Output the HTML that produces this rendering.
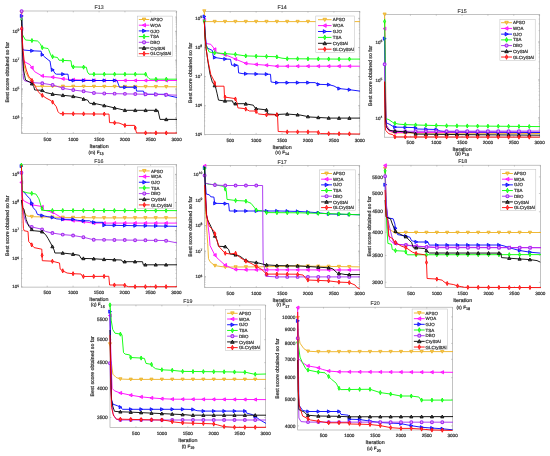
<!DOCTYPE html>
<html><head><meta charset="utf-8"><style>
html,body{margin:0;padding:0;background:#fff;}
svg{display:block;filter:blur(0.3px);}
</style></head><body>
<svg width="550" height="456" viewBox="0 0 550 456" text-rendering="geometricPrecision" font-family="'Liberation Sans', Arial, sans-serif">
<style>text{stroke:#2e2e2e;stroke-width:0.2px;} text.t{stroke:#333;fill:#333;stroke-width:0.12px;}</style>
<rect width="550" height="456" fill="#fff"/>
<text class="t" x="99.1" y="9.1" font-size="5.3" text-anchor="middle" fill="#2e2e2e">F13</text>
<rect x="21.6" y="11" width="155" height="122.5" fill="#fff" stroke="#9a9a9a" stroke-width="0.6"/>
<path d="M47.43 133.5v-1.4M47.43 11v1.4" stroke="#9a9a9a" stroke-width="0.5"/>
<text x="47.43" y="140.7" font-size="4.6" text-anchor="middle" fill="#2e2e2e">500</text>
<path d="M73.27 133.5v-1.4M73.27 11v1.4" stroke="#9a9a9a" stroke-width="0.5"/>
<text x="73.27" y="140.7" font-size="4.6" text-anchor="middle" fill="#2e2e2e">1000</text>
<path d="M99.1 133.5v-1.4M99.1 11v1.4" stroke="#9a9a9a" stroke-width="0.5"/>
<text x="99.1" y="140.7" font-size="4.6" text-anchor="middle" fill="#2e2e2e">1500</text>
<path d="M124.93 133.5v-1.4M124.93 11v1.4" stroke="#9a9a9a" stroke-width="0.5"/>
<text x="124.93" y="140.7" font-size="4.6" text-anchor="middle" fill="#2e2e2e">2000</text>
<path d="M150.77 133.5v-1.4M150.77 11v1.4" stroke="#9a9a9a" stroke-width="0.5"/>
<text x="150.77" y="140.7" font-size="4.6" text-anchor="middle" fill="#2e2e2e">2500</text>
<path d="M176.6 133.5v-1.4M176.6 11v1.4" stroke="#9a9a9a" stroke-width="0.5"/>
<text x="176.6" y="140.7" font-size="4.6" text-anchor="middle" fill="#2e2e2e">3000</text>
<path d="M21.6 31.3h1.4M176.6 31.3h-1.4" stroke="#9a9a9a" stroke-width="0.5"/>
<text x="19.3" y="32.9" font-size="4.5" text-anchor="end" fill="#2e2e2e">10<tspan font-size="3.3" dy="-1.8">9</tspan></text>
<path d="M21.6 60.14h1.4M176.6 60.14h-1.4" stroke="#9a9a9a" stroke-width="0.5"/>
<text x="19.3" y="61.74" font-size="4.5" text-anchor="end" fill="#2e2e2e">10<tspan font-size="3.3" dy="-1.8">7</tspan></text>
<path d="M21.6 88.98h1.4M176.6 88.98h-1.4" stroke="#9a9a9a" stroke-width="0.5"/>
<text x="19.3" y="90.58" font-size="4.5" text-anchor="end" fill="#2e2e2e">10<tspan font-size="3.3" dy="-1.8">5</tspan></text>
<path d="M21.6 117.82h1.4M176.6 117.82h-1.4" stroke="#9a9a9a" stroke-width="0.5"/>
<text x="19.3" y="119.42" font-size="4.5" text-anchor="end" fill="#2e2e2e">10<tspan font-size="3.3" dy="-1.8">3</tspan></text>
<path d="M21.6 132.9h1M176.6 132.9h-1" stroke="#9a9a9a" stroke-width="0.45"/>
<path d="M21.6 132.24h1.4M176.6 132.24h-1.4" stroke="#9a9a9a" stroke-width="0.45"/>
<path d="M21.6 127.9h1M176.6 127.9h-1" stroke="#9a9a9a" stroke-width="0.45"/>
<path d="M21.6 125.36h1M176.6 125.36h-1" stroke="#9a9a9a" stroke-width="0.45"/>
<path d="M21.6 123.56h1M176.6 123.56h-1" stroke="#9a9a9a" stroke-width="0.45"/>
<path d="M21.6 122.16h1M176.6 122.16h-1" stroke="#9a9a9a" stroke-width="0.45"/>
<path d="M21.6 121.02h1M176.6 121.02h-1" stroke="#9a9a9a" stroke-width="0.45"/>
<path d="M21.6 120.05h1M176.6 120.05h-1" stroke="#9a9a9a" stroke-width="0.45"/>
<path d="M21.6 119.22h1M176.6 119.22h-1" stroke="#9a9a9a" stroke-width="0.45"/>
<path d="M21.6 118.48h1M176.6 118.48h-1" stroke="#9a9a9a" stroke-width="0.45"/>
<path d="M21.6 117.82h1.4M176.6 117.82h-1.4" stroke="#9a9a9a" stroke-width="0.45"/>
<path d="M21.6 113.48h1M176.6 113.48h-1" stroke="#9a9a9a" stroke-width="0.45"/>
<path d="M21.6 110.94h1M176.6 110.94h-1" stroke="#9a9a9a" stroke-width="0.45"/>
<path d="M21.6 109.14h1M176.6 109.14h-1" stroke="#9a9a9a" stroke-width="0.45"/>
<path d="M21.6 107.74h1M176.6 107.74h-1" stroke="#9a9a9a" stroke-width="0.45"/>
<path d="M21.6 106.6h1M176.6 106.6h-1" stroke="#9a9a9a" stroke-width="0.45"/>
<path d="M21.6 105.63h1M176.6 105.63h-1" stroke="#9a9a9a" stroke-width="0.45"/>
<path d="M21.6 104.8h1M176.6 104.8h-1" stroke="#9a9a9a" stroke-width="0.45"/>
<path d="M21.6 104.06h1M176.6 104.06h-1" stroke="#9a9a9a" stroke-width="0.45"/>
<path d="M21.6 103.4h1.4M176.6 103.4h-1.4" stroke="#9a9a9a" stroke-width="0.45"/>
<path d="M21.6 99.06h1M176.6 99.06h-1" stroke="#9a9a9a" stroke-width="0.45"/>
<path d="M21.6 96.52h1M176.6 96.52h-1" stroke="#9a9a9a" stroke-width="0.45"/>
<path d="M21.6 94.72h1M176.6 94.72h-1" stroke="#9a9a9a" stroke-width="0.45"/>
<path d="M21.6 93.32h1M176.6 93.32h-1" stroke="#9a9a9a" stroke-width="0.45"/>
<path d="M21.6 92.18h1M176.6 92.18h-1" stroke="#9a9a9a" stroke-width="0.45"/>
<path d="M21.6 91.21h1M176.6 91.21h-1" stroke="#9a9a9a" stroke-width="0.45"/>
<path d="M21.6 90.38h1M176.6 90.38h-1" stroke="#9a9a9a" stroke-width="0.45"/>
<path d="M21.6 89.64h1M176.6 89.64h-1" stroke="#9a9a9a" stroke-width="0.45"/>
<path d="M21.6 88.98h1.4M176.6 88.98h-1.4" stroke="#9a9a9a" stroke-width="0.45"/>
<path d="M21.6 84.64h1M176.6 84.64h-1" stroke="#9a9a9a" stroke-width="0.45"/>
<path d="M21.6 82.1h1M176.6 82.1h-1" stroke="#9a9a9a" stroke-width="0.45"/>
<path d="M21.6 80.3h1M176.6 80.3h-1" stroke="#9a9a9a" stroke-width="0.45"/>
<path d="M21.6 78.9h1M176.6 78.9h-1" stroke="#9a9a9a" stroke-width="0.45"/>
<path d="M21.6 77.76h1M176.6 77.76h-1" stroke="#9a9a9a" stroke-width="0.45"/>
<path d="M21.6 76.79h1M176.6 76.79h-1" stroke="#9a9a9a" stroke-width="0.45"/>
<path d="M21.6 75.96h1M176.6 75.96h-1" stroke="#9a9a9a" stroke-width="0.45"/>
<path d="M21.6 75.22h1M176.6 75.22h-1" stroke="#9a9a9a" stroke-width="0.45"/>
<path d="M21.6 74.56h1.4M176.6 74.56h-1.4" stroke="#9a9a9a" stroke-width="0.45"/>
<path d="M21.6 70.22h1M176.6 70.22h-1" stroke="#9a9a9a" stroke-width="0.45"/>
<path d="M21.6 67.68h1M176.6 67.68h-1" stroke="#9a9a9a" stroke-width="0.45"/>
<path d="M21.6 65.88h1M176.6 65.88h-1" stroke="#9a9a9a" stroke-width="0.45"/>
<path d="M21.6 64.48h1M176.6 64.48h-1" stroke="#9a9a9a" stroke-width="0.45"/>
<path d="M21.6 63.34h1M176.6 63.34h-1" stroke="#9a9a9a" stroke-width="0.45"/>
<path d="M21.6 62.37h1M176.6 62.37h-1" stroke="#9a9a9a" stroke-width="0.45"/>
<path d="M21.6 61.54h1M176.6 61.54h-1" stroke="#9a9a9a" stroke-width="0.45"/>
<path d="M21.6 60.8h1M176.6 60.8h-1" stroke="#9a9a9a" stroke-width="0.45"/>
<path d="M21.6 60.14h1.4M176.6 60.14h-1.4" stroke="#9a9a9a" stroke-width="0.45"/>
<path d="M21.6 55.8h1M176.6 55.8h-1" stroke="#9a9a9a" stroke-width="0.45"/>
<path d="M21.6 53.26h1M176.6 53.26h-1" stroke="#9a9a9a" stroke-width="0.45"/>
<path d="M21.6 51.46h1M176.6 51.46h-1" stroke="#9a9a9a" stroke-width="0.45"/>
<path d="M21.6 50.06h1M176.6 50.06h-1" stroke="#9a9a9a" stroke-width="0.45"/>
<path d="M21.6 48.92h1M176.6 48.92h-1" stroke="#9a9a9a" stroke-width="0.45"/>
<path d="M21.6 47.95h1M176.6 47.95h-1" stroke="#9a9a9a" stroke-width="0.45"/>
<path d="M21.6 47.12h1M176.6 47.12h-1" stroke="#9a9a9a" stroke-width="0.45"/>
<path d="M21.6 46.38h1M176.6 46.38h-1" stroke="#9a9a9a" stroke-width="0.45"/>
<path d="M21.6 45.72h1.4M176.6 45.72h-1.4" stroke="#9a9a9a" stroke-width="0.45"/>
<path d="M21.6 41.38h1M176.6 41.38h-1" stroke="#9a9a9a" stroke-width="0.45"/>
<path d="M21.6 38.84h1M176.6 38.84h-1" stroke="#9a9a9a" stroke-width="0.45"/>
<path d="M21.6 37.04h1M176.6 37.04h-1" stroke="#9a9a9a" stroke-width="0.45"/>
<path d="M21.6 35.64h1M176.6 35.64h-1" stroke="#9a9a9a" stroke-width="0.45"/>
<path d="M21.6 34.5h1M176.6 34.5h-1" stroke="#9a9a9a" stroke-width="0.45"/>
<path d="M21.6 33.53h1M176.6 33.53h-1" stroke="#9a9a9a" stroke-width="0.45"/>
<path d="M21.6 32.7h1M176.6 32.7h-1" stroke="#9a9a9a" stroke-width="0.45"/>
<path d="M21.6 31.96h1M176.6 31.96h-1" stroke="#9a9a9a" stroke-width="0.45"/>
<path d="M21.6 31.3h1.4M176.6 31.3h-1.4" stroke="#9a9a9a" stroke-width="0.45"/>
<path d="M21.6 26.96h1M176.6 26.96h-1" stroke="#9a9a9a" stroke-width="0.45"/>
<path d="M21.6 24.42h1M176.6 24.42h-1" stroke="#9a9a9a" stroke-width="0.45"/>
<path d="M21.6 22.62h1M176.6 22.62h-1" stroke="#9a9a9a" stroke-width="0.45"/>
<path d="M21.6 21.22h1M176.6 21.22h-1" stroke="#9a9a9a" stroke-width="0.45"/>
<path d="M21.6 20.08h1M176.6 20.08h-1" stroke="#9a9a9a" stroke-width="0.45"/>
<path d="M21.6 19.11h1M176.6 19.11h-1" stroke="#9a9a9a" stroke-width="0.45"/>
<path d="M21.6 18.28h1M176.6 18.28h-1" stroke="#9a9a9a" stroke-width="0.45"/>
<path d="M21.6 17.54h1M176.6 17.54h-1" stroke="#9a9a9a" stroke-width="0.45"/>
<path d="M21.6 16.88h1.4M176.6 16.88h-1.4" stroke="#9a9a9a" stroke-width="0.45"/>
<path d="M21.6 12.54h1M176.6 12.54h-1" stroke="#9a9a9a" stroke-width="0.45"/>
<text x="99.1" y="148" font-size="5.3" text-anchor="middle" fill="#2e2e2e">Iteration</text>
<text x="96.1" y="153.5" font-size="4.6" text-anchor="middle" fill="#2e2e2e">(m) F<tspan font-size="3.8" dy="1.3">13</tspan></text>
<text transform="translate(9.1 72.25) rotate(-90)" font-size="5.2" text-anchor="middle" fill="#2e2e2e">Best score obtained so far</text>
<svg x="19.6" y="8" width="159" height="127.5" viewBox="19.6 8 159 127.5" overflow="hidden">
<path d="M21.6 12.5 L22 40 L23 60 L25.5 72 L28.8 78.3 L33 83.3 L36 86.3 L177 86.8" fill="none" stroke="#EDB120" stroke-width="0.9" stroke-linejoin="round"/>
<path d="M20.01 11.22L23.2 11.22L21.6 14.09Z" fill="#f2c862" stroke="#EDB120" stroke-width="0.8" stroke-linejoin="miter"/>
<path d="M30.34 80.75L33.53 80.75L31.93 83.63Z" fill="#f2c862" stroke="#EDB120" stroke-width="0.8" stroke-linejoin="miter"/>
<path d="M40.67 85.05L43.86 85.05L42.27 87.92Z" fill="#f2c862" stroke="#EDB120" stroke-width="0.8" stroke-linejoin="miter"/>
<path d="M51.01 85.08L54.2 85.08L52.6 87.95Z" fill="#f2c862" stroke="#EDB120" stroke-width="0.8" stroke-linejoin="miter"/>
<path d="M61.34 85.12L64.53 85.12L62.93 87.99Z" fill="#f2c862" stroke="#EDB120" stroke-width="0.8" stroke-linejoin="miter"/>
<path d="M71.67 85.16L74.86 85.16L73.27 88.03Z" fill="#f2c862" stroke="#EDB120" stroke-width="0.8" stroke-linejoin="miter"/>
<path d="M82 85.19L85.19 85.19L83.6 88.06Z" fill="#f2c862" stroke="#EDB120" stroke-width="0.8" stroke-linejoin="miter"/>
<path d="M92.34 85.23L95.53 85.23L93.93 88.1Z" fill="#f2c862" stroke="#EDB120" stroke-width="0.8" stroke-linejoin="miter"/>
<path d="M102.67 85.27L105.86 85.27L104.27 88.14Z" fill="#f2c862" stroke="#EDB120" stroke-width="0.8" stroke-linejoin="miter"/>
<path d="M113 85.3L116.19 85.3L114.6 88.17Z" fill="#f2c862" stroke="#EDB120" stroke-width="0.8" stroke-linejoin="miter"/>
<path d="M123.34 85.34L126.53 85.34L124.93 88.21Z" fill="#f2c862" stroke="#EDB120" stroke-width="0.8" stroke-linejoin="miter"/>
<path d="M133.67 85.38L136.86 85.38L135.27 88.25Z" fill="#f2c862" stroke="#EDB120" stroke-width="0.8" stroke-linejoin="miter"/>
<path d="M144 85.41L147.19 85.41L145.6 88.28Z" fill="#f2c862" stroke="#EDB120" stroke-width="0.8" stroke-linejoin="miter"/>
<path d="M154.34 85.45L157.53 85.45L155.93 88.32Z" fill="#f2c862" stroke="#EDB120" stroke-width="0.8" stroke-linejoin="miter"/>
<path d="M164.67 85.49L167.86 85.49L166.27 88.36Z" fill="#f2c862" stroke="#EDB120" stroke-width="0.8" stroke-linejoin="miter"/>
<path d="M21.6 29 L22.5 45 L23.2 59.4 L25 62 L29.9 64.6 L32.9 69.1 L34.7 71.7 L41.3 75.5 L44.7 76.7 L53 77.2 L63 78.8 L71.3 79.7 L99 80.5 L177 80.5" fill="none" stroke="#FF00FF" stroke-width="0.9" stroke-linejoin="round"/>
<path d="M22.88 27.41L22.88 30.59L20.01 29Z" fill="#ff4cff" stroke="#FF00FF" stroke-width="0.8" stroke-linejoin="miter"/>
<path d="M33.21 66.06L33.21 69.25L30.34 67.65Z" fill="#ff4cff" stroke="#FF00FF" stroke-width="0.8" stroke-linejoin="miter"/>
<path d="M43.54 74.25L43.54 77.44L40.67 75.84Z" fill="#ff4cff" stroke="#FF00FF" stroke-width="0.8" stroke-linejoin="miter"/>
<path d="M53.88 75.58L53.88 78.77L51.01 77.18Z" fill="#ff4cff" stroke="#FF00FF" stroke-width="0.8" stroke-linejoin="miter"/>
<path d="M64.21 77.19L64.21 80.38L61.34 78.79Z" fill="#ff4cff" stroke="#FF00FF" stroke-width="0.8" stroke-linejoin="miter"/>
<path d="M74.54 78.16L74.54 81.35L71.67 79.76Z" fill="#ff4cff" stroke="#FF00FF" stroke-width="0.8" stroke-linejoin="miter"/>
<path d="M84.88 78.46L84.88 81.65L82 80.06Z" fill="#ff4cff" stroke="#FF00FF" stroke-width="0.8" stroke-linejoin="miter"/>
<path d="M95.21 78.76L95.21 81.95L92.34 80.35Z" fill="#ff4cff" stroke="#FF00FF" stroke-width="0.8" stroke-linejoin="miter"/>
<path d="M105.54 78.91L105.54 82.09L102.67 80.5Z" fill="#ff4cff" stroke="#FF00FF" stroke-width="0.8" stroke-linejoin="miter"/>
<path d="M115.88 78.91L115.88 82.09L113 80.5Z" fill="#ff4cff" stroke="#FF00FF" stroke-width="0.8" stroke-linejoin="miter"/>
<path d="M126.21 78.91L126.21 82.09L123.34 80.5Z" fill="#ff4cff" stroke="#FF00FF" stroke-width="0.8" stroke-linejoin="miter"/>
<path d="M136.54 78.91L136.54 82.09L133.67 80.5Z" fill="#ff4cff" stroke="#FF00FF" stroke-width="0.8" stroke-linejoin="miter"/>
<path d="M146.88 78.91L146.88 82.09L144 80.5Z" fill="#ff4cff" stroke="#FF00FF" stroke-width="0.8" stroke-linejoin="miter"/>
<path d="M157.21 78.91L157.21 82.09L154.34 80.5Z" fill="#ff4cff" stroke="#FF00FF" stroke-width="0.8" stroke-linejoin="miter"/>
<path d="M167.54 78.91L167.54 82.09L164.67 80.5Z" fill="#ff4cff" stroke="#FF00FF" stroke-width="0.8" stroke-linejoin="miter"/>
<path d="M21.6 15.9 L22.3 30 L22.5 48.2 L23.5 50 L32.2 50.8 L41.1 51.2 L41.8 54.2 L43.5 56 L49 60.5 L50 61 L51.3 69.2 L53 70 L55 73.5 L56.5 74.2 L68 74.2 L68.8 80.5 L117 80.5 L119.5 87.3 L136 87.3 L136.5 91.1 L143.5 91.1 L144.5 94.3 L165 94.3 L168 95.5 L177 97.5" fill="none" stroke="#0000FF" stroke-width="0.9" stroke-linejoin="round"/>
<path d="M20.32 14.3L20.32 17.5L23.2 15.9Z" fill="#4c4cff" stroke="#0000FF" stroke-width="0.8" stroke-linejoin="miter"/>
<path d="M30.66 49.18L30.66 52.37L33.53 50.78Z" fill="#4c4cff" stroke="#0000FF" stroke-width="0.8" stroke-linejoin="miter"/>
<path d="M40.99 53.1L40.99 56.29L43.86 54.69Z" fill="#4c4cff" stroke="#0000FF" stroke-width="0.8" stroke-linejoin="miter"/>
<path d="M51.32 68.22L51.32 71.41L54.2 69.81Z" fill="#4c4cff" stroke="#0000FF" stroke-width="0.8" stroke-linejoin="miter"/>
<path d="M61.66 72.61L61.66 75.8L64.53 74.2Z" fill="#4c4cff" stroke="#0000FF" stroke-width="0.8" stroke-linejoin="miter"/>
<path d="M71.99 78.91L71.99 82.09L74.86 80.5Z" fill="#4c4cff" stroke="#0000FF" stroke-width="0.8" stroke-linejoin="miter"/>
<path d="M82.32 78.91L82.32 82.09L85.19 80.5Z" fill="#4c4cff" stroke="#0000FF" stroke-width="0.8" stroke-linejoin="miter"/>
<path d="M92.66 78.91L92.66 82.09L95.53 80.5Z" fill="#4c4cff" stroke="#0000FF" stroke-width="0.8" stroke-linejoin="miter"/>
<path d="M102.99 78.91L102.99 82.09L105.86 80.5Z" fill="#4c4cff" stroke="#0000FF" stroke-width="0.8" stroke-linejoin="miter"/>
<path d="M113.32 78.91L113.32 82.09L116.19 80.5Z" fill="#4c4cff" stroke="#0000FF" stroke-width="0.8" stroke-linejoin="miter"/>
<path d="M123.66 85.7L123.66 88.89L126.53 87.3Z" fill="#4c4cff" stroke="#0000FF" stroke-width="0.8" stroke-linejoin="miter"/>
<path d="M133.99 85.7L133.99 88.89L136.86 87.3Z" fill="#4c4cff" stroke="#0000FF" stroke-width="0.8" stroke-linejoin="miter"/>
<path d="M144.32 92.7L144.32 95.89L147.19 94.3Z" fill="#4c4cff" stroke="#0000FF" stroke-width="0.8" stroke-linejoin="miter"/>
<path d="M154.66 92.7L154.66 95.89L157.53 94.3Z" fill="#4c4cff" stroke="#0000FF" stroke-width="0.8" stroke-linejoin="miter"/>
<path d="M164.99 93.21L164.99 96.4L167.86 94.81Z" fill="#4c4cff" stroke="#0000FF" stroke-width="0.8" stroke-linejoin="miter"/>
<path d="M21.6 19.2 L22.5 34.8 L25.5 40 L37.5 41 L40.4 43.8 L41.8 47.5 L48 48.5 L48.6 49.5 L50 53 L51.5 56.5 L57.5 57.5 L59 60.2 L71 60.8 L71.8 66.9 L86.3 67.2 L87.5 72 L89 74.2 L146 74.2 L147.5 77 L149 78.5 L150 79.2 L177 79.2" fill="none" stroke="#00FF00" stroke-width="0.9" stroke-linejoin="round"/>
<path d="M21.6 17.13L22.59 19.2L21.6 21.27L20.61 19.2Z" fill="#4cff4c" stroke="#00FF00" stroke-width="0.8" stroke-linejoin="miter"/>
<path d="M31.93 38.46L32.92 40.54L31.93 42.61L30.94 40.54Z" fill="#4cff4c" stroke="#00FF00" stroke-width="0.8" stroke-linejoin="miter"/>
<path d="M42.27 45.5L43.26 47.58L42.27 49.65L41.28 47.58Z" fill="#4cff4c" stroke="#00FF00" stroke-width="0.8" stroke-linejoin="miter"/>
<path d="M52.6 54.61L53.59 56.68L52.6 58.76L51.61 56.68Z" fill="#4cff4c" stroke="#00FF00" stroke-width="0.8" stroke-linejoin="miter"/>
<path d="M62.93 58.32L63.92 60.4L62.93 62.47L61.94 60.4Z" fill="#4cff4c" stroke="#00FF00" stroke-width="0.8" stroke-linejoin="miter"/>
<path d="M73.27 64.86L74.26 66.93L73.27 69L72.28 66.93Z" fill="#4cff4c" stroke="#00FF00" stroke-width="0.8" stroke-linejoin="miter"/>
<path d="M83.6 65.07L84.59 67.14L83.6 69.22L82.61 67.14Z" fill="#4cff4c" stroke="#00FF00" stroke-width="0.8" stroke-linejoin="miter"/>
<path d="M93.93 72.13L94.92 74.2L93.93 76.27L92.94 74.2Z" fill="#4cff4c" stroke="#00FF00" stroke-width="0.8" stroke-linejoin="miter"/>
<path d="M104.27 72.13L105.26 74.2L104.27 76.27L103.28 74.2Z" fill="#4cff4c" stroke="#00FF00" stroke-width="0.8" stroke-linejoin="miter"/>
<path d="M114.6 72.13L115.59 74.2L114.6 76.27L113.61 74.2Z" fill="#4cff4c" stroke="#00FF00" stroke-width="0.8" stroke-linejoin="miter"/>
<path d="M124.93 72.13L125.92 74.2L124.93 76.27L123.94 74.2Z" fill="#4cff4c" stroke="#00FF00" stroke-width="0.8" stroke-linejoin="miter"/>
<path d="M135.27 72.13L136.26 74.2L135.27 76.27L134.28 74.2Z" fill="#4cff4c" stroke="#00FF00" stroke-width="0.8" stroke-linejoin="miter"/>
<path d="M145.6 72.13L146.59 74.2L145.6 76.27L144.61 74.2Z" fill="#4cff4c" stroke="#00FF00" stroke-width="0.8" stroke-linejoin="miter"/>
<path d="M155.93 77.13L156.92 79.2L155.93 81.27L154.94 79.2Z" fill="#4cff4c" stroke="#00FF00" stroke-width="0.8" stroke-linejoin="miter"/>
<path d="M166.27 77.13L167.26 79.2L166.27 81.27L165.28 79.2Z" fill="#4cff4c" stroke="#00FF00" stroke-width="0.8" stroke-linejoin="miter"/>
<path d="M21.6 11.1 L22.3 40 L23 70 L23.6 79 L24.7 80.8 L31.3 82.5 L42.2 83.3 L53 85 L63 88.3 L73 90 L83.8 91.3 L94.3 93 L105 93.5 L160 94.5 L177 95.2" fill="none" stroke="#A52AF0" stroke-width="0.9" stroke-linejoin="round"/>
<circle cx="21.6" cy="11.1" r="1.4" fill="#dba9f9" stroke="#A52AF0" stroke-width="1.1"/>
<circle cx="31.93" cy="82.55" r="1.4" fill="#dba9f9" stroke="#A52AF0" stroke-width="1.1"/>
<circle cx="42.27" cy="83.31" r="1.4" fill="#dba9f9" stroke="#A52AF0" stroke-width="1.1"/>
<circle cx="52.6" cy="84.94" r="1.4" fill="#dba9f9" stroke="#A52AF0" stroke-width="1.1"/>
<circle cx="62.93" cy="88.28" r="1.4" fill="#dba9f9" stroke="#A52AF0" stroke-width="1.1"/>
<circle cx="73.27" cy="90.03" r="1.4" fill="#dba9f9" stroke="#A52AF0" stroke-width="1.1"/>
<circle cx="83.6" cy="91.28" r="1.4" fill="#dba9f9" stroke="#A52AF0" stroke-width="1.1"/>
<circle cx="93.93" cy="92.94" r="1.4" fill="#dba9f9" stroke="#A52AF0" stroke-width="1.1"/>
<circle cx="104.27" cy="93.47" r="1.4" fill="#dba9f9" stroke="#A52AF0" stroke-width="1.1"/>
<circle cx="114.6" cy="93.67" r="1.4" fill="#dba9f9" stroke="#A52AF0" stroke-width="1.1"/>
<circle cx="124.93" cy="93.86" r="1.4" fill="#dba9f9" stroke="#A52AF0" stroke-width="1.1"/>
<circle cx="135.27" cy="94.05" r="1.4" fill="#dba9f9" stroke="#A52AF0" stroke-width="1.1"/>
<circle cx="145.6" cy="94.24" r="1.4" fill="#dba9f9" stroke="#A52AF0" stroke-width="1.1"/>
<circle cx="155.93" cy="94.43" r="1.4" fill="#dba9f9" stroke="#A52AF0" stroke-width="1.1"/>
<circle cx="166.27" cy="94.76" r="1.4" fill="#dba9f9" stroke="#A52AF0" stroke-width="1.1"/>
<path d="M21.6 20 L22.5 50 L23.5 70 L24.7 75.8 L25.5 80 L31.5 83 L33.8 86.7 L34.7 90 L42.2 90.3 L45.5 92.5 L53 94.2 L63 95.3 L73 96.3 L81.5 98 L83.8 99.2 L87.5 100 L89.7 103.3 L95 103.5 L104.5 105.6 L115 108 L125 110.3 L158 110.3 L160 119.4 L177 119.4" fill="none" stroke="#000000" stroke-width="0.9" stroke-linejoin="round"/>
<path d="M30.34 84.97L33.53 84.97L31.93 82.1Z" fill="#4c4c4c" stroke="#000000" stroke-width="0.8" stroke-linejoin="miter"/>
<path d="M40.67 91.62L43.86 91.62L42.27 88.75Z" fill="#4c4c4c" stroke="#000000" stroke-width="0.8" stroke-linejoin="miter"/>
<path d="M51.01 95.39L54.2 95.39L52.6 92.51Z" fill="#4c4c4c" stroke="#000000" stroke-width="0.8" stroke-linejoin="miter"/>
<path d="M61.34 96.57L64.53 96.57L62.93 93.7Z" fill="#4c4c4c" stroke="#000000" stroke-width="0.8" stroke-linejoin="miter"/>
<path d="M71.67 97.63L74.86 97.63L73.27 94.76Z" fill="#4c4c4c" stroke="#000000" stroke-width="0.8" stroke-linejoin="miter"/>
<path d="M82 100.37L85.19 100.37L83.6 97.5Z" fill="#4c4c4c" stroke="#000000" stroke-width="0.8" stroke-linejoin="miter"/>
<path d="M92.34 104.74L95.53 104.74L93.93 101.86Z" fill="#4c4c4c" stroke="#000000" stroke-width="0.8" stroke-linejoin="miter"/>
<path d="M102.67 106.82L105.86 106.82L104.27 103.95Z" fill="#4c4c4c" stroke="#000000" stroke-width="0.8" stroke-linejoin="miter"/>
<path d="M113 109.18L116.19 109.18L114.6 106.31Z" fill="#4c4c4c" stroke="#000000" stroke-width="0.8" stroke-linejoin="miter"/>
<path d="M123.34 111.56L126.53 111.56L124.93 108.69Z" fill="#4c4c4c" stroke="#000000" stroke-width="0.8" stroke-linejoin="miter"/>
<path d="M133.67 111.58L136.86 111.58L135.27 108.7Z" fill="#4c4c4c" stroke="#000000" stroke-width="0.8" stroke-linejoin="miter"/>
<path d="M144 111.58L147.19 111.58L145.6 108.7Z" fill="#4c4c4c" stroke="#000000" stroke-width="0.8" stroke-linejoin="miter"/>
<path d="M154.34 111.58L157.53 111.58L155.93 108.7Z" fill="#4c4c4c" stroke="#000000" stroke-width="0.8" stroke-linejoin="miter"/>
<path d="M164.67 120.68L167.86 120.68L166.27 117.81Z" fill="#4c4c4c" stroke="#000000" stroke-width="0.8" stroke-linejoin="miter"/>
<path d="M21.6 28.5 L23 50 L24.3 62 L26.3 70 L28.5 76 L32.2 80.8 L36.3 88.3 L38.8 92.5 L42.2 95.3 L46 98 L51.3 100.8 L53 102.5 L56.3 106.7 L58 111.7 L60 113.7 L109 114.1 L109.5 122.6 L119 123 L125 125.4 L134.6 125.4 L136.5 132.9 L177 133" fill="none" stroke="#FF0000" stroke-width="0.9" stroke-linejoin="round"/>
<path d="M21.6 26.43L22.59 28.5L21.6 30.57L20.61 28.5Z" fill="#ff4c4c" stroke="#FF0000" stroke-width="0.8" stroke-linejoin="miter"/>
<path d="M31.93 78.38L32.92 80.45L31.93 82.53L30.94 80.45Z" fill="#ff4c4c" stroke="#FF0000" stroke-width="0.8" stroke-linejoin="miter"/>
<path d="M42.27 93.27L43.26 95.35L42.27 97.42L41.28 95.35Z" fill="#ff4c4c" stroke="#FF0000" stroke-width="0.8" stroke-linejoin="miter"/>
<path d="M52.6 100.03L53.59 102.1L52.6 104.17L51.61 102.1Z" fill="#ff4c4c" stroke="#FF0000" stroke-width="0.8" stroke-linejoin="miter"/>
<path d="M62.93 111.65L63.92 113.72L62.93 115.8L61.94 113.72Z" fill="#ff4c4c" stroke="#FF0000" stroke-width="0.8" stroke-linejoin="miter"/>
<path d="M73.27 111.73L74.26 113.81L73.27 115.88L72.28 113.81Z" fill="#ff4c4c" stroke="#FF0000" stroke-width="0.8" stroke-linejoin="miter"/>
<path d="M83.6 111.82L84.59 113.89L83.6 115.97L82.61 113.89Z" fill="#ff4c4c" stroke="#FF0000" stroke-width="0.8" stroke-linejoin="miter"/>
<path d="M93.93 111.9L94.92 113.98L93.93 116.05L92.94 113.98Z" fill="#ff4c4c" stroke="#FF0000" stroke-width="0.8" stroke-linejoin="miter"/>
<path d="M104.27 111.99L105.26 114.06L104.27 116.13L103.28 114.06Z" fill="#ff4c4c" stroke="#FF0000" stroke-width="0.8" stroke-linejoin="miter"/>
<path d="M114.6 120.74L115.59 122.81L114.6 124.89L113.61 122.81Z" fill="#ff4c4c" stroke="#FF0000" stroke-width="0.8" stroke-linejoin="miter"/>
<path d="M124.93 123.3L125.92 125.37L124.93 127.45L123.94 125.37Z" fill="#ff4c4c" stroke="#FF0000" stroke-width="0.8" stroke-linejoin="miter"/>
<path d="M135.27 125.96L136.26 128.03L135.27 130.11L134.28 128.03Z" fill="#ff4c4c" stroke="#FF0000" stroke-width="0.8" stroke-linejoin="miter"/>
<path d="M145.6 130.85L146.59 132.92L145.6 135L144.61 132.92Z" fill="#ff4c4c" stroke="#FF0000" stroke-width="0.8" stroke-linejoin="miter"/>
<path d="M155.93 130.87L156.92 132.95L155.93 135.02L154.94 132.95Z" fill="#ff4c4c" stroke="#FF0000" stroke-width="0.8" stroke-linejoin="miter"/>
<path d="M166.27 130.9L167.26 132.97L166.27 135.05L165.28 132.97Z" fill="#ff4c4c" stroke="#FF0000" stroke-width="0.8" stroke-linejoin="miter"/>
</svg>
<rect x="137.3" y="16.1" width="35.3" height="40.5" fill="#fff" stroke="#bdbdbd" stroke-width="0.5"/>
<path d="M138.8 19.5H149.3" stroke="#EDB120" stroke-width="0.9"/>
<path d="M142.27 18.07L145.84 18.07L144.05 21.29Z" fill="#f2c862" stroke="#EDB120" stroke-width="0.8" stroke-linejoin="miter"/>
<text x="150.3" y="21.1" font-size="4.45" fill="#2e2e2e">APSO</text>
<path d="M138.8 25.2H149.3" stroke="#FF00FF" stroke-width="0.9"/>
<path d="M145.48 23.41L145.48 26.98L142.27 25.2Z" fill="#ff4cff" stroke="#FF00FF" stroke-width="0.8" stroke-linejoin="miter"/>
<text x="150.3" y="26.8" font-size="4.45" fill="#2e2e2e">WOA</text>
<path d="M138.8 30.9H149.3" stroke="#0000FF" stroke-width="0.9"/>
<path d="M142.62 29.11L142.62 32.68L145.84 30.9Z" fill="#4c4cff" stroke="#0000FF" stroke-width="0.8" stroke-linejoin="miter"/>
<text x="150.3" y="32.5" font-size="4.45" fill="#2e2e2e">GJO</text>
<path d="M138.8 36.6H149.3" stroke="#00FF00" stroke-width="0.9"/>
<path d="M144.05 34.28L145.16 36.6L144.05 38.92L142.94 36.6Z" fill="#4cff4c" stroke="#00FF00" stroke-width="0.8" stroke-linejoin="miter"/>
<text x="150.3" y="38.2" font-size="4.45" fill="#2e2e2e">TSA</text>
<path d="M138.8 42.3H149.3" stroke="#A52AF0" stroke-width="0.9"/>
<circle cx="144.05" cy="42.3" r="1.53" fill="#dba9f9" stroke="#A52AF0" stroke-width="1.1"/>
<text x="150.3" y="43.9" font-size="4.45" fill="#2e2e2e">DBO</text>
<path d="M138.8 48H149.3" stroke="#000000" stroke-width="0.9"/>
<path d="M142.27 49.43L145.84 49.43L144.05 46.22Z" fill="#4c4c4c" stroke="#000000" stroke-width="0.8" stroke-linejoin="miter"/>
<text x="150.3" y="49.6" font-size="4.45" fill="#2e2e2e">CryStAl</text>
<path d="M138.8 53.7H149.3" stroke="#FF0000" stroke-width="0.9"/>
<path d="M144.05 51.38L145.16 53.7L144.05 56.02L142.94 53.7Z" fill="#ff4c4c" stroke="#FF0000" stroke-width="0.8" stroke-linejoin="miter"/>
<text x="150.3" y="55.3" font-size="4.45" fill="#2e2e2e">GLCryStAl</text>
<text class="t" x="282.05" y="9.4" font-size="5.3" text-anchor="middle" fill="#2e2e2e">F14</text>
<rect x="204.3" y="11.3" width="155.5" height="123" fill="#fff" stroke="#9a9a9a" stroke-width="0.6"/>
<path d="M230.22 134.3v-1.4M230.22 11.3v1.4" stroke="#9a9a9a" stroke-width="0.5"/>
<text x="230.22" y="141.5" font-size="4.6" text-anchor="middle" fill="#2e2e2e">500</text>
<path d="M256.13 134.3v-1.4M256.13 11.3v1.4" stroke="#9a9a9a" stroke-width="0.5"/>
<text x="256.13" y="141.5" font-size="4.6" text-anchor="middle" fill="#2e2e2e">1000</text>
<path d="M282.05 134.3v-1.4M282.05 11.3v1.4" stroke="#9a9a9a" stroke-width="0.5"/>
<text x="282.05" y="141.5" font-size="4.6" text-anchor="middle" fill="#2e2e2e">1500</text>
<path d="M307.97 134.3v-1.4M307.97 11.3v1.4" stroke="#9a9a9a" stroke-width="0.5"/>
<text x="307.97" y="141.5" font-size="4.6" text-anchor="middle" fill="#2e2e2e">2000</text>
<path d="M333.88 134.3v-1.4M333.88 11.3v1.4" stroke="#9a9a9a" stroke-width="0.5"/>
<text x="333.88" y="141.5" font-size="4.6" text-anchor="middle" fill="#2e2e2e">2500</text>
<path d="M359.8 134.3v-1.4M359.8 11.3v1.4" stroke="#9a9a9a" stroke-width="0.5"/>
<text x="359.8" y="141.5" font-size="4.6" text-anchor="middle" fill="#2e2e2e">3000</text>
<path d="M204.3 18.4h1.4M359.8 18.4h-1.4" stroke="#9a9a9a" stroke-width="0.5"/>
<text x="202" y="20" font-size="4.5" text-anchor="end" fill="#2e2e2e">10<tspan font-size="3.3" dy="-1.8">9</tspan></text>
<path d="M204.3 47.5h1.4M359.8 47.5h-1.4" stroke="#9a9a9a" stroke-width="0.5"/>
<text x="202" y="49.1" font-size="4.5" text-anchor="end" fill="#2e2e2e">10<tspan font-size="3.3" dy="-1.8">8</tspan></text>
<path d="M204.3 76.6h1.4M359.8 76.6h-1.4" stroke="#9a9a9a" stroke-width="0.5"/>
<text x="202" y="78.2" font-size="4.5" text-anchor="end" fill="#2e2e2e">10<tspan font-size="3.3" dy="-1.8">7</tspan></text>
<path d="M204.3 105.7h1.4M359.8 105.7h-1.4" stroke="#9a9a9a" stroke-width="0.5"/>
<text x="202" y="107.3" font-size="4.5" text-anchor="end" fill="#2e2e2e">10<tspan font-size="3.3" dy="-1.8">6</tspan></text>
<path d="M204.3 134.8h1.4M359.8 134.8h-1.4" stroke="#9a9a9a" stroke-width="0.5"/>
<text x="202" y="136.4" font-size="4.5" text-anchor="end" fill="#2e2e2e">10<tspan font-size="3.3" dy="-1.8">5</tspan></text>
<path d="M204.3 126.04h1M359.8 126.04h-1" stroke="#9a9a9a" stroke-width="0.45"/>
<path d="M204.3 120.92h1M359.8 120.92h-1" stroke="#9a9a9a" stroke-width="0.45"/>
<path d="M204.3 117.28h1M359.8 117.28h-1" stroke="#9a9a9a" stroke-width="0.45"/>
<path d="M204.3 114.46h1M359.8 114.46h-1" stroke="#9a9a9a" stroke-width="0.45"/>
<path d="M204.3 112.16h1M359.8 112.16h-1" stroke="#9a9a9a" stroke-width="0.45"/>
<path d="M204.3 110.21h1M359.8 110.21h-1" stroke="#9a9a9a" stroke-width="0.45"/>
<path d="M204.3 108.52h1M359.8 108.52h-1" stroke="#9a9a9a" stroke-width="0.45"/>
<path d="M204.3 107.03h1M359.8 107.03h-1" stroke="#9a9a9a" stroke-width="0.45"/>
<path d="M204.3 105.7h1.4M359.8 105.7h-1.4" stroke="#9a9a9a" stroke-width="0.45"/>
<path d="M204.3 96.94h1M359.8 96.94h-1" stroke="#9a9a9a" stroke-width="0.45"/>
<path d="M204.3 91.82h1M359.8 91.82h-1" stroke="#9a9a9a" stroke-width="0.45"/>
<path d="M204.3 88.18h1M359.8 88.18h-1" stroke="#9a9a9a" stroke-width="0.45"/>
<path d="M204.3 85.36h1M359.8 85.36h-1" stroke="#9a9a9a" stroke-width="0.45"/>
<path d="M204.3 83.06h1M359.8 83.06h-1" stroke="#9a9a9a" stroke-width="0.45"/>
<path d="M204.3 81.11h1M359.8 81.11h-1" stroke="#9a9a9a" stroke-width="0.45"/>
<path d="M204.3 79.42h1M359.8 79.42h-1" stroke="#9a9a9a" stroke-width="0.45"/>
<path d="M204.3 77.93h1M359.8 77.93h-1" stroke="#9a9a9a" stroke-width="0.45"/>
<path d="M204.3 76.6h1.4M359.8 76.6h-1.4" stroke="#9a9a9a" stroke-width="0.45"/>
<path d="M204.3 67.84h1M359.8 67.84h-1" stroke="#9a9a9a" stroke-width="0.45"/>
<path d="M204.3 62.72h1M359.8 62.72h-1" stroke="#9a9a9a" stroke-width="0.45"/>
<path d="M204.3 59.08h1M359.8 59.08h-1" stroke="#9a9a9a" stroke-width="0.45"/>
<path d="M204.3 56.26h1M359.8 56.26h-1" stroke="#9a9a9a" stroke-width="0.45"/>
<path d="M204.3 53.96h1M359.8 53.96h-1" stroke="#9a9a9a" stroke-width="0.45"/>
<path d="M204.3 52.01h1M359.8 52.01h-1" stroke="#9a9a9a" stroke-width="0.45"/>
<path d="M204.3 50.32h1M359.8 50.32h-1" stroke="#9a9a9a" stroke-width="0.45"/>
<path d="M204.3 48.83h1M359.8 48.83h-1" stroke="#9a9a9a" stroke-width="0.45"/>
<path d="M204.3 47.5h1.4M359.8 47.5h-1.4" stroke="#9a9a9a" stroke-width="0.45"/>
<path d="M204.3 38.74h1M359.8 38.74h-1" stroke="#9a9a9a" stroke-width="0.45"/>
<path d="M204.3 33.62h1M359.8 33.62h-1" stroke="#9a9a9a" stroke-width="0.45"/>
<path d="M204.3 29.98h1M359.8 29.98h-1" stroke="#9a9a9a" stroke-width="0.45"/>
<path d="M204.3 27.16h1M359.8 27.16h-1" stroke="#9a9a9a" stroke-width="0.45"/>
<path d="M204.3 24.86h1M359.8 24.86h-1" stroke="#9a9a9a" stroke-width="0.45"/>
<path d="M204.3 22.91h1M359.8 22.91h-1" stroke="#9a9a9a" stroke-width="0.45"/>
<path d="M204.3 21.22h1M359.8 21.22h-1" stroke="#9a9a9a" stroke-width="0.45"/>
<path d="M204.3 19.73h1M359.8 19.73h-1" stroke="#9a9a9a" stroke-width="0.45"/>
<path d="M204.3 18.4h1.4M359.8 18.4h-1.4" stroke="#9a9a9a" stroke-width="0.45"/>
<text x="282.05" y="148.9" font-size="5.3" text-anchor="middle" fill="#2e2e2e">Iteration</text>
<text x="282.25" y="153.8" font-size="4.6" text-anchor="middle" fill="#2e2e2e">(n) F<tspan font-size="3.8" dy="1.3">14</tspan></text>
<text transform="translate(192.4 72.8) rotate(-90)" font-size="5.2" text-anchor="middle" fill="#2e2e2e">Best score obtained so far</text>
<svg x="202.3" y="8.3" width="159.5" height="128" viewBox="202.3 8.3 159.5 128" overflow="hidden">
<path d="M204.3 11.1 L204.6 21.1 L206 21.6 L360 21.6" fill="none" stroke="#EDB120" stroke-width="0.9" stroke-linejoin="round"/>
<path d="M202.71 9.82L205.9 9.82L204.3 12.7Z" fill="#f2c862" stroke="#EDB120" stroke-width="0.8" stroke-linejoin="miter"/>
<path d="M213.07 20.32L216.26 20.32L214.67 23.2Z" fill="#f2c862" stroke="#EDB120" stroke-width="0.8" stroke-linejoin="miter"/>
<path d="M223.44 20.32L226.63 20.32L225.03 23.2Z" fill="#f2c862" stroke="#EDB120" stroke-width="0.8" stroke-linejoin="miter"/>
<path d="M233.81 20.32L237 20.32L235.4 23.2Z" fill="#f2c862" stroke="#EDB120" stroke-width="0.8" stroke-linejoin="miter"/>
<path d="M244.17 20.32L247.36 20.32L245.77 23.2Z" fill="#f2c862" stroke="#EDB120" stroke-width="0.8" stroke-linejoin="miter"/>
<path d="M254.54 20.32L257.73 20.32L256.13 23.2Z" fill="#f2c862" stroke="#EDB120" stroke-width="0.8" stroke-linejoin="miter"/>
<path d="M264.9 20.32L268.1 20.32L266.5 23.2Z" fill="#f2c862" stroke="#EDB120" stroke-width="0.8" stroke-linejoin="miter"/>
<path d="M275.27 20.32L278.46 20.32L276.87 23.2Z" fill="#f2c862" stroke="#EDB120" stroke-width="0.8" stroke-linejoin="miter"/>
<path d="M285.64 20.32L288.83 20.32L287.23 23.2Z" fill="#f2c862" stroke="#EDB120" stroke-width="0.8" stroke-linejoin="miter"/>
<path d="M296 20.32L299.2 20.32L297.6 23.2Z" fill="#f2c862" stroke="#EDB120" stroke-width="0.8" stroke-linejoin="miter"/>
<path d="M306.37 20.32L309.56 20.32L307.97 23.2Z" fill="#f2c862" stroke="#EDB120" stroke-width="0.8" stroke-linejoin="miter"/>
<path d="M316.74 20.32L319.93 20.32L318.33 23.2Z" fill="#f2c862" stroke="#EDB120" stroke-width="0.8" stroke-linejoin="miter"/>
<path d="M327.11 20.32L330.3 20.32L328.7 23.2Z" fill="#f2c862" stroke="#EDB120" stroke-width="0.8" stroke-linejoin="miter"/>
<path d="M337.47 20.32L340.66 20.32L339.07 23.2Z" fill="#f2c862" stroke="#EDB120" stroke-width="0.8" stroke-linejoin="miter"/>
<path d="M347.84 20.32L351.03 20.32L349.43 23.2Z" fill="#f2c862" stroke="#EDB120" stroke-width="0.8" stroke-linejoin="miter"/>
<path d="M204.3 20 L205 35 L206.2 43.5 L210.8 44.3 L213 47 L214.7 49.4 L217 52.8 L224 54.5 L230.1 56.7 L235.2 59 L240 61 L246.4 63.6 L255.6 64.4 L266 65.2 L276 66.2 L360 66.2" fill="none" stroke="#FF00FF" stroke-width="0.9" stroke-linejoin="round"/>
<path d="M205.58 18.41L205.58 21.59L202.71 20Z" fill="#ff4cff" stroke="#FF00FF" stroke-width="0.8" stroke-linejoin="miter"/>
<path d="M215.94 47.76L215.94 50.95L213.07 49.35Z" fill="#ff4cff" stroke="#FF00FF" stroke-width="0.8" stroke-linejoin="miter"/>
<path d="M226.31 53.28L226.31 56.47L223.44 54.87Z" fill="#ff4cff" stroke="#FF00FF" stroke-width="0.8" stroke-linejoin="miter"/>
<path d="M236.68 57.49L236.68 60.68L233.81 59.08Z" fill="#ff4cff" stroke="#FF00FF" stroke-width="0.8" stroke-linejoin="miter"/>
<path d="M247.04 61.75L247.04 64.94L244.17 63.34Z" fill="#ff4cff" stroke="#FF00FF" stroke-width="0.8" stroke-linejoin="miter"/>
<path d="M257.41 62.85L257.41 66.04L254.54 64.44Z" fill="#ff4cff" stroke="#FF00FF" stroke-width="0.8" stroke-linejoin="miter"/>
<path d="M267.78 63.66L267.78 66.84L264.9 65.25Z" fill="#ff4cff" stroke="#FF00FF" stroke-width="0.8" stroke-linejoin="miter"/>
<path d="M278.14 64.61L278.14 67.8L275.27 66.2Z" fill="#ff4cff" stroke="#FF00FF" stroke-width="0.8" stroke-linejoin="miter"/>
<path d="M288.51 64.61L288.51 67.8L285.64 66.2Z" fill="#ff4cff" stroke="#FF00FF" stroke-width="0.8" stroke-linejoin="miter"/>
<path d="M298.88 64.61L298.88 67.8L296 66.2Z" fill="#ff4cff" stroke="#FF00FF" stroke-width="0.8" stroke-linejoin="miter"/>
<path d="M309.24 64.61L309.24 67.8L306.37 66.2Z" fill="#ff4cff" stroke="#FF00FF" stroke-width="0.8" stroke-linejoin="miter"/>
<path d="M319.61 64.61L319.61 67.8L316.74 66.2Z" fill="#ff4cff" stroke="#FF00FF" stroke-width="0.8" stroke-linejoin="miter"/>
<path d="M329.98 64.61L329.98 67.8L327.11 66.2Z" fill="#ff4cff" stroke="#FF00FF" stroke-width="0.8" stroke-linejoin="miter"/>
<path d="M340.34 64.61L340.34 67.8L337.47 66.2Z" fill="#ff4cff" stroke="#FF00FF" stroke-width="0.8" stroke-linejoin="miter"/>
<path d="M350.71 64.61L350.71 67.8L347.84 66.2Z" fill="#ff4cff" stroke="#FF00FF" stroke-width="0.8" stroke-linejoin="miter"/>
<path d="M204.3 16.5 L205 30 L206.2 45.1 L207.7 48.2 L212.4 50.5 L213.2 55.9 L214.7 57.5 L224.7 59 L230.5 59.3 L231.7 65.2 L238 65.2 L238.6 72.9 L243 73.7 L270.5 74.3 L271.1 82 L276 82.7 L315 82.6 L318 84.3 L329 84.7 L334 86 L338.6 88.5 L347 89.4 L360 91.1" fill="none" stroke="#0000FF" stroke-width="0.9" stroke-linejoin="round"/>
<path d="M203.02 14.91L203.02 18.09L205.9 16.5Z" fill="#4c4cff" stroke="#0000FF" stroke-width="0.8" stroke-linejoin="miter"/>
<path d="M213.39 55.87L213.39 59.06L216.26 57.46Z" fill="#4c4cff" stroke="#0000FF" stroke-width="0.8" stroke-linejoin="miter"/>
<path d="M223.76 57.42L223.76 60.61L226.63 59.02Z" fill="#4c4cff" stroke="#0000FF" stroke-width="0.8" stroke-linejoin="miter"/>
<path d="M234.12 63.61L234.12 66.8L237 65.2Z" fill="#4c4cff" stroke="#0000FF" stroke-width="0.8" stroke-linejoin="miter"/>
<path d="M244.49 72.17L244.49 75.36L247.36 73.76Z" fill="#4c4cff" stroke="#0000FF" stroke-width="0.8" stroke-linejoin="miter"/>
<path d="M254.86 72.39L254.86 75.58L257.73 73.99Z" fill="#4c4cff" stroke="#0000FF" stroke-width="0.8" stroke-linejoin="miter"/>
<path d="M265.22 72.62L265.22 75.81L268.1 74.21Z" fill="#4c4cff" stroke="#0000FF" stroke-width="0.8" stroke-linejoin="miter"/>
<path d="M275.59 81.1L275.59 84.29L278.46 82.7Z" fill="#4c4cff" stroke="#0000FF" stroke-width="0.8" stroke-linejoin="miter"/>
<path d="M285.96 81.08L285.96 84.27L288.83 82.67Z" fill="#4c4cff" stroke="#0000FF" stroke-width="0.8" stroke-linejoin="miter"/>
<path d="M296.32 81.05L296.32 84.24L299.2 82.64Z" fill="#4c4cff" stroke="#0000FF" stroke-width="0.8" stroke-linejoin="miter"/>
<path d="M306.69 81.02L306.69 84.21L309.56 82.62Z" fill="#4c4cff" stroke="#0000FF" stroke-width="0.8" stroke-linejoin="miter"/>
<path d="M317.06 82.72L317.06 85.91L319.93 84.31Z" fill="#4c4cff" stroke="#0000FF" stroke-width="0.8" stroke-linejoin="miter"/>
<path d="M327.42 83.09L327.42 86.28L330.3 84.69Z" fill="#4c4cff" stroke="#0000FF" stroke-width="0.8" stroke-linejoin="miter"/>
<path d="M337.79 86.95L337.79 90.14L340.66 88.55Z" fill="#4c4cff" stroke="#0000FF" stroke-width="0.8" stroke-linejoin="miter"/>
<path d="M348.16 88.12L348.16 91.31L351.03 89.72Z" fill="#4c4cff" stroke="#0000FF" stroke-width="0.8" stroke-linejoin="miter"/>
<path d="M204.3 21.2 L205 35 L205.8 45 L209.3 52 L214.7 52.8 L224.7 53.6 L235.2 54.4 L245.3 55.9 L255.6 56.2 L276 56.7 L279 57.5 L282 58.2 L286.5 58.7 L338 59.1 L360 59.1" fill="none" stroke="#00FF00" stroke-width="0.9" stroke-linejoin="round"/>
<path d="M204.3 19.13L205.29 21.2L204.3 23.27L203.31 21.2Z" fill="#4cff4c" stroke="#00FF00" stroke-width="0.8" stroke-linejoin="miter"/>
<path d="M214.67 50.72L215.66 52.8L214.67 54.87L213.68 52.8Z" fill="#4cff4c" stroke="#00FF00" stroke-width="0.8" stroke-linejoin="miter"/>
<path d="M225.03 51.55L226.02 53.63L225.03 55.7L224.04 53.63Z" fill="#4cff4c" stroke="#00FF00" stroke-width="0.8" stroke-linejoin="miter"/>
<path d="M235.4 52.36L236.39 54.43L235.4 56.5L234.41 54.43Z" fill="#4cff4c" stroke="#00FF00" stroke-width="0.8" stroke-linejoin="miter"/>
<path d="M245.77 53.84L246.76 55.91L245.77 57.99L244.78 55.91Z" fill="#4cff4c" stroke="#00FF00" stroke-width="0.8" stroke-linejoin="miter"/>
<path d="M256.13 54.14L257.12 56.21L256.13 58.29L255.14 56.21Z" fill="#4cff4c" stroke="#00FF00" stroke-width="0.8" stroke-linejoin="miter"/>
<path d="M266.5 54.39L267.49 56.47L266.5 58.54L265.51 56.47Z" fill="#4cff4c" stroke="#00FF00" stroke-width="0.8" stroke-linejoin="miter"/>
<path d="M276.87 54.86L277.86 56.93L276.87 59L275.88 56.93Z" fill="#4cff4c" stroke="#00FF00" stroke-width="0.8" stroke-linejoin="miter"/>
<path d="M287.23 56.63L288.22 58.71L287.23 60.78L286.24 58.71Z" fill="#4cff4c" stroke="#00FF00" stroke-width="0.8" stroke-linejoin="miter"/>
<path d="M297.6 56.71L298.59 58.79L297.6 60.86L296.61 58.79Z" fill="#4cff4c" stroke="#00FF00" stroke-width="0.8" stroke-linejoin="miter"/>
<path d="M307.97 56.79L308.96 58.87L307.97 60.94L306.98 58.87Z" fill="#4cff4c" stroke="#00FF00" stroke-width="0.8" stroke-linejoin="miter"/>
<path d="M318.33 56.87L319.32 58.95L318.33 61.02L317.34 58.95Z" fill="#4cff4c" stroke="#00FF00" stroke-width="0.8" stroke-linejoin="miter"/>
<path d="M328.7 56.95L329.69 59.03L328.7 61.1L327.71 59.03Z" fill="#4cff4c" stroke="#00FF00" stroke-width="0.8" stroke-linejoin="miter"/>
<path d="M339.07 57.03L340.06 59.1L339.07 61.17L338.08 59.1Z" fill="#4cff4c" stroke="#00FF00" stroke-width="0.8" stroke-linejoin="miter"/>
<path d="M349.43 57.03L350.42 59.1L349.43 61.17L348.44 59.1Z" fill="#4cff4c" stroke="#00FF00" stroke-width="0.8" stroke-linejoin="miter"/>
<path d="M204.3 21 L205 36 L206 48 L208 62 L210 74 L212.4 82.4 L213.9 84.2 L215.5 87 L217 93.2 L218.5 100.1 L224 100.9 L232.5 100.9 L233.2 103.2 L235.2 103.7 L244.8 103.7 L253.3 105.2 L255.6 108.6 L266.5 109.9 L268 114 L276.2 114.5 L286.5 114 L300 115 L310 117 L330 118.1 L360 118.1" fill="none" stroke="#000000" stroke-width="0.9" stroke-linejoin="round"/>
<path d="M213.07 86.82L216.26 86.82L214.67 83.95Z" fill="#4c4c4c" stroke="#000000" stroke-width="0.8" stroke-linejoin="miter"/>
<path d="M223.44 102.18L226.63 102.18L225.03 99.31Z" fill="#4c4c4c" stroke="#000000" stroke-width="0.8" stroke-linejoin="miter"/>
<path d="M233.81 104.98L237 104.98L235.4 102.11Z" fill="#4c4c4c" stroke="#000000" stroke-width="0.8" stroke-linejoin="miter"/>
<path d="M244.17 105.15L247.36 105.15L245.77 102.28Z" fill="#4c4c4c" stroke="#000000" stroke-width="0.8" stroke-linejoin="miter"/>
<path d="M254.54 109.94L257.73 109.94L256.13 107.07Z" fill="#4c4c4c" stroke="#000000" stroke-width="0.8" stroke-linejoin="miter"/>
<path d="M264.9 111.18L268.1 111.18L266.5 108.31Z" fill="#4c4c4c" stroke="#000000" stroke-width="0.8" stroke-linejoin="miter"/>
<path d="M275.27 115.74L278.46 115.74L276.87 112.87Z" fill="#4c4c4c" stroke="#000000" stroke-width="0.8" stroke-linejoin="miter"/>
<path d="M285.64 115.33L288.83 115.33L287.23 112.46Z" fill="#4c4c4c" stroke="#000000" stroke-width="0.8" stroke-linejoin="miter"/>
<path d="M296 116.1L299.2 116.1L297.6 113.23Z" fill="#4c4c4c" stroke="#000000" stroke-width="0.8" stroke-linejoin="miter"/>
<path d="M306.37 117.87L309.56 117.87L307.97 115Z" fill="#4c4c4c" stroke="#000000" stroke-width="0.8" stroke-linejoin="miter"/>
<path d="M316.74 118.73L319.93 118.73L318.33 115.86Z" fill="#4c4c4c" stroke="#000000" stroke-width="0.8" stroke-linejoin="miter"/>
<path d="M327.11 119.3L330.3 119.3L328.7 116.43Z" fill="#4c4c4c" stroke="#000000" stroke-width="0.8" stroke-linejoin="miter"/>
<path d="M337.47 119.38L340.66 119.38L339.07 116.5Z" fill="#4c4c4c" stroke="#000000" stroke-width="0.8" stroke-linejoin="miter"/>
<path d="M347.84 119.38L351.03 119.38L349.43 116.5Z" fill="#4c4c4c" stroke="#000000" stroke-width="0.8" stroke-linejoin="miter"/>
<path d="M204.3 21 L205 36 L206 48 L208 61 L210.8 74.5 L214.2 81.1 L215.5 86.2 L224 86.2 L224.5 97 L235.2 98.6 L237 102.5 L237.9 107.9 L244.8 108.6 L249.5 111 L255.6 111 L258.7 114 L266.5 114.8 L277.5 114.8 L278.2 131.5 L286.5 131.9 L317 131.9 L320.6 133.6 L360 134" fill="none" stroke="#FF0000" stroke-width="0.9" stroke-linejoin="round"/>
<path d="M214.67 80.86L215.66 82.93L214.67 85L213.68 82.93Z" fill="#ff4c4c" stroke="#FF0000" stroke-width="0.8" stroke-linejoin="miter"/>
<path d="M225.03 95.01L226.02 97.08L225.03 99.15L224.04 97.08Z" fill="#ff4c4c" stroke="#FF0000" stroke-width="0.8" stroke-linejoin="miter"/>
<path d="M235.4 96.96L236.39 99.03L235.4 101.11L234.41 99.03Z" fill="#ff4c4c" stroke="#FF0000" stroke-width="0.8" stroke-linejoin="miter"/>
<path d="M245.77 107.02L246.76 109.09L245.77 111.17L244.78 109.09Z" fill="#ff4c4c" stroke="#FF0000" stroke-width="0.8" stroke-linejoin="miter"/>
<path d="M256.13 109.44L257.12 111.52L256.13 113.59L255.14 111.52Z" fill="#ff4c4c" stroke="#FF0000" stroke-width="0.8" stroke-linejoin="miter"/>
<path d="M266.5 112.73L267.49 114.8L266.5 116.87L265.51 114.8Z" fill="#ff4c4c" stroke="#FF0000" stroke-width="0.8" stroke-linejoin="miter"/>
<path d="M276.87 112.73L277.86 114.8L276.87 116.87L275.88 114.8Z" fill="#ff4c4c" stroke="#FF0000" stroke-width="0.8" stroke-linejoin="miter"/>
<path d="M287.23 129.83L288.22 131.9L287.23 133.97L286.24 131.9Z" fill="#ff4c4c" stroke="#FF0000" stroke-width="0.8" stroke-linejoin="miter"/>
<path d="M297.6 129.83L298.59 131.9L297.6 133.97L296.61 131.9Z" fill="#ff4c4c" stroke="#FF0000" stroke-width="0.8" stroke-linejoin="miter"/>
<path d="M307.97 129.83L308.96 131.9L307.97 133.97L306.98 131.9Z" fill="#ff4c4c" stroke="#FF0000" stroke-width="0.8" stroke-linejoin="miter"/>
<path d="M318.33 130.46L319.32 132.53L318.33 134.6L317.34 132.53Z" fill="#ff4c4c" stroke="#FF0000" stroke-width="0.8" stroke-linejoin="miter"/>
<path d="M328.7 131.61L329.69 133.68L328.7 135.76L327.71 133.68Z" fill="#ff4c4c" stroke="#FF0000" stroke-width="0.8" stroke-linejoin="miter"/>
<path d="M339.07 131.71L340.06 133.79L339.07 135.86L338.08 133.79Z" fill="#ff4c4c" stroke="#FF0000" stroke-width="0.8" stroke-linejoin="miter"/>
<path d="M349.43 131.82L350.42 133.89L349.43 135.97L348.44 133.89Z" fill="#ff4c4c" stroke="#FF0000" stroke-width="0.8" stroke-linejoin="miter"/>
</svg>
<rect x="315.8" y="16" width="38.7" height="36.5" fill="#fff" stroke="#bdbdbd" stroke-width="0.5"/>
<path d="M318 19.7H331.5" stroke="#EDB120" stroke-width="0.9"/>
<path d="M322.96 18.27L326.54 18.27L324.75 21.48Z" fill="#f2c862" stroke="#EDB120" stroke-width="0.8" stroke-linejoin="miter"/>
<text x="332.8" y="21.3" font-size="4.45" fill="#2e2e2e">APSO</text>
<path d="M318 25.6H331.5" stroke="#FF00FF" stroke-width="0.9"/>
<path d="M326.18 23.82L326.18 27.39L322.96 25.6Z" fill="#ff4cff" stroke="#FF00FF" stroke-width="0.8" stroke-linejoin="miter"/>
<text x="332.8" y="27.2" font-size="4.45" fill="#2e2e2e">WOA</text>
<path d="M318 31.5H331.5" stroke="#0000FF" stroke-width="0.9"/>
<path d="M323.32 29.71L323.32 33.28L326.54 31.5Z" fill="#4c4cff" stroke="#0000FF" stroke-width="0.8" stroke-linejoin="miter"/>
<text x="332.8" y="33.1" font-size="4.45" fill="#2e2e2e">GJO</text>
<path d="M318 37.4H331.5" stroke="#00FF00" stroke-width="0.9"/>
<path d="M324.75 35.08L325.86 37.4L324.75 39.72L323.64 37.4Z" fill="#4cff4c" stroke="#00FF00" stroke-width="0.8" stroke-linejoin="miter"/>
<text x="332.8" y="39" font-size="4.45" fill="#2e2e2e">TSA</text>
<path d="M318 43.3H331.5" stroke="#000000" stroke-width="0.9"/>
<path d="M322.96 44.73L326.54 44.73L324.75 41.52Z" fill="#4c4c4c" stroke="#000000" stroke-width="0.8" stroke-linejoin="miter"/>
<text x="332.8" y="44.9" font-size="4.45" fill="#2e2e2e">CryStAl</text>
<path d="M318 49.2H331.5" stroke="#FF0000" stroke-width="0.9"/>
<path d="M324.75 46.88L325.86 49.2L324.75 51.52L323.64 49.2Z" fill="#ff4c4c" stroke="#FF0000" stroke-width="0.8" stroke-linejoin="miter"/>
<text x="332.8" y="50.8" font-size="4.45" fill="#2e2e2e">GLCryStAl</text>
<text class="t" x="462.1" y="12.5" font-size="5.3" text-anchor="middle" fill="#2e2e2e">F15</text>
<rect x="384.6" y="14.4" width="155" height="122.8" fill="#fff" stroke="#9a9a9a" stroke-width="0.6"/>
<path d="M410.43 137.2v-1.4M410.43 14.4v1.4" stroke="#9a9a9a" stroke-width="0.5"/>
<text x="410.43" y="144.4" font-size="4.6" text-anchor="middle" fill="#2e2e2e">500</text>
<path d="M436.27 137.2v-1.4M436.27 14.4v1.4" stroke="#9a9a9a" stroke-width="0.5"/>
<text x="436.27" y="144.4" font-size="4.6" text-anchor="middle" fill="#2e2e2e">1000</text>
<path d="M462.1 137.2v-1.4M462.1 14.4v1.4" stroke="#9a9a9a" stroke-width="0.5"/>
<text x="462.1" y="144.4" font-size="4.6" text-anchor="middle" fill="#2e2e2e">1500</text>
<path d="M487.93 137.2v-1.4M487.93 14.4v1.4" stroke="#9a9a9a" stroke-width="0.5"/>
<text x="487.93" y="144.4" font-size="4.6" text-anchor="middle" fill="#2e2e2e">2000</text>
<path d="M513.77 137.2v-1.4M513.77 14.4v1.4" stroke="#9a9a9a" stroke-width="0.5"/>
<text x="513.77" y="144.4" font-size="4.6" text-anchor="middle" fill="#2e2e2e">2500</text>
<path d="M539.6 137.2v-1.4M539.6 14.4v1.4" stroke="#9a9a9a" stroke-width="0.5"/>
<text x="539.6" y="144.4" font-size="4.6" text-anchor="middle" fill="#2e2e2e">3000</text>
<path d="M384.6 42h1.4M539.6 42h-1.4" stroke="#9a9a9a" stroke-width="0.5"/>
<text x="382.3" y="43.6" font-size="4.5" text-anchor="end" fill="#2e2e2e">10<tspan font-size="3.3" dy="-1.8">6</tspan></text>
<path d="M384.6 79.95h1.4M539.6 79.95h-1.4" stroke="#9a9a9a" stroke-width="0.5"/>
<text x="382.3" y="81.55" font-size="4.5" text-anchor="end" fill="#2e2e2e">10<tspan font-size="3.3" dy="-1.8">5</tspan></text>
<path d="M384.6 117.9h1.4M539.6 117.9h-1.4" stroke="#9a9a9a" stroke-width="0.5"/>
<text x="382.3" y="119.5" font-size="4.5" text-anchor="end" fill="#2e2e2e">10<tspan font-size="3.3" dy="-1.8">4</tspan></text>
<path d="M384.6 133h1M539.6 133h-1" stroke="#9a9a9a" stroke-width="0.45"/>
<path d="M384.6 129.32h1M539.6 129.32h-1" stroke="#9a9a9a" stroke-width="0.45"/>
<path d="M384.6 126.32h1M539.6 126.32h-1" stroke="#9a9a9a" stroke-width="0.45"/>
<path d="M384.6 123.78h1M539.6 123.78h-1" stroke="#9a9a9a" stroke-width="0.45"/>
<path d="M384.6 121.58h1M539.6 121.58h-1" stroke="#9a9a9a" stroke-width="0.45"/>
<path d="M384.6 119.64h1M539.6 119.64h-1" stroke="#9a9a9a" stroke-width="0.45"/>
<path d="M384.6 117.9h1.4M539.6 117.9h-1.4" stroke="#9a9a9a" stroke-width="0.45"/>
<path d="M384.6 106.48h1M539.6 106.48h-1" stroke="#9a9a9a" stroke-width="0.45"/>
<path d="M384.6 99.79h1M539.6 99.79h-1" stroke="#9a9a9a" stroke-width="0.45"/>
<path d="M384.6 95.05h1M539.6 95.05h-1" stroke="#9a9a9a" stroke-width="0.45"/>
<path d="M384.6 91.37h1M539.6 91.37h-1" stroke="#9a9a9a" stroke-width="0.45"/>
<path d="M384.6 88.37h1M539.6 88.37h-1" stroke="#9a9a9a" stroke-width="0.45"/>
<path d="M384.6 85.83h1M539.6 85.83h-1" stroke="#9a9a9a" stroke-width="0.45"/>
<path d="M384.6 83.63h1M539.6 83.63h-1" stroke="#9a9a9a" stroke-width="0.45"/>
<path d="M384.6 81.69h1M539.6 81.69h-1" stroke="#9a9a9a" stroke-width="0.45"/>
<path d="M384.6 79.95h1.4M539.6 79.95h-1.4" stroke="#9a9a9a" stroke-width="0.45"/>
<path d="M384.6 68.53h1M539.6 68.53h-1" stroke="#9a9a9a" stroke-width="0.45"/>
<path d="M384.6 61.84h1M539.6 61.84h-1" stroke="#9a9a9a" stroke-width="0.45"/>
<path d="M384.6 57.1h1M539.6 57.1h-1" stroke="#9a9a9a" stroke-width="0.45"/>
<path d="M384.6 53.42h1M539.6 53.42h-1" stroke="#9a9a9a" stroke-width="0.45"/>
<path d="M384.6 50.42h1M539.6 50.42h-1" stroke="#9a9a9a" stroke-width="0.45"/>
<path d="M384.6 47.88h1M539.6 47.88h-1" stroke="#9a9a9a" stroke-width="0.45"/>
<path d="M384.6 45.68h1M539.6 45.68h-1" stroke="#9a9a9a" stroke-width="0.45"/>
<path d="M384.6 43.74h1M539.6 43.74h-1" stroke="#9a9a9a" stroke-width="0.45"/>
<path d="M384.6 42h1.4M539.6 42h-1.4" stroke="#9a9a9a" stroke-width="0.45"/>
<path d="M384.6 30.58h1M539.6 30.58h-1" stroke="#9a9a9a" stroke-width="0.45"/>
<path d="M384.6 23.89h1M539.6 23.89h-1" stroke="#9a9a9a" stroke-width="0.45"/>
<path d="M384.6 19.15h1M539.6 19.15h-1" stroke="#9a9a9a" stroke-width="0.45"/>
<path d="M384.6 15.47h1M539.6 15.47h-1" stroke="#9a9a9a" stroke-width="0.45"/>
<text x="462.1" y="151.3" font-size="5.3" text-anchor="middle" fill="#2e2e2e">Iteration</text>
<text x="462.1" y="154.6" font-size="4.6" text-anchor="middle" fill="#2e2e2e">(p) F<tspan font-size="3.8" dy="1.3">15</tspan></text>
<text transform="translate(371.9 75.8) rotate(-90)" font-size="5.2" text-anchor="middle" fill="#2e2e2e">Best score obtained so far</text>
<svg x="382.6" y="11.4" width="159" height="127.8" viewBox="382.6 11.4 159 127.8" overflow="hidden">
<path d="M384.6 14.3 L385.2 40 L385.8 100 L386.5 125 L389 131 L394 133 L540 133.5" fill="none" stroke="#EDB120" stroke-width="0.9" stroke-linejoin="round"/>
<path d="M383 13.02L386.2 13.02L384.6 15.89Z" fill="#f2c862" stroke="#EDB120" stroke-width="0.8" stroke-linejoin="miter"/>
<path d="M393.34 131.73L396.53 131.73L394.93 134.6Z" fill="#f2c862" stroke="#EDB120" stroke-width="0.8" stroke-linejoin="miter"/>
<path d="M403.67 131.76L406.86 131.76L405.27 134.63Z" fill="#f2c862" stroke="#EDB120" stroke-width="0.8" stroke-linejoin="miter"/>
<path d="M414 131.8L417.2 131.8L415.6 134.67Z" fill="#f2c862" stroke="#EDB120" stroke-width="0.8" stroke-linejoin="miter"/>
<path d="M424.34 131.83L427.53 131.83L425.93 134.7Z" fill="#f2c862" stroke="#EDB120" stroke-width="0.8" stroke-linejoin="miter"/>
<path d="M434.67 131.87L437.86 131.87L436.27 134.74Z" fill="#f2c862" stroke="#EDB120" stroke-width="0.8" stroke-linejoin="miter"/>
<path d="M445 131.9L448.2 131.9L446.6 134.78Z" fill="#f2c862" stroke="#EDB120" stroke-width="0.8" stroke-linejoin="miter"/>
<path d="M455.34 131.94L458.53 131.94L456.93 134.81Z" fill="#f2c862" stroke="#EDB120" stroke-width="0.8" stroke-linejoin="miter"/>
<path d="M465.67 131.97L468.86 131.97L467.27 134.85Z" fill="#f2c862" stroke="#EDB120" stroke-width="0.8" stroke-linejoin="miter"/>
<path d="M476 132.01L479.2 132.01L477.6 134.88Z" fill="#f2c862" stroke="#EDB120" stroke-width="0.8" stroke-linejoin="miter"/>
<path d="M486.34 132.05L489.53 132.05L487.93 134.92Z" fill="#f2c862" stroke="#EDB120" stroke-width="0.8" stroke-linejoin="miter"/>
<path d="M496.67 132.08L499.86 132.08L498.27 134.95Z" fill="#f2c862" stroke="#EDB120" stroke-width="0.8" stroke-linejoin="miter"/>
<path d="M507 132.12L510.2 132.12L508.6 134.99Z" fill="#f2c862" stroke="#EDB120" stroke-width="0.8" stroke-linejoin="miter"/>
<path d="M517.34 132.15L520.53 132.15L518.93 135.02Z" fill="#f2c862" stroke="#EDB120" stroke-width="0.8" stroke-linejoin="miter"/>
<path d="M527.67 132.19L530.86 132.19L529.27 135.06Z" fill="#f2c862" stroke="#EDB120" stroke-width="0.8" stroke-linejoin="miter"/>
<path d="M384.6 28.6 L385.2 60 L385.8 110 L386.5 127 L389 130.8 L394.6 132.5 L540 132.3" fill="none" stroke="#FF00FF" stroke-width="0.9" stroke-linejoin="round"/>
<path d="M385.88 27.01L385.88 30.2L383 28.6Z" fill="#ff4cff" stroke="#FF00FF" stroke-width="0.8" stroke-linejoin="miter"/>
<path d="M396.21 130.9L396.21 134.09L393.34 132.5Z" fill="#ff4cff" stroke="#FF00FF" stroke-width="0.8" stroke-linejoin="miter"/>
<path d="M406.54 130.89L406.54 134.08L403.67 132.49Z" fill="#ff4cff" stroke="#FF00FF" stroke-width="0.8" stroke-linejoin="miter"/>
<path d="M416.88 130.88L416.88 134.07L414 132.47Z" fill="#ff4cff" stroke="#FF00FF" stroke-width="0.8" stroke-linejoin="miter"/>
<path d="M427.21 130.86L427.21 134.05L424.34 132.46Z" fill="#ff4cff" stroke="#FF00FF" stroke-width="0.8" stroke-linejoin="miter"/>
<path d="M437.54 130.85L437.54 134.04L434.67 132.44Z" fill="#ff4cff" stroke="#FF00FF" stroke-width="0.8" stroke-linejoin="miter"/>
<path d="M447.88 130.83L447.88 134.02L445 132.43Z" fill="#ff4cff" stroke="#FF00FF" stroke-width="0.8" stroke-linejoin="miter"/>
<path d="M458.21 130.82L458.21 134.01L455.34 132.41Z" fill="#ff4cff" stroke="#FF00FF" stroke-width="0.8" stroke-linejoin="miter"/>
<path d="M468.54 130.81L468.54 134L465.67 132.4Z" fill="#ff4cff" stroke="#FF00FF" stroke-width="0.8" stroke-linejoin="miter"/>
<path d="M478.88 130.79L478.88 133.98L476 132.39Z" fill="#ff4cff" stroke="#FF00FF" stroke-width="0.8" stroke-linejoin="miter"/>
<path d="M489.21 130.78L489.21 133.97L486.34 132.37Z" fill="#ff4cff" stroke="#FF00FF" stroke-width="0.8" stroke-linejoin="miter"/>
<path d="M499.54 130.76L499.54 133.95L496.67 132.36Z" fill="#ff4cff" stroke="#FF00FF" stroke-width="0.8" stroke-linejoin="miter"/>
<path d="M509.88 130.75L509.88 133.94L507 132.34Z" fill="#ff4cff" stroke="#FF00FF" stroke-width="0.8" stroke-linejoin="miter"/>
<path d="M520.21 130.73L520.21 133.92L517.34 132.33Z" fill="#ff4cff" stroke="#FF00FF" stroke-width="0.8" stroke-linejoin="miter"/>
<path d="M530.54 130.72L530.54 133.91L527.67 132.31Z" fill="#ff4cff" stroke="#FF00FF" stroke-width="0.8" stroke-linejoin="miter"/>
<path d="M384.6 38.6 L385.2 80 L385.8 118 L386.5 122.9 L390 124.5 L393.4 126.7 L395 127.1 L415 127.6 L417 129 L437 129.5 L440 131 L446 131.8 L540 132.5" fill="none" stroke="#0000FF" stroke-width="0.9" stroke-linejoin="round"/>
<path d="M383.32 37.01L383.32 40.2L386.2 38.6Z" fill="#4c4cff" stroke="#0000FF" stroke-width="0.8" stroke-linejoin="miter"/>
<path d="M393.66 125.49L393.66 128.68L396.53 127.08Z" fill="#4c4cff" stroke="#0000FF" stroke-width="0.8" stroke-linejoin="miter"/>
<path d="M403.99 125.76L403.99 128.95L406.86 127.36Z" fill="#4c4cff" stroke="#0000FF" stroke-width="0.8" stroke-linejoin="miter"/>
<path d="M414.32 126.43L414.32 129.62L417.2 128.02Z" fill="#4c4cff" stroke="#0000FF" stroke-width="0.8" stroke-linejoin="miter"/>
<path d="M424.66 127.63L424.66 130.82L427.53 129.22Z" fill="#4c4cff" stroke="#0000FF" stroke-width="0.8" stroke-linejoin="miter"/>
<path d="M434.99 127.89L434.99 131.08L437.86 129.48Z" fill="#4c4cff" stroke="#0000FF" stroke-width="0.8" stroke-linejoin="miter"/>
<path d="M445.32 130.21L445.32 133.4L448.2 131.8Z" fill="#4c4cff" stroke="#0000FF" stroke-width="0.8" stroke-linejoin="miter"/>
<path d="M455.66 130.29L455.66 133.48L458.53 131.88Z" fill="#4c4cff" stroke="#0000FF" stroke-width="0.8" stroke-linejoin="miter"/>
<path d="M465.99 130.36L465.99 133.55L468.86 131.96Z" fill="#4c4cff" stroke="#0000FF" stroke-width="0.8" stroke-linejoin="miter"/>
<path d="M476.32 130.44L476.32 133.63L479.2 132.04Z" fill="#4c4cff" stroke="#0000FF" stroke-width="0.8" stroke-linejoin="miter"/>
<path d="M486.66 130.52L486.66 133.71L489.53 132.11Z" fill="#4c4cff" stroke="#0000FF" stroke-width="0.8" stroke-linejoin="miter"/>
<path d="M496.99 130.59L496.99 133.78L499.86 132.19Z" fill="#4c4cff" stroke="#0000FF" stroke-width="0.8" stroke-linejoin="miter"/>
<path d="M507.32 130.67L507.32 133.86L510.2 132.27Z" fill="#4c4cff" stroke="#0000FF" stroke-width="0.8" stroke-linejoin="miter"/>
<path d="M517.66 130.75L517.66 133.94L520.53 132.34Z" fill="#4c4cff" stroke="#0000FF" stroke-width="0.8" stroke-linejoin="miter"/>
<path d="M527.99 130.83L527.99 134.02L530.86 132.42Z" fill="#4c4cff" stroke="#0000FF" stroke-width="0.8" stroke-linejoin="miter"/>
<path d="M384.6 21.4 L385.2 60 L385.7 118.5 L388.9 119.7 L392.7 122.3 L394.6 123.3 L399.1 124.2 L405 124.6 L420 125.1 L446 125.8 L540 126.6" fill="none" stroke="#00FF00" stroke-width="0.9" stroke-linejoin="round"/>
<path d="M384.6 19.33L385.59 21.4L384.6 23.47L383.61 21.4Z" fill="#4cff4c" stroke="#00FF00" stroke-width="0.8" stroke-linejoin="miter"/>
<path d="M394.93 121.29L395.92 123.37L394.93 125.44L393.94 123.37Z" fill="#4cff4c" stroke="#00FF00" stroke-width="0.8" stroke-linejoin="miter"/>
<path d="M405.27 122.54L406.26 124.61L405.27 126.68L404.28 124.61Z" fill="#4cff4c" stroke="#00FF00" stroke-width="0.8" stroke-linejoin="miter"/>
<path d="M415.6 122.88L416.59 124.95L415.6 127.03L414.61 124.95Z" fill="#4cff4c" stroke="#00FF00" stroke-width="0.8" stroke-linejoin="miter"/>
<path d="M425.93 123.19L426.92 125.26L425.93 127.33L424.94 125.26Z" fill="#4cff4c" stroke="#00FF00" stroke-width="0.8" stroke-linejoin="miter"/>
<path d="M436.27 123.46L437.26 125.54L436.27 127.61L435.28 125.54Z" fill="#4cff4c" stroke="#00FF00" stroke-width="0.8" stroke-linejoin="miter"/>
<path d="M446.6 123.73L447.59 125.81L446.6 127.88L445.61 125.81Z" fill="#4cff4c" stroke="#00FF00" stroke-width="0.8" stroke-linejoin="miter"/>
<path d="M456.93 123.82L457.92 125.89L456.93 127.97L455.94 125.89Z" fill="#4cff4c" stroke="#00FF00" stroke-width="0.8" stroke-linejoin="miter"/>
<path d="M467.27 123.91L468.26 125.98L467.27 128.05L466.28 125.98Z" fill="#4cff4c" stroke="#00FF00" stroke-width="0.8" stroke-linejoin="miter"/>
<path d="M477.6 124L478.59 126.07L477.6 128.14L476.61 126.07Z" fill="#4cff4c" stroke="#00FF00" stroke-width="0.8" stroke-linejoin="miter"/>
<path d="M487.93 124.08L488.92 126.16L487.93 128.23L486.94 126.16Z" fill="#4cff4c" stroke="#00FF00" stroke-width="0.8" stroke-linejoin="miter"/>
<path d="M498.27 124.17L499.26 126.24L498.27 128.32L497.28 126.24Z" fill="#4cff4c" stroke="#00FF00" stroke-width="0.8" stroke-linejoin="miter"/>
<path d="M508.6 124.26L509.59 126.33L508.6 128.41L507.61 126.33Z" fill="#4cff4c" stroke="#00FF00" stroke-width="0.8" stroke-linejoin="miter"/>
<path d="M518.93 124.35L519.92 126.42L518.93 128.49L517.94 126.42Z" fill="#4cff4c" stroke="#00FF00" stroke-width="0.8" stroke-linejoin="miter"/>
<path d="M529.27 124.44L530.26 126.51L529.27 128.58L528.28 126.51Z" fill="#4cff4c" stroke="#00FF00" stroke-width="0.8" stroke-linejoin="miter"/>
<path d="M384.6 64.3 L385.2 100 L385.8 122 L386.5 125.4 L390 130.5 L394.6 131.3 L540 131.1" fill="none" stroke="#A52AF0" stroke-width="0.9" stroke-linejoin="round"/>
<circle cx="384.6" cy="64.3" r="1.4" fill="#dba9f9" stroke="#A52AF0" stroke-width="1.1"/>
<circle cx="394.93" cy="131.3" r="1.4" fill="#dba9f9" stroke="#A52AF0" stroke-width="1.1"/>
<circle cx="405.27" cy="131.29" r="1.4" fill="#dba9f9" stroke="#A52AF0" stroke-width="1.1"/>
<circle cx="415.6" cy="131.27" r="1.4" fill="#dba9f9" stroke="#A52AF0" stroke-width="1.1"/>
<circle cx="425.93" cy="131.26" r="1.4" fill="#dba9f9" stroke="#A52AF0" stroke-width="1.1"/>
<circle cx="436.27" cy="131.24" r="1.4" fill="#dba9f9" stroke="#A52AF0" stroke-width="1.1"/>
<circle cx="446.6" cy="131.23" r="1.4" fill="#dba9f9" stroke="#A52AF0" stroke-width="1.1"/>
<circle cx="456.93" cy="131.21" r="1.4" fill="#dba9f9" stroke="#A52AF0" stroke-width="1.1"/>
<circle cx="467.27" cy="131.2" r="1.4" fill="#dba9f9" stroke="#A52AF0" stroke-width="1.1"/>
<circle cx="477.6" cy="131.19" r="1.4" fill="#dba9f9" stroke="#A52AF0" stroke-width="1.1"/>
<circle cx="487.93" cy="131.17" r="1.4" fill="#dba9f9" stroke="#A52AF0" stroke-width="1.1"/>
<circle cx="498.27" cy="131.16" r="1.4" fill="#dba9f9" stroke="#A52AF0" stroke-width="1.1"/>
<circle cx="508.6" cy="131.14" r="1.4" fill="#dba9f9" stroke="#A52AF0" stroke-width="1.1"/>
<circle cx="518.93" cy="131.13" r="1.4" fill="#dba9f9" stroke="#A52AF0" stroke-width="1.1"/>
<circle cx="529.27" cy="131.11" r="1.4" fill="#dba9f9" stroke="#A52AF0" stroke-width="1.1"/>
<path d="M384.6 82 L385.5 120 L386.3 127.4 L388.9 130 L393 131 L405 131.8 L414 133 L416 134.1 L460 134.6 L540 135.2" fill="none" stroke="#000000" stroke-width="0.9" stroke-linejoin="round"/>
<path d="M393.34 132.4L396.53 132.4L394.93 129.53Z" fill="#4c4c4c" stroke="#000000" stroke-width="0.8" stroke-linejoin="miter"/>
<path d="M403.67 133.11L406.86 133.11L405.27 130.24Z" fill="#4c4c4c" stroke="#000000" stroke-width="0.8" stroke-linejoin="miter"/>
<path d="M414 135.16L417.2 135.16L415.6 132.28Z" fill="#4c4c4c" stroke="#000000" stroke-width="0.8" stroke-linejoin="miter"/>
<path d="M424.34 135.49L427.53 135.49L425.93 132.62Z" fill="#4c4c4c" stroke="#000000" stroke-width="0.8" stroke-linejoin="miter"/>
<path d="M434.67 135.61L437.86 135.61L436.27 132.74Z" fill="#4c4c4c" stroke="#000000" stroke-width="0.8" stroke-linejoin="miter"/>
<path d="M445 135.72L448.2 135.72L446.6 132.85Z" fill="#4c4c4c" stroke="#000000" stroke-width="0.8" stroke-linejoin="miter"/>
<path d="M455.34 135.84L458.53 135.84L456.93 132.97Z" fill="#4c4c4c" stroke="#000000" stroke-width="0.8" stroke-linejoin="miter"/>
<path d="M465.67 135.93L468.86 135.93L467.27 133.06Z" fill="#4c4c4c" stroke="#000000" stroke-width="0.8" stroke-linejoin="miter"/>
<path d="M476 136.01L479.2 136.01L477.6 133.14Z" fill="#4c4c4c" stroke="#000000" stroke-width="0.8" stroke-linejoin="miter"/>
<path d="M486.34 136.09L489.53 136.09L487.93 133.21Z" fill="#4c4c4c" stroke="#000000" stroke-width="0.8" stroke-linejoin="miter"/>
<path d="M496.67 136.16L499.86 136.16L498.27 133.29Z" fill="#4c4c4c" stroke="#000000" stroke-width="0.8" stroke-linejoin="miter"/>
<path d="M507 136.24L510.2 136.24L508.6 133.37Z" fill="#4c4c4c" stroke="#000000" stroke-width="0.8" stroke-linejoin="miter"/>
<path d="M517.34 136.32L520.53 136.32L518.93 133.45Z" fill="#4c4c4c" stroke="#000000" stroke-width="0.8" stroke-linejoin="miter"/>
<path d="M527.67 136.4L530.86 136.4L529.27 133.52Z" fill="#4c4c4c" stroke="#000000" stroke-width="0.8" stroke-linejoin="miter"/>
<path d="M384.6 81.4 L385.1 125.5 L385.7 130.5 L388.9 133.7 L392.7 134.6 L394.6 136.9 L540 137.1" fill="none" stroke="#FF0000" stroke-width="0.9" stroke-linejoin="round"/>
<path d="M394.93 134.83L395.92 136.9L394.93 138.97L393.94 136.9Z" fill="#ff4c4c" stroke="#FF0000" stroke-width="0.8" stroke-linejoin="miter"/>
<path d="M405.27 134.84L406.26 136.91L405.27 138.99L404.28 136.91Z" fill="#ff4c4c" stroke="#FF0000" stroke-width="0.8" stroke-linejoin="miter"/>
<path d="M415.6 134.86L416.59 136.93L415.6 139L414.61 136.93Z" fill="#ff4c4c" stroke="#FF0000" stroke-width="0.8" stroke-linejoin="miter"/>
<path d="M425.93 134.87L426.92 136.94L425.93 139.02L424.94 136.94Z" fill="#ff4c4c" stroke="#FF0000" stroke-width="0.8" stroke-linejoin="miter"/>
<path d="M436.27 134.88L437.26 136.96L436.27 139.03L435.28 136.96Z" fill="#ff4c4c" stroke="#FF0000" stroke-width="0.8" stroke-linejoin="miter"/>
<path d="M446.6 134.9L447.59 136.97L446.6 139.05L445.61 136.97Z" fill="#ff4c4c" stroke="#FF0000" stroke-width="0.8" stroke-linejoin="miter"/>
<path d="M456.93 134.91L457.92 136.99L456.93 139.06L455.94 136.99Z" fill="#ff4c4c" stroke="#FF0000" stroke-width="0.8" stroke-linejoin="miter"/>
<path d="M467.27 134.93L468.26 137L467.27 139.07L466.28 137Z" fill="#ff4c4c" stroke="#FF0000" stroke-width="0.8" stroke-linejoin="miter"/>
<path d="M477.6 134.94L478.59 137.01L477.6 139.09L476.61 137.01Z" fill="#ff4c4c" stroke="#FF0000" stroke-width="0.8" stroke-linejoin="miter"/>
<path d="M487.93 134.95L488.92 137.03L487.93 139.1L486.94 137.03Z" fill="#ff4c4c" stroke="#FF0000" stroke-width="0.8" stroke-linejoin="miter"/>
<path d="M498.27 134.97L499.26 137.04L498.27 139.12L497.28 137.04Z" fill="#ff4c4c" stroke="#FF0000" stroke-width="0.8" stroke-linejoin="miter"/>
<path d="M508.6 134.98L509.59 137.06L508.6 139.13L507.61 137.06Z" fill="#ff4c4c" stroke="#FF0000" stroke-width="0.8" stroke-linejoin="miter"/>
<path d="M518.93 135L519.92 137.07L518.93 139.14L517.94 137.07Z" fill="#ff4c4c" stroke="#FF0000" stroke-width="0.8" stroke-linejoin="miter"/>
<path d="M529.27 135.01L530.26 137.09L529.27 139.16L528.28 137.09Z" fill="#ff4c4c" stroke="#FF0000" stroke-width="0.8" stroke-linejoin="miter"/>
</svg>
<rect x="499.9" y="19.4" width="35.3" height="41" fill="#fff" stroke="#bdbdbd" stroke-width="0.5"/>
<path d="M501.1 22.7H512" stroke="#EDB120" stroke-width="0.9"/>
<path d="M504.76 21.27L508.34 21.27L506.55 24.48Z" fill="#f2c862" stroke="#EDB120" stroke-width="0.8" stroke-linejoin="miter"/>
<text x="512.9" y="24.3" font-size="4.45" fill="#2e2e2e">APSO</text>
<path d="M501.1 28.42H512" stroke="#FF00FF" stroke-width="0.9"/>
<path d="M507.98 26.63L507.98 30.2L504.76 28.42Z" fill="#ff4cff" stroke="#FF00FF" stroke-width="0.8" stroke-linejoin="miter"/>
<text x="512.9" y="30.02" font-size="4.45" fill="#2e2e2e">WOA</text>
<path d="M501.1 34.14H512" stroke="#0000FF" stroke-width="0.9"/>
<path d="M505.12 32.36L505.12 35.92L508.34 34.14Z" fill="#4c4cff" stroke="#0000FF" stroke-width="0.8" stroke-linejoin="miter"/>
<text x="512.9" y="35.74" font-size="4.45" fill="#2e2e2e">GJO</text>
<path d="M501.1 39.86H512" stroke="#00FF00" stroke-width="0.9"/>
<path d="M506.55 37.54L507.66 39.86L506.55 42.18L505.44 39.86Z" fill="#4cff4c" stroke="#00FF00" stroke-width="0.8" stroke-linejoin="miter"/>
<text x="512.9" y="41.46" font-size="4.45" fill="#2e2e2e">TSA</text>
<path d="M501.1 45.58H512" stroke="#A52AF0" stroke-width="0.9"/>
<circle cx="506.55" cy="45.58" r="1.53" fill="#dba9f9" stroke="#A52AF0" stroke-width="1.1"/>
<text x="512.9" y="47.18" font-size="4.45" fill="#2e2e2e">DBO</text>
<path d="M501.1 51.3H512" stroke="#000000" stroke-width="0.9"/>
<path d="M504.76 52.73L508.34 52.73L506.55 49.52Z" fill="#4c4c4c" stroke="#000000" stroke-width="0.8" stroke-linejoin="miter"/>
<text x="512.9" y="52.9" font-size="4.45" fill="#2e2e2e">CryStAl</text>
<path d="M501.1 57.02H512" stroke="#FF0000" stroke-width="0.9"/>
<path d="M506.55 54.7L507.66 57.02L506.55 59.34L505.44 57.02Z" fill="#ff4c4c" stroke="#FF0000" stroke-width="0.8" stroke-linejoin="miter"/>
<text x="512.9" y="58.62" font-size="4.45" fill="#2e2e2e">GLCryStAl</text>
<text class="t" x="98.9" y="162.5" font-size="5.3" text-anchor="middle" fill="#2e2e2e">F16</text>
<rect x="21.4" y="164.4" width="155" height="122.7" fill="#fff" stroke="#9a9a9a" stroke-width="0.6"/>
<path d="M47.23 287.1v-1.4M47.23 164.4v1.4" stroke="#9a9a9a" stroke-width="0.5"/>
<text x="47.23" y="294.3" font-size="4.6" text-anchor="middle" fill="#2e2e2e">500</text>
<path d="M73.07 287.1v-1.4M73.07 164.4v1.4" stroke="#9a9a9a" stroke-width="0.5"/>
<text x="73.07" y="294.3" font-size="4.6" text-anchor="middle" fill="#2e2e2e">1000</text>
<path d="M98.9 287.1v-1.4M98.9 164.4v1.4" stroke="#9a9a9a" stroke-width="0.5"/>
<text x="98.9" y="294.3" font-size="4.6" text-anchor="middle" fill="#2e2e2e">1500</text>
<path d="M124.73 287.1v-1.4M124.73 164.4v1.4" stroke="#9a9a9a" stroke-width="0.5"/>
<text x="124.73" y="294.3" font-size="4.6" text-anchor="middle" fill="#2e2e2e">2000</text>
<path d="M150.57 287.1v-1.4M150.57 164.4v1.4" stroke="#9a9a9a" stroke-width="0.5"/>
<text x="150.57" y="294.3" font-size="4.6" text-anchor="middle" fill="#2e2e2e">2500</text>
<path d="M176.4 287.1v-1.4M176.4 164.4v1.4" stroke="#9a9a9a" stroke-width="0.5"/>
<text x="176.4" y="294.3" font-size="4.6" text-anchor="middle" fill="#2e2e2e">3000</text>
<path d="M21.4 174.4h1.4M176.4 174.4h-1.4" stroke="#9a9a9a" stroke-width="0.5"/>
<text x="19.1" y="176" font-size="4.5" text-anchor="end" fill="#2e2e2e">10<tspan font-size="3.3" dy="-1.8">9</tspan></text>
<path d="M21.4 202.5h1.4M176.4 202.5h-1.4" stroke="#9a9a9a" stroke-width="0.5"/>
<text x="19.1" y="204.1" font-size="4.5" text-anchor="end" fill="#2e2e2e">10<tspan font-size="3.3" dy="-1.8">8</tspan></text>
<path d="M21.4 230.6h1.4M176.4 230.6h-1.4" stroke="#9a9a9a" stroke-width="0.5"/>
<text x="19.1" y="232.2" font-size="4.5" text-anchor="end" fill="#2e2e2e">10<tspan font-size="3.3" dy="-1.8">7</tspan></text>
<path d="M21.4 258.7h1.4M176.4 258.7h-1.4" stroke="#9a9a9a" stroke-width="0.5"/>
<text x="19.1" y="260.3" font-size="4.5" text-anchor="end" fill="#2e2e2e">10<tspan font-size="3.3" dy="-1.8">6</tspan></text>
<path d="M21.4 286.8h1.4M176.4 286.8h-1.4" stroke="#9a9a9a" stroke-width="0.5"/>
<text x="19.1" y="288.4" font-size="4.5" text-anchor="end" fill="#2e2e2e">10<tspan font-size="3.3" dy="-1.8">5</tspan></text>
<path d="M21.4 278.34h1M176.4 278.34h-1" stroke="#9a9a9a" stroke-width="0.45"/>
<path d="M21.4 273.39h1M176.4 273.39h-1" stroke="#9a9a9a" stroke-width="0.45"/>
<path d="M21.4 269.88h1M176.4 269.88h-1" stroke="#9a9a9a" stroke-width="0.45"/>
<path d="M21.4 267.16h1M176.4 267.16h-1" stroke="#9a9a9a" stroke-width="0.45"/>
<path d="M21.4 264.93h1M176.4 264.93h-1" stroke="#9a9a9a" stroke-width="0.45"/>
<path d="M21.4 263.05h1M176.4 263.05h-1" stroke="#9a9a9a" stroke-width="0.45"/>
<path d="M21.4 261.42h1M176.4 261.42h-1" stroke="#9a9a9a" stroke-width="0.45"/>
<path d="M21.4 259.99h1M176.4 259.99h-1" stroke="#9a9a9a" stroke-width="0.45"/>
<path d="M21.4 258.7h1.4M176.4 258.7h-1.4" stroke="#9a9a9a" stroke-width="0.45"/>
<path d="M21.4 250.24h1M176.4 250.24h-1" stroke="#9a9a9a" stroke-width="0.45"/>
<path d="M21.4 245.29h1M176.4 245.29h-1" stroke="#9a9a9a" stroke-width="0.45"/>
<path d="M21.4 241.78h1M176.4 241.78h-1" stroke="#9a9a9a" stroke-width="0.45"/>
<path d="M21.4 239.06h1M176.4 239.06h-1" stroke="#9a9a9a" stroke-width="0.45"/>
<path d="M21.4 236.83h1M176.4 236.83h-1" stroke="#9a9a9a" stroke-width="0.45"/>
<path d="M21.4 234.95h1M176.4 234.95h-1" stroke="#9a9a9a" stroke-width="0.45"/>
<path d="M21.4 233.32h1M176.4 233.32h-1" stroke="#9a9a9a" stroke-width="0.45"/>
<path d="M21.4 231.89h1M176.4 231.89h-1" stroke="#9a9a9a" stroke-width="0.45"/>
<path d="M21.4 230.6h1.4M176.4 230.6h-1.4" stroke="#9a9a9a" stroke-width="0.45"/>
<path d="M21.4 222.14h1M176.4 222.14h-1" stroke="#9a9a9a" stroke-width="0.45"/>
<path d="M21.4 217.19h1M176.4 217.19h-1" stroke="#9a9a9a" stroke-width="0.45"/>
<path d="M21.4 213.68h1M176.4 213.68h-1" stroke="#9a9a9a" stroke-width="0.45"/>
<path d="M21.4 210.96h1M176.4 210.96h-1" stroke="#9a9a9a" stroke-width="0.45"/>
<path d="M21.4 208.73h1M176.4 208.73h-1" stroke="#9a9a9a" stroke-width="0.45"/>
<path d="M21.4 206.85h1M176.4 206.85h-1" stroke="#9a9a9a" stroke-width="0.45"/>
<path d="M21.4 205.22h1M176.4 205.22h-1" stroke="#9a9a9a" stroke-width="0.45"/>
<path d="M21.4 203.79h1M176.4 203.79h-1" stroke="#9a9a9a" stroke-width="0.45"/>
<path d="M21.4 202.5h1.4M176.4 202.5h-1.4" stroke="#9a9a9a" stroke-width="0.45"/>
<path d="M21.4 194.04h1M176.4 194.04h-1" stroke="#9a9a9a" stroke-width="0.45"/>
<path d="M21.4 189.09h1M176.4 189.09h-1" stroke="#9a9a9a" stroke-width="0.45"/>
<path d="M21.4 185.58h1M176.4 185.58h-1" stroke="#9a9a9a" stroke-width="0.45"/>
<path d="M21.4 182.86h1M176.4 182.86h-1" stroke="#9a9a9a" stroke-width="0.45"/>
<path d="M21.4 180.63h1M176.4 180.63h-1" stroke="#9a9a9a" stroke-width="0.45"/>
<path d="M21.4 178.75h1M176.4 178.75h-1" stroke="#9a9a9a" stroke-width="0.45"/>
<path d="M21.4 177.12h1M176.4 177.12h-1" stroke="#9a9a9a" stroke-width="0.45"/>
<path d="M21.4 175.69h1M176.4 175.69h-1" stroke="#9a9a9a" stroke-width="0.45"/>
<path d="M21.4 174.4h1.4M176.4 174.4h-1.4" stroke="#9a9a9a" stroke-width="0.45"/>
<path d="M21.4 165.94h1M176.4 165.94h-1" stroke="#9a9a9a" stroke-width="0.45"/>
<text x="98.9" y="301" font-size="5.3" text-anchor="middle" fill="#2e2e2e">Iteration</text>
<text x="97.8" y="306.4" font-size="4.6" text-anchor="middle" fill="#2e2e2e">(q) F<tspan font-size="3.8" dy="1.3">16</tspan></text>
<text transform="translate(9.4 225.75) rotate(-90)" font-size="5.2" text-anchor="middle" fill="#2e2e2e">Best score obtained so far</text>
<svg x="19.4" y="161.4" width="159" height="127.7" viewBox="19.4 161.4 159 127.7" overflow="hidden">
<path d="M21.4 178 L22 190 L22.5 205 L24 212 L27 215.9 L32.2 216.7 L62 217.4 L100 217.9 L177 217.9" fill="none" stroke="#EDB120" stroke-width="0.9" stroke-linejoin="round"/>
<path d="M30.14 215.35L33.33 215.35L31.73 218.22Z" fill="#f2c862" stroke="#EDB120" stroke-width="0.8" stroke-linejoin="miter"/>
<path d="M40.47 215.66L43.66 215.66L42.07 218.53Z" fill="#f2c862" stroke="#EDB120" stroke-width="0.8" stroke-linejoin="miter"/>
<path d="M50.8 215.9L53.99 215.9L52.4 218.77Z" fill="#f2c862" stroke="#EDB120" stroke-width="0.8" stroke-linejoin="miter"/>
<path d="M61.14 216.13L64.33 216.13L62.73 219Z" fill="#f2c862" stroke="#EDB120" stroke-width="0.8" stroke-linejoin="miter"/>
<path d="M71.47 216.27L74.66 216.27L73.07 219.14Z" fill="#f2c862" stroke="#EDB120" stroke-width="0.8" stroke-linejoin="miter"/>
<path d="M81.81 216.41L85 216.41L83.4 219.28Z" fill="#f2c862" stroke="#EDB120" stroke-width="0.8" stroke-linejoin="miter"/>
<path d="M92.14 216.54L95.33 216.54L93.73 219.41Z" fill="#f2c862" stroke="#EDB120" stroke-width="0.8" stroke-linejoin="miter"/>
<path d="M102.47 216.62L105.66 216.62L104.07 219.5Z" fill="#f2c862" stroke="#EDB120" stroke-width="0.8" stroke-linejoin="miter"/>
<path d="M112.81 216.62L116 216.62L114.4 219.5Z" fill="#f2c862" stroke="#EDB120" stroke-width="0.8" stroke-linejoin="miter"/>
<path d="M123.14 216.62L126.33 216.62L124.73 219.5Z" fill="#f2c862" stroke="#EDB120" stroke-width="0.8" stroke-linejoin="miter"/>
<path d="M133.47 216.62L136.66 216.62L135.07 219.5Z" fill="#f2c862" stroke="#EDB120" stroke-width="0.8" stroke-linejoin="miter"/>
<path d="M143.81 216.62L147 216.62L145.4 219.5Z" fill="#f2c862" stroke="#EDB120" stroke-width="0.8" stroke-linejoin="miter"/>
<path d="M154.14 216.62L157.33 216.62L155.73 219.5Z" fill="#f2c862" stroke="#EDB120" stroke-width="0.8" stroke-linejoin="miter"/>
<path d="M164.47 216.62L167.66 216.62L166.07 219.5Z" fill="#f2c862" stroke="#EDB120" stroke-width="0.8" stroke-linejoin="miter"/>
<path d="M21.4 182.4 L22 195 L23 200 L25 201.5 L31.4 204.7 L41.9 206.5 L43.3 210 L52.3 212.2 L61.2 217.4 L63 219.6 L72 220.5 L82 221.5 L93 223.1 L177 223.1" fill="none" stroke="#FF00FF" stroke-width="0.9" stroke-linejoin="round"/>
<path d="M22.68 180.81L22.68 184L19.8 182.4Z" fill="#ff4cff" stroke="#FF00FF" stroke-width="0.8" stroke-linejoin="miter"/>
<path d="M33.01 203.16L33.01 206.35L30.14 204.76Z" fill="#ff4cff" stroke="#FF00FF" stroke-width="0.8" stroke-linejoin="miter"/>
<path d="M43.34 205.32L43.34 208.51L40.47 206.92Z" fill="#ff4cff" stroke="#FF00FF" stroke-width="0.8" stroke-linejoin="miter"/>
<path d="M53.68 210.66L53.68 213.85L50.8 212.26Z" fill="#ff4cff" stroke="#FF00FF" stroke-width="0.8" stroke-linejoin="miter"/>
<path d="M64.01 217.68L64.01 220.87L61.14 219.27Z" fill="#ff4cff" stroke="#FF00FF" stroke-width="0.8" stroke-linejoin="miter"/>
<path d="M74.34 219.01L74.34 222.2L71.47 220.61Z" fill="#ff4cff" stroke="#FF00FF" stroke-width="0.8" stroke-linejoin="miter"/>
<path d="M84.68 220.11L84.68 223.3L81.81 221.7Z" fill="#ff4cff" stroke="#FF00FF" stroke-width="0.8" stroke-linejoin="miter"/>
<path d="M95.01 221.5L95.01 224.69L92.14 223.1Z" fill="#ff4cff" stroke="#FF00FF" stroke-width="0.8" stroke-linejoin="miter"/>
<path d="M105.34 221.5L105.34 224.69L102.47 223.1Z" fill="#ff4cff" stroke="#FF00FF" stroke-width="0.8" stroke-linejoin="miter"/>
<path d="M115.68 221.5L115.68 224.69L112.81 223.1Z" fill="#ff4cff" stroke="#FF00FF" stroke-width="0.8" stroke-linejoin="miter"/>
<path d="M126.01 221.5L126.01 224.69L123.14 223.1Z" fill="#ff4cff" stroke="#FF00FF" stroke-width="0.8" stroke-linejoin="miter"/>
<path d="M136.34 221.5L136.34 224.69L133.47 223.1Z" fill="#ff4cff" stroke="#FF00FF" stroke-width="0.8" stroke-linejoin="miter"/>
<path d="M146.68 221.5L146.68 224.69L143.81 223.1Z" fill="#ff4cff" stroke="#FF00FF" stroke-width="0.8" stroke-linejoin="miter"/>
<path d="M157.01 221.5L157.01 224.69L154.14 223.1Z" fill="#ff4cff" stroke="#FF00FF" stroke-width="0.8" stroke-linejoin="miter"/>
<path d="M167.34 221.5L167.34 224.69L164.47 223.1Z" fill="#ff4cff" stroke="#FF00FF" stroke-width="0.8" stroke-linejoin="miter"/>
<path d="M21.4 166 L22 185 L22.5 191.3 L24 192 L27 195.8 L30 198.8 L31.7 203.2 L33.2 207.7 L35.9 210.7 L37.4 214.4 L41.9 215.5 L47.8 216.7 L52.3 217.4 L56.8 218.9 L62.4 219.3 L72.4 219.3 L77.6 220.3 L82.9 220.8 L89.5 220.8 L92.5 222.3 L103 222.3 L103.5 225.2 L177 226.3" fill="none" stroke="#0000FF" stroke-width="0.9" stroke-linejoin="round"/>
<path d="M20.12 164.41L20.12 167.59L22.99 166Z" fill="#4c4cff" stroke="#0000FF" stroke-width="0.8" stroke-linejoin="miter"/>
<path d="M30.46 201.7L30.46 204.89L33.33 203.3Z" fill="#4c4cff" stroke="#0000FF" stroke-width="0.8" stroke-linejoin="miter"/>
<path d="M40.79 213.94L40.79 217.13L43.66 215.53Z" fill="#4c4cff" stroke="#0000FF" stroke-width="0.8" stroke-linejoin="miter"/>
<path d="M51.12 215.84L51.12 219.03L53.99 217.43Z" fill="#4c4cff" stroke="#0000FF" stroke-width="0.8" stroke-linejoin="miter"/>
<path d="M61.46 217.71L61.46 220.9L64.33 219.3Z" fill="#4c4cff" stroke="#0000FF" stroke-width="0.8" stroke-linejoin="miter"/>
<path d="M71.79 217.83L71.79 221.02L74.66 219.43Z" fill="#4c4cff" stroke="#0000FF" stroke-width="0.8" stroke-linejoin="miter"/>
<path d="M82.12 219.21L82.12 222.4L85 220.8Z" fill="#4c4cff" stroke="#0000FF" stroke-width="0.8" stroke-linejoin="miter"/>
<path d="M92.46 220.71L92.46 223.9L95.33 222.3Z" fill="#4c4cff" stroke="#0000FF" stroke-width="0.8" stroke-linejoin="miter"/>
<path d="M102.79 223.61L102.79 226.8L105.66 225.21Z" fill="#4c4cff" stroke="#0000FF" stroke-width="0.8" stroke-linejoin="miter"/>
<path d="M113.12 223.77L113.12 226.96L116 225.36Z" fill="#4c4cff" stroke="#0000FF" stroke-width="0.8" stroke-linejoin="miter"/>
<path d="M123.46 223.92L123.46 227.11L126.33 225.52Z" fill="#4c4cff" stroke="#0000FF" stroke-width="0.8" stroke-linejoin="miter"/>
<path d="M133.79 224.08L133.79 227.27L136.66 225.67Z" fill="#4c4cff" stroke="#0000FF" stroke-width="0.8" stroke-linejoin="miter"/>
<path d="M144.12 224.23L144.12 227.42L147 225.83Z" fill="#4c4cff" stroke="#0000FF" stroke-width="0.8" stroke-linejoin="miter"/>
<path d="M154.46 224.39L154.46 227.58L157.33 225.98Z" fill="#4c4cff" stroke="#0000FF" stroke-width="0.8" stroke-linejoin="miter"/>
<path d="M164.79 224.54L164.79 227.73L167.66 226.14Z" fill="#4c4cff" stroke="#0000FF" stroke-width="0.8" stroke-linejoin="miter"/>
<path d="M21.4 165.2 L22 180 L22.5 191.3 L27 192.8 L32.2 193.5 L35.9 194 L38.9 198.8 L41.1 206.2 L42.6 210 L44 210.5 L177 210.6" fill="none" stroke="#00FF00" stroke-width="0.9" stroke-linejoin="round"/>
<path d="M21.4 163.13L22.39 165.2L21.4 167.27L20.41 165.2Z" fill="#4cff4c" stroke="#00FF00" stroke-width="0.8" stroke-linejoin="miter"/>
<path d="M31.73 191.36L32.72 193.44L31.73 195.51L30.74 193.44Z" fill="#4cff4c" stroke="#00FF00" stroke-width="0.8" stroke-linejoin="miter"/>
<path d="M42.07 206.58L43.06 208.65L42.07 210.72L41.08 208.65Z" fill="#4cff4c" stroke="#00FF00" stroke-width="0.8" stroke-linejoin="miter"/>
<path d="M52.4 208.43L53.39 210.51L52.4 212.58L51.41 210.51Z" fill="#4cff4c" stroke="#00FF00" stroke-width="0.8" stroke-linejoin="miter"/>
<path d="M62.73 208.44L63.72 210.51L62.73 212.59L61.74 210.51Z" fill="#4cff4c" stroke="#00FF00" stroke-width="0.8" stroke-linejoin="miter"/>
<path d="M73.07 208.45L74.06 210.52L73.07 212.6L72.08 210.52Z" fill="#4cff4c" stroke="#00FF00" stroke-width="0.8" stroke-linejoin="miter"/>
<path d="M83.4 208.46L84.39 210.53L83.4 212.6L82.41 210.53Z" fill="#4cff4c" stroke="#00FF00" stroke-width="0.8" stroke-linejoin="miter"/>
<path d="M93.73 208.46L94.72 210.54L93.73 212.61L92.74 210.54Z" fill="#4cff4c" stroke="#00FF00" stroke-width="0.8" stroke-linejoin="miter"/>
<path d="M104.07 208.47L105.06 210.55L104.07 212.62L103.08 210.55Z" fill="#4cff4c" stroke="#00FF00" stroke-width="0.8" stroke-linejoin="miter"/>
<path d="M114.4 208.48L115.39 210.55L114.4 212.63L113.41 210.55Z" fill="#4cff4c" stroke="#00FF00" stroke-width="0.8" stroke-linejoin="miter"/>
<path d="M124.73 208.49L125.72 210.56L124.73 212.63L123.74 210.56Z" fill="#4cff4c" stroke="#00FF00" stroke-width="0.8" stroke-linejoin="miter"/>
<path d="M135.07 208.49L136.06 210.57L135.07 212.64L134.08 210.57Z" fill="#4cff4c" stroke="#00FF00" stroke-width="0.8" stroke-linejoin="miter"/>
<path d="M145.4 208.5L146.39 210.58L145.4 212.65L144.41 210.58Z" fill="#4cff4c" stroke="#00FF00" stroke-width="0.8" stroke-linejoin="miter"/>
<path d="M155.73 208.51L156.72 210.58L155.73 212.66L154.74 210.58Z" fill="#4cff4c" stroke="#00FF00" stroke-width="0.8" stroke-linejoin="miter"/>
<path d="M166.07 208.52L167.06 210.59L166.07 212.67L165.08 210.59Z" fill="#4cff4c" stroke="#00FF00" stroke-width="0.8" stroke-linejoin="miter"/>
<path d="M21.4 172.7 L22 195 L23 210 L24.5 218 L26.4 223.1 L31.5 226.9 L41.8 229.2 L45.6 231.5 L52.1 233 L62.5 234.6 L72.5 235.4 L83.3 237.2 L93.3 239.7 L100 239.8 L165 240.5 L177 242.9" fill="none" stroke="#A52AF0" stroke-width="0.9" stroke-linejoin="round"/>
<circle cx="21.4" cy="172.7" r="1.4" fill="#dba9f9" stroke="#A52AF0" stroke-width="1.1"/>
<circle cx="31.73" cy="226.95" r="1.4" fill="#dba9f9" stroke="#A52AF0" stroke-width="1.1"/>
<circle cx="42.07" cy="229.36" r="1.4" fill="#dba9f9" stroke="#A52AF0" stroke-width="1.1"/>
<circle cx="52.4" cy="233.05" r="1.4" fill="#dba9f9" stroke="#A52AF0" stroke-width="1.1"/>
<circle cx="62.73" cy="234.62" r="1.4" fill="#dba9f9" stroke="#A52AF0" stroke-width="1.1"/>
<circle cx="73.07" cy="235.49" r="1.4" fill="#dba9f9" stroke="#A52AF0" stroke-width="1.1"/>
<circle cx="83.4" cy="237.22" r="1.4" fill="#dba9f9" stroke="#A52AF0" stroke-width="1.1"/>
<circle cx="93.73" cy="239.71" r="1.4" fill="#dba9f9" stroke="#A52AF0" stroke-width="1.1"/>
<circle cx="104.07" cy="239.84" r="1.4" fill="#dba9f9" stroke="#A52AF0" stroke-width="1.1"/>
<circle cx="114.4" cy="239.96" r="1.4" fill="#dba9f9" stroke="#A52AF0" stroke-width="1.1"/>
<circle cx="124.73" cy="240.07" r="1.4" fill="#dba9f9" stroke="#A52AF0" stroke-width="1.1"/>
<circle cx="135.07" cy="240.18" r="1.4" fill="#dba9f9" stroke="#A52AF0" stroke-width="1.1"/>
<circle cx="145.4" cy="240.29" r="1.4" fill="#dba9f9" stroke="#A52AF0" stroke-width="1.1"/>
<circle cx="155.73" cy="240.4" r="1.4" fill="#dba9f9" stroke="#A52AF0" stroke-width="1.1"/>
<circle cx="166.07" cy="240.71" r="1.4" fill="#dba9f9" stroke="#A52AF0" stroke-width="1.1"/>
<path d="M21.4 200 L22.5 207.7 L24 209.5 L26.2 219.6 L28.7 226 L31.5 229.2 L33.4 230.7 L41.8 231.5 L45.6 234.6 L48 238.4 L51.8 245.3 L54.1 250 L54.9 253 L62.5 253 L72.5 254.1 L79.4 255.3 L81 258.4 L93.3 258.7 L100 259.2 L121.5 260 L122.5 261.7 L142.5 261.7 L143.3 264.8 L177 264.8" fill="none" stroke="#000000" stroke-width="0.9" stroke-linejoin="round"/>
<path d="M30.14 230.66L33.33 230.66L31.73 227.79Z" fill="#4c4c4c" stroke="#000000" stroke-width="0.8" stroke-linejoin="miter"/>
<path d="M40.47 232.99L43.66 232.99L42.07 230.12Z" fill="#4c4c4c" stroke="#000000" stroke-width="0.8" stroke-linejoin="miter"/>
<path d="M50.8 247.8L53.99 247.8L52.4 244.93Z" fill="#4c4c4c" stroke="#000000" stroke-width="0.8" stroke-linejoin="miter"/>
<path d="M61.14 254.3L64.33 254.3L62.73 251.43Z" fill="#4c4c4c" stroke="#000000" stroke-width="0.8" stroke-linejoin="miter"/>
<path d="M71.47 255.47L74.66 255.47L73.07 252.6Z" fill="#4c4c4c" stroke="#000000" stroke-width="0.8" stroke-linejoin="miter"/>
<path d="M81.81 259.73L85 259.73L83.4 256.86Z" fill="#4c4c4c" stroke="#000000" stroke-width="0.8" stroke-linejoin="miter"/>
<path d="M92.14 260.01L95.33 260.01L93.73 257.14Z" fill="#4c4c4c" stroke="#000000" stroke-width="0.8" stroke-linejoin="miter"/>
<path d="M102.47 260.63L105.66 260.63L104.07 257.76Z" fill="#4c4c4c" stroke="#000000" stroke-width="0.8" stroke-linejoin="miter"/>
<path d="M112.81 261.01L116 261.01L114.4 258.14Z" fill="#4c4c4c" stroke="#000000" stroke-width="0.8" stroke-linejoin="miter"/>
<path d="M123.14 262.98L126.33 262.98L124.73 260.1Z" fill="#4c4c4c" stroke="#000000" stroke-width="0.8" stroke-linejoin="miter"/>
<path d="M133.47 262.98L136.66 262.98L135.07 260.1Z" fill="#4c4c4c" stroke="#000000" stroke-width="0.8" stroke-linejoin="miter"/>
<path d="M143.81 266.08L147 266.08L145.4 263.2Z" fill="#4c4c4c" stroke="#000000" stroke-width="0.8" stroke-linejoin="miter"/>
<path d="M154.14 266.08L157.33 266.08L155.73 263.2Z" fill="#4c4c4c" stroke="#000000" stroke-width="0.8" stroke-linejoin="miter"/>
<path d="M164.47 266.08L167.66 266.08L166.07 263.2Z" fill="#4c4c4c" stroke="#000000" stroke-width="0.8" stroke-linejoin="miter"/>
<path d="M21.4 165 L22.5 205 L23.4 228.4 L24.1 230.7 L28 231.5 L28.7 241.5 L31.5 244.6 L34.1 247.6 L41.8 249.2 L42.3 260.7 L52.1 261.2 L59.5 263 L60.2 269.1 L62.5 270.7 L67.1 273 L72.5 273.7 L81 274 L82.5 276.5 L108.8 276.3 L109.6 285 L124 285 L128.3 286.7 L177 286.7" fill="none" stroke="#FF0000" stroke-width="0.9" stroke-linejoin="round"/>
<path d="M31.73 242.8L32.72 244.87L31.73 246.94L30.74 244.87Z" fill="#ff4c4c" stroke="#FF0000" stroke-width="0.8" stroke-linejoin="miter"/>
<path d="M42.07 253.26L43.06 255.33L42.07 257.41L41.08 255.33Z" fill="#ff4c4c" stroke="#FF0000" stroke-width="0.8" stroke-linejoin="miter"/>
<path d="M52.4 259.2L53.39 261.27L52.4 263.35L51.41 261.27Z" fill="#ff4c4c" stroke="#FF0000" stroke-width="0.8" stroke-linejoin="miter"/>
<path d="M62.73 268.74L63.72 270.82L62.73 272.89L61.74 270.82Z" fill="#ff4c4c" stroke="#FF0000" stroke-width="0.8" stroke-linejoin="miter"/>
<path d="M73.07 271.65L74.06 273.72L73.07 275.79L72.08 273.72Z" fill="#ff4c4c" stroke="#FF0000" stroke-width="0.8" stroke-linejoin="miter"/>
<path d="M83.4 274.42L84.39 276.49L83.4 278.57L82.41 276.49Z" fill="#ff4c4c" stroke="#FF0000" stroke-width="0.8" stroke-linejoin="miter"/>
<path d="M93.73 274.34L94.72 276.41L93.73 278.49L92.74 276.41Z" fill="#ff4c4c" stroke="#FF0000" stroke-width="0.8" stroke-linejoin="miter"/>
<path d="M104.07 274.26L105.06 276.34L104.07 278.41L103.08 276.34Z" fill="#ff4c4c" stroke="#FF0000" stroke-width="0.8" stroke-linejoin="miter"/>
<path d="M114.4 282.93L115.39 285L114.4 287.07L113.41 285Z" fill="#ff4c4c" stroke="#FF0000" stroke-width="0.8" stroke-linejoin="miter"/>
<path d="M124.73 283.22L125.72 285.29L124.73 287.36L123.74 285.29Z" fill="#ff4c4c" stroke="#FF0000" stroke-width="0.8" stroke-linejoin="miter"/>
<path d="M135.07 284.63L136.06 286.7L135.07 288.77L134.08 286.7Z" fill="#ff4c4c" stroke="#FF0000" stroke-width="0.8" stroke-linejoin="miter"/>
<path d="M145.4 284.63L146.39 286.7L145.4 288.77L144.41 286.7Z" fill="#ff4c4c" stroke="#FF0000" stroke-width="0.8" stroke-linejoin="miter"/>
<path d="M155.73 284.63L156.72 286.7L155.73 288.77L154.74 286.7Z" fill="#ff4c4c" stroke="#FF0000" stroke-width="0.8" stroke-linejoin="miter"/>
<path d="M166.07 284.63L167.06 286.7L166.07 288.77L165.08 286.7Z" fill="#ff4c4c" stroke="#FF0000" stroke-width="0.8" stroke-linejoin="miter"/>
</svg>
<rect x="137.4" y="166.9" width="36.5" height="41.4" fill="#fff" stroke="#bdbdbd" stroke-width="0.5"/>
<path d="M138.9 170.9H149.7" stroke="#EDB120" stroke-width="0.9"/>
<path d="M142.52 169.47L146.09 169.47L144.3 172.69Z" fill="#f2c862" stroke="#EDB120" stroke-width="0.8" stroke-linejoin="miter"/>
<text x="150.9" y="172.5" font-size="4.45" fill="#2e2e2e">APSO</text>
<path d="M138.9 176.57H149.7" stroke="#FF00FF" stroke-width="0.9"/>
<path d="M145.73 174.78L145.73 178.35L142.52 176.57Z" fill="#ff4cff" stroke="#FF00FF" stroke-width="0.8" stroke-linejoin="miter"/>
<text x="150.9" y="178.17" font-size="4.45" fill="#2e2e2e">WOA</text>
<path d="M138.9 182.24H149.7" stroke="#0000FF" stroke-width="0.9"/>
<path d="M142.87 180.46L142.87 184.03L146.09 182.24Z" fill="#4c4cff" stroke="#0000FF" stroke-width="0.8" stroke-linejoin="miter"/>
<text x="150.9" y="183.84" font-size="4.45" fill="#2e2e2e">GJO</text>
<path d="M138.9 187.91H149.7" stroke="#00FF00" stroke-width="0.9"/>
<path d="M144.3 185.59L145.41 187.91L144.3 190.23L143.19 187.91Z" fill="#4cff4c" stroke="#00FF00" stroke-width="0.8" stroke-linejoin="miter"/>
<text x="150.9" y="189.51" font-size="4.45" fill="#2e2e2e">TSA</text>
<path d="M138.9 193.58H149.7" stroke="#A52AF0" stroke-width="0.9"/>
<circle cx="144.3" cy="193.58" r="1.53" fill="#dba9f9" stroke="#A52AF0" stroke-width="1.1"/>
<text x="150.9" y="195.18" font-size="4.45" fill="#2e2e2e">DBO</text>
<path d="M138.9 199.25H149.7" stroke="#000000" stroke-width="0.9"/>
<path d="M142.52 200.68L146.09 200.68L144.3 197.47Z" fill="#4c4c4c" stroke="#000000" stroke-width="0.8" stroke-linejoin="miter"/>
<text x="150.9" y="200.85" font-size="4.45" fill="#2e2e2e">CryStAl</text>
<path d="M138.9 204.92H149.7" stroke="#FF0000" stroke-width="0.9"/>
<path d="M144.3 202.6L145.41 204.92L144.3 207.24L143.19 204.92Z" fill="#ff4c4c" stroke="#FF0000" stroke-width="0.8" stroke-linejoin="miter"/>
<text x="150.9" y="206.52" font-size="4.45" fill="#2e2e2e">GLCryStAl</text>
<text class="t" x="282.1" y="163.5" font-size="5.3" text-anchor="middle" fill="#2e2e2e">F17</text>
<rect x="204.6" y="165.4" width="155" height="122.2" fill="#fff" stroke="#9a9a9a" stroke-width="0.6"/>
<path d="M230.43 287.6v-1.4M230.43 165.4v1.4" stroke="#9a9a9a" stroke-width="0.5"/>
<text x="230.43" y="294.8" font-size="4.6" text-anchor="middle" fill="#2e2e2e">500</text>
<path d="M256.27 287.6v-1.4M256.27 165.4v1.4" stroke="#9a9a9a" stroke-width="0.5"/>
<text x="256.27" y="294.8" font-size="4.6" text-anchor="middle" fill="#2e2e2e">1000</text>
<path d="M282.1 287.6v-1.4M282.1 165.4v1.4" stroke="#9a9a9a" stroke-width="0.5"/>
<text x="282.1" y="294.8" font-size="4.6" text-anchor="middle" fill="#2e2e2e">1500</text>
<path d="M307.93 287.6v-1.4M307.93 165.4v1.4" stroke="#9a9a9a" stroke-width="0.5"/>
<text x="307.93" y="294.8" font-size="4.6" text-anchor="middle" fill="#2e2e2e">2000</text>
<path d="M333.77 287.6v-1.4M333.77 165.4v1.4" stroke="#9a9a9a" stroke-width="0.5"/>
<text x="333.77" y="294.8" font-size="4.6" text-anchor="middle" fill="#2e2e2e">2500</text>
<path d="M359.6 287.6v-1.4M359.6 165.4v1.4" stroke="#9a9a9a" stroke-width="0.5"/>
<text x="359.6" y="294.8" font-size="4.6" text-anchor="middle" fill="#2e2e2e">3000</text>
<path d="M204.6 174.4h1.4M359.6 174.4h-1.4" stroke="#9a9a9a" stroke-width="0.5"/>
<text x="202.3" y="176" font-size="4.5" text-anchor="end" fill="#2e2e2e">10<tspan font-size="3.3" dy="-1.8">10</tspan></text>
<path d="M204.6 200h1.4M359.6 200h-1.4" stroke="#9a9a9a" stroke-width="0.5"/>
<text x="202.3" y="201.6" font-size="4.5" text-anchor="end" fill="#2e2e2e">10<tspan font-size="3.3" dy="-1.8">9</tspan></text>
<path d="M204.6 225.6h1.4M359.6 225.6h-1.4" stroke="#9a9a9a" stroke-width="0.5"/>
<text x="202.3" y="227.2" font-size="4.5" text-anchor="end" fill="#2e2e2e">10<tspan font-size="3.3" dy="-1.8">8</tspan></text>
<path d="M204.6 251.2h1.4M359.6 251.2h-1.4" stroke="#9a9a9a" stroke-width="0.5"/>
<text x="202.3" y="252.8" font-size="4.5" text-anchor="end" fill="#2e2e2e">10<tspan font-size="3.3" dy="-1.8">7</tspan></text>
<path d="M204.6 276.8h1.4M359.6 276.8h-1.4" stroke="#9a9a9a" stroke-width="0.5"/>
<text x="202.3" y="278.4" font-size="4.5" text-anchor="end" fill="#2e2e2e">10<tspan font-size="3.3" dy="-1.8">6</tspan></text>
<path d="M204.6 286.99h1M359.6 286.99h-1" stroke="#9a9a9a" stroke-width="0.45"/>
<path d="M204.6 284.51h1M359.6 284.51h-1" stroke="#9a9a9a" stroke-width="0.45"/>
<path d="M204.6 282.48h1M359.6 282.48h-1" stroke="#9a9a9a" stroke-width="0.45"/>
<path d="M204.6 280.77h1M359.6 280.77h-1" stroke="#9a9a9a" stroke-width="0.45"/>
<path d="M204.6 279.28h1M359.6 279.28h-1" stroke="#9a9a9a" stroke-width="0.45"/>
<path d="M204.6 277.97h1M359.6 277.97h-1" stroke="#9a9a9a" stroke-width="0.45"/>
<path d="M204.6 276.8h1.4M359.6 276.8h-1.4" stroke="#9a9a9a" stroke-width="0.45"/>
<path d="M204.6 269.09h1M359.6 269.09h-1" stroke="#9a9a9a" stroke-width="0.45"/>
<path d="M204.6 264.59h1M359.6 264.59h-1" stroke="#9a9a9a" stroke-width="0.45"/>
<path d="M204.6 261.39h1M359.6 261.39h-1" stroke="#9a9a9a" stroke-width="0.45"/>
<path d="M204.6 258.91h1M359.6 258.91h-1" stroke="#9a9a9a" stroke-width="0.45"/>
<path d="M204.6 256.88h1M359.6 256.88h-1" stroke="#9a9a9a" stroke-width="0.45"/>
<path d="M204.6 255.17h1M359.6 255.17h-1" stroke="#9a9a9a" stroke-width="0.45"/>
<path d="M204.6 253.68h1M359.6 253.68h-1" stroke="#9a9a9a" stroke-width="0.45"/>
<path d="M204.6 252.37h1M359.6 252.37h-1" stroke="#9a9a9a" stroke-width="0.45"/>
<path d="M204.6 251.2h1.4M359.6 251.2h-1.4" stroke="#9a9a9a" stroke-width="0.45"/>
<path d="M204.6 243.49h1M359.6 243.49h-1" stroke="#9a9a9a" stroke-width="0.45"/>
<path d="M204.6 238.99h1M359.6 238.99h-1" stroke="#9a9a9a" stroke-width="0.45"/>
<path d="M204.6 235.79h1M359.6 235.79h-1" stroke="#9a9a9a" stroke-width="0.45"/>
<path d="M204.6 233.31h1M359.6 233.31h-1" stroke="#9a9a9a" stroke-width="0.45"/>
<path d="M204.6 231.28h1M359.6 231.28h-1" stroke="#9a9a9a" stroke-width="0.45"/>
<path d="M204.6 229.57h1M359.6 229.57h-1" stroke="#9a9a9a" stroke-width="0.45"/>
<path d="M204.6 228.08h1M359.6 228.08h-1" stroke="#9a9a9a" stroke-width="0.45"/>
<path d="M204.6 226.77h1M359.6 226.77h-1" stroke="#9a9a9a" stroke-width="0.45"/>
<path d="M204.6 225.6h1.4M359.6 225.6h-1.4" stroke="#9a9a9a" stroke-width="0.45"/>
<path d="M204.6 217.89h1M359.6 217.89h-1" stroke="#9a9a9a" stroke-width="0.45"/>
<path d="M204.6 213.39h1M359.6 213.39h-1" stroke="#9a9a9a" stroke-width="0.45"/>
<path d="M204.6 210.19h1M359.6 210.19h-1" stroke="#9a9a9a" stroke-width="0.45"/>
<path d="M204.6 207.71h1M359.6 207.71h-1" stroke="#9a9a9a" stroke-width="0.45"/>
<path d="M204.6 205.68h1M359.6 205.68h-1" stroke="#9a9a9a" stroke-width="0.45"/>
<path d="M204.6 203.97h1M359.6 203.97h-1" stroke="#9a9a9a" stroke-width="0.45"/>
<path d="M204.6 202.48h1M359.6 202.48h-1" stroke="#9a9a9a" stroke-width="0.45"/>
<path d="M204.6 201.17h1M359.6 201.17h-1" stroke="#9a9a9a" stroke-width="0.45"/>
<path d="M204.6 200h1.4M359.6 200h-1.4" stroke="#9a9a9a" stroke-width="0.45"/>
<path d="M204.6 192.29h1M359.6 192.29h-1" stroke="#9a9a9a" stroke-width="0.45"/>
<path d="M204.6 187.79h1M359.6 187.79h-1" stroke="#9a9a9a" stroke-width="0.45"/>
<path d="M204.6 184.59h1M359.6 184.59h-1" stroke="#9a9a9a" stroke-width="0.45"/>
<path d="M204.6 182.11h1M359.6 182.11h-1" stroke="#9a9a9a" stroke-width="0.45"/>
<path d="M204.6 180.08h1M359.6 180.08h-1" stroke="#9a9a9a" stroke-width="0.45"/>
<path d="M204.6 178.37h1M359.6 178.37h-1" stroke="#9a9a9a" stroke-width="0.45"/>
<path d="M204.6 176.88h1M359.6 176.88h-1" stroke="#9a9a9a" stroke-width="0.45"/>
<path d="M204.6 175.57h1M359.6 175.57h-1" stroke="#9a9a9a" stroke-width="0.45"/>
<path d="M204.6 174.4h1.4M359.6 174.4h-1.4" stroke="#9a9a9a" stroke-width="0.45"/>
<path d="M204.6 166.69h1M359.6 166.69h-1" stroke="#9a9a9a" stroke-width="0.45"/>
<text x="282.1" y="301.8" font-size="5.3" text-anchor="middle" fill="#2e2e2e">Iteration</text>
<text x="283" y="306.3" font-size="4.6" text-anchor="middle" fill="#2e2e2e">(r) F<tspan font-size="3.8" dy="1.3">17</tspan></text>
<text transform="translate(192.4 226.5) rotate(-90)" font-size="5.2" text-anchor="middle" fill="#2e2e2e">Best score obtained so far</text>
<svg x="202.6" y="162.4" width="159" height="127.2" viewBox="202.6 162.4 159 127.2" overflow="hidden">
<path d="M204.6 190 L205.5 210 L206.5 225 L207.7 243.2 L208.5 258.6 L210 261.7 L214.7 265.6 L225 267.1 L260 266.8 L300 266 L360 266.9" fill="none" stroke="#EDB120" stroke-width="0.9" stroke-linejoin="round"/>
<path d="M213.34 264.36L216.53 264.36L214.93 267.23Z" fill="#f2c862" stroke="#EDB120" stroke-width="0.8" stroke-linejoin="miter"/>
<path d="M223.67 265.82L226.86 265.82L225.27 268.69Z" fill="#f2c862" stroke="#EDB120" stroke-width="0.8" stroke-linejoin="miter"/>
<path d="M234 265.73L237.19 265.73L235.6 268.6Z" fill="#f2c862" stroke="#EDB120" stroke-width="0.8" stroke-linejoin="miter"/>
<path d="M244.34 265.64L247.53 265.64L245.93 268.52Z" fill="#f2c862" stroke="#EDB120" stroke-width="0.8" stroke-linejoin="miter"/>
<path d="M254.67 265.56L257.86 265.56L256.27 268.43Z" fill="#f2c862" stroke="#EDB120" stroke-width="0.8" stroke-linejoin="miter"/>
<path d="M265 265.39L268.2 265.39L266.6 268.26Z" fill="#f2c862" stroke="#EDB120" stroke-width="0.8" stroke-linejoin="miter"/>
<path d="M275.34 265.19L278.53 265.19L276.93 268.06Z" fill="#f2c862" stroke="#EDB120" stroke-width="0.8" stroke-linejoin="miter"/>
<path d="M285.67 264.98L288.86 264.98L287.27 267.85Z" fill="#f2c862" stroke="#EDB120" stroke-width="0.8" stroke-linejoin="miter"/>
<path d="M296 264.77L299.2 264.77L297.6 267.64Z" fill="#f2c862" stroke="#EDB120" stroke-width="0.8" stroke-linejoin="miter"/>
<path d="M306.34 264.84L309.53 264.84L307.93 267.71Z" fill="#f2c862" stroke="#EDB120" stroke-width="0.8" stroke-linejoin="miter"/>
<path d="M316.67 265L319.86 265L318.27 267.87Z" fill="#f2c862" stroke="#EDB120" stroke-width="0.8" stroke-linejoin="miter"/>
<path d="M327 265.15L330.2 265.15L328.6 268.02Z" fill="#f2c862" stroke="#EDB120" stroke-width="0.8" stroke-linejoin="miter"/>
<path d="M337.34 265.31L340.53 265.31L338.93 268.18Z" fill="#f2c862" stroke="#EDB120" stroke-width="0.8" stroke-linejoin="miter"/>
<path d="M347.67 265.46L350.86 265.46L349.27 268.33Z" fill="#f2c862" stroke="#EDB120" stroke-width="0.8" stroke-linejoin="miter"/>
<path d="M204.6 165.9 L205.5 190 L206.7 215 L209.3 235.5 L210 245.5 L214.7 254.8 L217 257.9 L223 263.3 L224.7 264.8 L230.9 267.9 L235.5 269.5 L246.4 269.8 L360 270" fill="none" stroke="#FF00FF" stroke-width="0.9" stroke-linejoin="round"/>
<path d="M205.88 164.31L205.88 167.5L203 165.9Z" fill="#ff4cff" stroke="#FF00FF" stroke-width="0.8" stroke-linejoin="miter"/>
<path d="M216.21 253.52L216.21 256.71L213.34 255.11Z" fill="#ff4cff" stroke="#FF00FF" stroke-width="0.8" stroke-linejoin="miter"/>
<path d="M226.54 263.49L226.54 266.68L223.67 265.08Z" fill="#ff4cff" stroke="#FF00FF" stroke-width="0.8" stroke-linejoin="miter"/>
<path d="M236.88 267.91L236.88 271.1L234 269.5Z" fill="#ff4cff" stroke="#FF00FF" stroke-width="0.8" stroke-linejoin="miter"/>
<path d="M247.21 268.19L247.21 271.38L244.34 269.79Z" fill="#ff4cff" stroke="#FF00FF" stroke-width="0.8" stroke-linejoin="miter"/>
<path d="M257.54 268.22L257.54 271.41L254.67 269.82Z" fill="#ff4cff" stroke="#FF00FF" stroke-width="0.8" stroke-linejoin="miter"/>
<path d="M267.88 268.24L267.88 271.43L265 269.84Z" fill="#ff4cff" stroke="#FF00FF" stroke-width="0.8" stroke-linejoin="miter"/>
<path d="M278.21 268.26L278.21 271.45L275.34 269.85Z" fill="#ff4cff" stroke="#FF00FF" stroke-width="0.8" stroke-linejoin="miter"/>
<path d="M288.54 268.28L288.54 271.47L285.67 269.87Z" fill="#ff4cff" stroke="#FF00FF" stroke-width="0.8" stroke-linejoin="miter"/>
<path d="M298.88 268.3L298.88 271.49L296 269.89Z" fill="#ff4cff" stroke="#FF00FF" stroke-width="0.8" stroke-linejoin="miter"/>
<path d="M309.21 268.31L309.21 271.5L306.34 269.91Z" fill="#ff4cff" stroke="#FF00FF" stroke-width="0.8" stroke-linejoin="miter"/>
<path d="M319.54 268.33L319.54 271.52L316.67 269.93Z" fill="#ff4cff" stroke="#FF00FF" stroke-width="0.8" stroke-linejoin="miter"/>
<path d="M329.88 268.35L329.88 271.54L327 269.94Z" fill="#ff4cff" stroke="#FF00FF" stroke-width="0.8" stroke-linejoin="miter"/>
<path d="M340.21 268.37L340.21 271.56L337.34 269.96Z" fill="#ff4cff" stroke="#FF00FF" stroke-width="0.8" stroke-linejoin="miter"/>
<path d="M350.54 268.39L350.54 271.58L347.67 269.98Z" fill="#ff4cff" stroke="#FF00FF" stroke-width="0.8" stroke-linejoin="miter"/>
<path d="M204.6 168 L205.5 185 L206.2 194 L209.3 194.8 L210.8 196.8 L213.9 197.1 L214.7 203.3 L225.5 203.6 L228.6 203.6 L229.4 211 L280 211 L300 211.5 L316 212.6 L330 214 L360 214.8" fill="none" stroke="#0000FF" stroke-width="0.9" stroke-linejoin="round"/>
<path d="M203.32 166.41L203.32 169.59L206.19 168Z" fill="#4c4cff" stroke="#0000FF" stroke-width="0.8" stroke-linejoin="miter"/>
<path d="M213.66 201.71L213.66 204.9L216.53 203.31Z" fill="#4c4cff" stroke="#0000FF" stroke-width="0.8" stroke-linejoin="miter"/>
<path d="M223.99 202L223.99 205.19L226.86 203.59Z" fill="#4c4cff" stroke="#0000FF" stroke-width="0.8" stroke-linejoin="miter"/>
<path d="M234.32 209.41L234.32 212.59L237.19 211Z" fill="#4c4cff" stroke="#0000FF" stroke-width="0.8" stroke-linejoin="miter"/>
<path d="M244.66 209.41L244.66 212.59L247.53 211Z" fill="#4c4cff" stroke="#0000FF" stroke-width="0.8" stroke-linejoin="miter"/>
<path d="M254.99 209.41L254.99 212.59L257.86 211Z" fill="#4c4cff" stroke="#0000FF" stroke-width="0.8" stroke-linejoin="miter"/>
<path d="M265.32 209.41L265.32 212.59L268.2 211Z" fill="#4c4cff" stroke="#0000FF" stroke-width="0.8" stroke-linejoin="miter"/>
<path d="M275.66 209.41L275.66 212.59L278.53 211Z" fill="#4c4cff" stroke="#0000FF" stroke-width="0.8" stroke-linejoin="miter"/>
<path d="M285.99 209.59L285.99 212.78L288.86 211.18Z" fill="#4c4cff" stroke="#0000FF" stroke-width="0.8" stroke-linejoin="miter"/>
<path d="M296.32 209.84L296.32 213.03L299.2 211.44Z" fill="#4c4cff" stroke="#0000FF" stroke-width="0.8" stroke-linejoin="miter"/>
<path d="M306.66 210.45L306.66 213.64L309.53 212.05Z" fill="#4c4cff" stroke="#0000FF" stroke-width="0.8" stroke-linejoin="miter"/>
<path d="M316.99 211.23L316.99 214.42L319.86 212.83Z" fill="#4c4cff" stroke="#0000FF" stroke-width="0.8" stroke-linejoin="miter"/>
<path d="M327.32 212.27L327.32 215.46L330.2 213.86Z" fill="#4c4cff" stroke="#0000FF" stroke-width="0.8" stroke-linejoin="miter"/>
<path d="M337.66 212.64L337.66 215.83L340.53 214.24Z" fill="#4c4cff" stroke="#0000FF" stroke-width="0.8" stroke-linejoin="miter"/>
<path d="M347.99 212.92L347.99 216.11L350.86 214.51Z" fill="#4c4cff" stroke="#0000FF" stroke-width="0.8" stroke-linejoin="miter"/>
<path d="M204.6 168.5 L205.4 183.2 L209.3 184.4 L214.7 184.7 L223.2 186.3 L224.7 188.1 L226.3 190.9 L227 199.4 L235.5 200.5 L245.6 201 L251 203.3 L254.1 207.1 L256.4 210.2 L263.4 211 L266.5 212.6 L300 212.8 L340 214 L360 214.8" fill="none" stroke="#00FF00" stroke-width="0.9" stroke-linejoin="round"/>
<path d="M204.6 166.43L205.59 168.5L204.6 170.57L203.61 168.5Z" fill="#4cff4c" stroke="#00FF00" stroke-width="0.8" stroke-linejoin="miter"/>
<path d="M214.93 182.67L215.92 184.74L214.93 186.82L213.94 184.74Z" fill="#4cff4c" stroke="#00FF00" stroke-width="0.8" stroke-linejoin="miter"/>
<path d="M225.27 187.02L226.26 189.09L225.27 191.17L224.28 189.09Z" fill="#4cff4c" stroke="#00FF00" stroke-width="0.8" stroke-linejoin="miter"/>
<path d="M235.6 198.43L236.59 200.5L235.6 202.58L234.61 200.5Z" fill="#4cff4c" stroke="#00FF00" stroke-width="0.8" stroke-linejoin="miter"/>
<path d="M245.93 199.07L246.92 201.14L245.93 203.22L244.94 201.14Z" fill="#4cff4c" stroke="#00FF00" stroke-width="0.8" stroke-linejoin="miter"/>
<path d="M256.27 207.95L257.26 210.02L256.27 212.09L255.28 210.02Z" fill="#4cff4c" stroke="#00FF00" stroke-width="0.8" stroke-linejoin="miter"/>
<path d="M266.6 210.53L267.59 212.6L266.6 214.67L265.61 212.6Z" fill="#4cff4c" stroke="#00FF00" stroke-width="0.8" stroke-linejoin="miter"/>
<path d="M276.93 210.59L277.92 212.66L276.93 214.74L275.94 212.66Z" fill="#4cff4c" stroke="#00FF00" stroke-width="0.8" stroke-linejoin="miter"/>
<path d="M287.27 210.65L288.26 212.72L287.27 214.8L286.28 212.72Z" fill="#4cff4c" stroke="#00FF00" stroke-width="0.8" stroke-linejoin="miter"/>
<path d="M297.6 210.71L298.59 212.79L297.6 214.86L296.61 212.79Z" fill="#4cff4c" stroke="#00FF00" stroke-width="0.8" stroke-linejoin="miter"/>
<path d="M307.93 210.96L308.92 213.04L307.93 215.11L306.94 213.04Z" fill="#4cff4c" stroke="#00FF00" stroke-width="0.8" stroke-linejoin="miter"/>
<path d="M318.27 211.27L319.26 213.35L318.27 215.42L317.28 213.35Z" fill="#4cff4c" stroke="#00FF00" stroke-width="0.8" stroke-linejoin="miter"/>
<path d="M328.6 211.58L329.59 213.66L328.6 215.73L327.61 213.66Z" fill="#4cff4c" stroke="#00FF00" stroke-width="0.8" stroke-linejoin="miter"/>
<path d="M338.93 211.89L339.92 213.97L338.93 216.04L337.94 213.97Z" fill="#4cff4c" stroke="#00FF00" stroke-width="0.8" stroke-linejoin="miter"/>
<path d="M349.27 212.3L350.26 214.37L349.27 216.44L348.28 214.37Z" fill="#4cff4c" stroke="#00FF00" stroke-width="0.8" stroke-linejoin="miter"/>
<path d="M204.6 175.5 L205.4 183.2 L209.3 184 L214.7 185 L224.7 185.5 L262.6 185.5 L263.1 260 L264 266 L265.5 271.8 L267.2 276.4 L277 276.9 L360 276.9" fill="none" stroke="#A52AF0" stroke-width="0.9" stroke-linejoin="round"/>
<circle cx="204.6" cy="175.5" r="1.4" fill="#dba9f9" stroke="#A52AF0" stroke-width="1.1"/>
<circle cx="214.93" cy="185.01" r="1.4" fill="#dba9f9" stroke="#A52AF0" stroke-width="1.1"/>
<circle cx="225.27" cy="185.5" r="1.4" fill="#dba9f9" stroke="#A52AF0" stroke-width="1.1"/>
<circle cx="235.6" cy="185.5" r="1.4" fill="#dba9f9" stroke="#A52AF0" stroke-width="1.1"/>
<circle cx="245.93" cy="185.5" r="1.4" fill="#dba9f9" stroke="#A52AF0" stroke-width="1.1"/>
<circle cx="256.27" cy="185.5" r="1.4" fill="#dba9f9" stroke="#A52AF0" stroke-width="1.1"/>
<circle cx="266.6" cy="274.78" r="1.4" fill="#dba9f9" stroke="#A52AF0" stroke-width="1.1"/>
<circle cx="276.93" cy="276.9" r="1.4" fill="#dba9f9" stroke="#A52AF0" stroke-width="1.1"/>
<circle cx="287.27" cy="276.9" r="1.4" fill="#dba9f9" stroke="#A52AF0" stroke-width="1.1"/>
<circle cx="297.6" cy="276.9" r="1.4" fill="#dba9f9" stroke="#A52AF0" stroke-width="1.1"/>
<circle cx="307.93" cy="276.9" r="1.4" fill="#dba9f9" stroke="#A52AF0" stroke-width="1.1"/>
<circle cx="318.27" cy="276.9" r="1.4" fill="#dba9f9" stroke="#A52AF0" stroke-width="1.1"/>
<circle cx="328.6" cy="276.9" r="1.4" fill="#dba9f9" stroke="#A52AF0" stroke-width="1.1"/>
<circle cx="338.93" cy="276.9" r="1.4" fill="#dba9f9" stroke="#A52AF0" stroke-width="1.1"/>
<circle cx="349.27" cy="276.9" r="1.4" fill="#dba9f9" stroke="#A52AF0" stroke-width="1.1"/>
<path d="M204.6 167 L205.5 195 L206.5 215 L207.7 220 L210.8 226.2 L213.9 233.9 L214.7 235.5 L217 240.1 L218.5 246.3 L225.5 246.6 L228.6 249.4 L230.1 254 L235.5 254.8 L240.2 256.3 L244.8 259.9 L249.5 261.7 L256.4 262.5 L265.7 264.8 L277.3 265.6 L300 266 L330 267.9 L333 269 L337.4 273.1 L345 274.5 L360 274.6" fill="none" stroke="#000000" stroke-width="0.9" stroke-linejoin="round"/>
<path d="M213.34 237.24L216.53 237.24L214.93 234.37Z" fill="#4c4c4c" stroke="#000000" stroke-width="0.8" stroke-linejoin="miter"/>
<path d="M223.67 247.87L226.86 247.87L225.27 245Z" fill="#4c4c4c" stroke="#000000" stroke-width="0.8" stroke-linejoin="miter"/>
<path d="M234 256.11L237.19 256.11L235.6 253.24Z" fill="#4c4c4c" stroke="#000000" stroke-width="0.8" stroke-linejoin="miter"/>
<path d="M244.34 261.61L247.53 261.61L245.93 258.74Z" fill="#4c4c4c" stroke="#000000" stroke-width="0.8" stroke-linejoin="miter"/>
<path d="M254.67 263.76L257.86 263.76L256.27 260.89Z" fill="#4c4c4c" stroke="#000000" stroke-width="0.8" stroke-linejoin="miter"/>
<path d="M265 266.14L268.2 266.14L266.6 263.27Z" fill="#4c4c4c" stroke="#000000" stroke-width="0.8" stroke-linejoin="miter"/>
<path d="M275.34 266.85L278.53 266.85L276.93 263.98Z" fill="#4c4c4c" stroke="#000000" stroke-width="0.8" stroke-linejoin="miter"/>
<path d="M285.67 267.05L288.86 267.05L287.27 264.18Z" fill="#4c4c4c" stroke="#000000" stroke-width="0.8" stroke-linejoin="miter"/>
<path d="M296 267.23L299.2 267.23L297.6 264.36Z" fill="#4c4c4c" stroke="#000000" stroke-width="0.8" stroke-linejoin="miter"/>
<path d="M306.34 267.78L309.53 267.78L307.93 264.91Z" fill="#4c4c4c" stroke="#000000" stroke-width="0.8" stroke-linejoin="miter"/>
<path d="M316.67 268.43L319.86 268.43L318.27 265.56Z" fill="#4c4c4c" stroke="#000000" stroke-width="0.8" stroke-linejoin="miter"/>
<path d="M327 269.09L330.2 269.09L328.6 266.22Z" fill="#4c4c4c" stroke="#000000" stroke-width="0.8" stroke-linejoin="miter"/>
<path d="M337.34 274.66L340.53 274.66L338.93 271.79Z" fill="#4c4c4c" stroke="#000000" stroke-width="0.8" stroke-linejoin="miter"/>
<path d="M347.67 275.8L350.86 275.8L349.27 272.93Z" fill="#4c4c4c" stroke="#000000" stroke-width="0.8" stroke-linejoin="miter"/>
<path d="M204.6 185 L205.5 200 L206.5 215 L207.7 220 L209.3 226.2 L213.9 230.8 L214.7 233.1 L216.2 238.5 L219.3 247 L225 253.2 L230.1 254 L235.5 253.2 L239.4 257.1 L245.6 261 L251 263.3 L256.4 266.4 L261.8 269.5 L266.5 274.1 L277.3 274.1 L296 274.2 L303 275 L307.2 280 L328 280.8 L338.6 282.1 L349 282.5 L355 285 L357.2 287.7 L360 289" fill="none" stroke="#FF0000" stroke-width="0.9" stroke-linejoin="round"/>
<path d="M214.93 231.87L215.92 233.94L214.93 236.01L213.94 233.94Z" fill="#ff4c4c" stroke="#FF0000" stroke-width="0.8" stroke-linejoin="miter"/>
<path d="M225.27 251.17L226.26 253.24L225.27 255.32L224.28 253.24Z" fill="#ff4c4c" stroke="#FF0000" stroke-width="0.8" stroke-linejoin="miter"/>
<path d="M235.6 251.23L236.59 253.3L235.6 255.37L234.61 253.3Z" fill="#ff4c4c" stroke="#FF0000" stroke-width="0.8" stroke-linejoin="miter"/>
<path d="M245.93 259.07L246.92 261.14L245.93 263.22L244.94 261.14Z" fill="#ff4c4c" stroke="#FF0000" stroke-width="0.8" stroke-linejoin="miter"/>
<path d="M256.27 264.25L257.26 266.32L256.27 268.4L255.28 266.32Z" fill="#ff4c4c" stroke="#FF0000" stroke-width="0.8" stroke-linejoin="miter"/>
<path d="M266.6 272.03L267.59 274.1L266.6 276.17L265.61 274.1Z" fill="#ff4c4c" stroke="#FF0000" stroke-width="0.8" stroke-linejoin="miter"/>
<path d="M276.93 272.03L277.92 274.1L276.93 276.17L275.94 274.1Z" fill="#ff4c4c" stroke="#FF0000" stroke-width="0.8" stroke-linejoin="miter"/>
<path d="M287.27 272.08L288.26 274.15L287.27 276.23L286.28 274.15Z" fill="#ff4c4c" stroke="#FF0000" stroke-width="0.8" stroke-linejoin="miter"/>
<path d="M297.6 272.31L298.59 274.38L297.6 276.46L296.61 274.38Z" fill="#ff4c4c" stroke="#FF0000" stroke-width="0.8" stroke-linejoin="miter"/>
<path d="M307.93 277.95L308.92 280.03L307.93 282.1L306.94 280.03Z" fill="#ff4c4c" stroke="#FF0000" stroke-width="0.8" stroke-linejoin="miter"/>
<path d="M318.27 278.35L319.26 280.43L318.27 282.5L317.28 280.43Z" fill="#ff4c4c" stroke="#FF0000" stroke-width="0.8" stroke-linejoin="miter"/>
<path d="M328.6 278.8L329.59 280.87L328.6 282.95L327.61 280.87Z" fill="#ff4c4c" stroke="#FF0000" stroke-width="0.8" stroke-linejoin="miter"/>
<path d="M338.93 280.04L339.92 282.11L338.93 284.19L337.94 282.11Z" fill="#ff4c4c" stroke="#FF0000" stroke-width="0.8" stroke-linejoin="miter"/>
<path d="M349.27 280.54L350.26 282.61L349.27 284.68L348.28 282.61Z" fill="#ff4c4c" stroke="#FF0000" stroke-width="0.8" stroke-linejoin="miter"/>
</svg>
<rect x="319.7" y="169.9" width="35.9" height="40.8" fill="#fff" stroke="#bdbdbd" stroke-width="0.5"/>
<path d="M321.1 173.5H332" stroke="#EDB120" stroke-width="0.9"/>
<path d="M324.76 172.07L328.34 172.07L326.55 175.28Z" fill="#f2c862" stroke="#EDB120" stroke-width="0.8" stroke-linejoin="miter"/>
<text x="332.9" y="175.1" font-size="4.45" fill="#2e2e2e">APSO</text>
<path d="M321.1 179.18H332" stroke="#FF00FF" stroke-width="0.9"/>
<path d="M327.98 177.4L327.98 180.97L324.76 179.18Z" fill="#ff4cff" stroke="#FF00FF" stroke-width="0.8" stroke-linejoin="miter"/>
<text x="332.9" y="180.78" font-size="4.45" fill="#2e2e2e">WOA</text>
<path d="M321.1 184.86H332" stroke="#0000FF" stroke-width="0.9"/>
<path d="M325.12 183.08L325.12 186.65L328.34 184.86Z" fill="#4c4cff" stroke="#0000FF" stroke-width="0.8" stroke-linejoin="miter"/>
<text x="332.9" y="186.46" font-size="4.45" fill="#2e2e2e">GJO</text>
<path d="M321.1 190.54H332" stroke="#00FF00" stroke-width="0.9"/>
<path d="M326.55 188.22L327.66 190.54L326.55 192.86L325.44 190.54Z" fill="#4cff4c" stroke="#00FF00" stroke-width="0.8" stroke-linejoin="miter"/>
<text x="332.9" y="192.14" font-size="4.45" fill="#2e2e2e">TSA</text>
<path d="M321.1 196.22H332" stroke="#A52AF0" stroke-width="0.9"/>
<circle cx="326.55" cy="196.22" r="1.53" fill="#dba9f9" stroke="#A52AF0" stroke-width="1.1"/>
<text x="332.9" y="197.82" font-size="4.45" fill="#2e2e2e">DBO</text>
<path d="M321.1 201.9H332" stroke="#000000" stroke-width="0.9"/>
<path d="M324.76 203.33L328.34 203.33L326.55 200.12Z" fill="#4c4c4c" stroke="#000000" stroke-width="0.8" stroke-linejoin="miter"/>
<text x="332.9" y="203.5" font-size="4.45" fill="#2e2e2e">CryStAl</text>
<path d="M321.1 207.58H332" stroke="#FF0000" stroke-width="0.9"/>
<path d="M326.55 205.26L327.66 207.58L326.55 209.9L325.44 207.58Z" fill="#ff4c4c" stroke="#FF0000" stroke-width="0.8" stroke-linejoin="miter"/>
<text x="332.9" y="209.18" font-size="4.45" fill="#2e2e2e">GLCryStAl</text>
<text class="t" x="462.7" y="163.3" font-size="5.3" text-anchor="middle" fill="#2e2e2e">F18</text>
<rect x="385.1" y="165.2" width="155.2" height="122.3" fill="#fff" stroke="#9a9a9a" stroke-width="0.6"/>
<path d="M410.97 287.5v-1.4M410.97 165.2v1.4" stroke="#9a9a9a" stroke-width="0.5"/>
<text x="410.97" y="294.7" font-size="4.6" text-anchor="middle" fill="#2e2e2e">500</text>
<path d="M436.83 287.5v-1.4M436.83 165.2v1.4" stroke="#9a9a9a" stroke-width="0.5"/>
<text x="436.83" y="294.7" font-size="4.6" text-anchor="middle" fill="#2e2e2e">1000</text>
<path d="M462.7 287.5v-1.4M462.7 165.2v1.4" stroke="#9a9a9a" stroke-width="0.5"/>
<text x="462.7" y="294.7" font-size="4.6" text-anchor="middle" fill="#2e2e2e">1500</text>
<path d="M488.57 287.5v-1.4M488.57 165.2v1.4" stroke="#9a9a9a" stroke-width="0.5"/>
<text x="488.57" y="294.7" font-size="4.6" text-anchor="middle" fill="#2e2e2e">2000</text>
<path d="M514.43 287.5v-1.4M514.43 165.2v1.4" stroke="#9a9a9a" stroke-width="0.5"/>
<text x="514.43" y="294.7" font-size="4.6" text-anchor="middle" fill="#2e2e2e">2500</text>
<path d="M540.3 287.5v-1.4M540.3 165.2v1.4" stroke="#9a9a9a" stroke-width="0.5"/>
<text x="540.3" y="294.7" font-size="4.6" text-anchor="middle" fill="#2e2e2e">3000</text>
<path d="M385.1 176.9h1.4M540.3 176.9h-1.4" stroke="#9a9a9a" stroke-width="0.5"/>
<text x="382.8" y="178.6" font-size="4.8" text-anchor="end" fill="#2e2e2e">5500</text>
<path d="M385.1 193.47h1.4M540.3 193.47h-1.4" stroke="#9a9a9a" stroke-width="0.5"/>
<text x="382.8" y="195.17" font-size="4.8" text-anchor="end" fill="#2e2e2e">5000</text>
<path d="M385.1 211.79h1.4M540.3 211.79h-1.4" stroke="#9a9a9a" stroke-width="0.5"/>
<text x="382.8" y="213.49" font-size="4.8" text-anchor="end" fill="#2e2e2e">4500</text>
<path d="M385.1 232.28h1.4M540.3 232.28h-1.4" stroke="#9a9a9a" stroke-width="0.5"/>
<text x="382.8" y="233.98" font-size="4.8" text-anchor="end" fill="#2e2e2e">4000</text>
<path d="M385.1 255.5h1.4M540.3 255.5h-1.4" stroke="#9a9a9a" stroke-width="0.5"/>
<text x="382.8" y="257.2" font-size="4.8" text-anchor="end" fill="#2e2e2e">3500</text>
<path d="M385.1 282.3h1.4M540.3 282.3h-1.4" stroke="#9a9a9a" stroke-width="0.5"/>
<text x="382.8" y="284" font-size="4.8" text-anchor="end" fill="#2e2e2e">3000</text>
<text x="462.7" y="301.8" font-size="5.3" text-anchor="middle" fill="#2e2e2e">Iteration</text>
<text x="463.4" y="308.6" font-size="4.6" text-anchor="middle" fill="#2e2e2e">(s) F<tspan font-size="3.8" dy="1.3">18</tspan></text>
<text transform="translate(371.1 226.35) rotate(-90)" font-size="5.2" text-anchor="middle" fill="#2e2e2e">Best score obtained so far</text>
<svg x="383.1" y="162.2" width="159.2" height="127.3" viewBox="383.1 162.2 159.2 127.3" overflow="hidden">
<path d="M385.1 168.5 L385.8 190 L386.8 215 L388.8 229.3 L394 232 L395.8 232.5 L541 232.5" fill="none" stroke="#EDB120" stroke-width="0.9" stroke-linejoin="round"/>
<path d="M383.5 167.22L386.7 167.22L385.1 170.09Z" fill="#f2c862" stroke="#EDB120" stroke-width="0.8" stroke-linejoin="miter"/>
<path d="M393.85 231.13L397.04 231.13L395.45 234Z" fill="#f2c862" stroke="#EDB120" stroke-width="0.8" stroke-linejoin="miter"/>
<path d="M404.2 231.22L407.39 231.22L405.79 234.09Z" fill="#f2c862" stroke="#EDB120" stroke-width="0.8" stroke-linejoin="miter"/>
<path d="M414.54 231.22L417.74 231.22L416.14 234.09Z" fill="#f2c862" stroke="#EDB120" stroke-width="0.8" stroke-linejoin="miter"/>
<path d="M424.89 231.22L428.08 231.22L426.49 234.09Z" fill="#f2c862" stroke="#EDB120" stroke-width="0.8" stroke-linejoin="miter"/>
<path d="M435.24 231.22L438.43 231.22L436.83 234.09Z" fill="#f2c862" stroke="#EDB120" stroke-width="0.8" stroke-linejoin="miter"/>
<path d="M445.58 231.22L448.78 231.22L447.18 234.09Z" fill="#f2c862" stroke="#EDB120" stroke-width="0.8" stroke-linejoin="miter"/>
<path d="M455.93 231.22L459.12 231.22L457.53 234.09Z" fill="#f2c862" stroke="#EDB120" stroke-width="0.8" stroke-linejoin="miter"/>
<path d="M466.28 231.22L469.47 231.22L467.87 234.09Z" fill="#f2c862" stroke="#EDB120" stroke-width="0.8" stroke-linejoin="miter"/>
<path d="M476.62 231.22L479.81 231.22L478.22 234.09Z" fill="#f2c862" stroke="#EDB120" stroke-width="0.8" stroke-linejoin="miter"/>
<path d="M486.97 231.22L490.16 231.22L488.57 234.09Z" fill="#f2c862" stroke="#EDB120" stroke-width="0.8" stroke-linejoin="miter"/>
<path d="M497.32 231.22L500.51 231.22L498.91 234.09Z" fill="#f2c862" stroke="#EDB120" stroke-width="0.8" stroke-linejoin="miter"/>
<path d="M507.66 231.22L510.86 231.22L509.26 234.09Z" fill="#f2c862" stroke="#EDB120" stroke-width="0.8" stroke-linejoin="miter"/>
<path d="M518.01 231.22L521.2 231.22L519.61 234.09Z" fill="#f2c862" stroke="#EDB120" stroke-width="0.8" stroke-linejoin="miter"/>
<path d="M528.36 231.22L531.55 231.22L529.95 234.09Z" fill="#f2c862" stroke="#EDB120" stroke-width="0.8" stroke-linejoin="miter"/>
<path d="M385.1 165.4 L385.8 190 L386.8 215 L387.5 228 L389.7 239.9 L392.3 242.5 L397.6 244.3 L406.3 245.1 L416.5 246 L426.5 246.9 L436.5 247.2 L541 247.7" fill="none" stroke="#FF00FF" stroke-width="0.9" stroke-linejoin="round"/>
<path d="M386.38 163.81L386.38 167L383.5 165.4Z" fill="#ff4cff" stroke="#FF00FF" stroke-width="0.8" stroke-linejoin="miter"/>
<path d="M396.72 241.97L396.72 245.16L393.85 243.57Z" fill="#ff4cff" stroke="#FF00FF" stroke-width="0.8" stroke-linejoin="miter"/>
<path d="M407.07 243.46L407.07 246.65L404.2 245.05Z" fill="#ff4cff" stroke="#FF00FF" stroke-width="0.8" stroke-linejoin="miter"/>
<path d="M417.42 244.37L417.42 247.56L414.54 245.97Z" fill="#ff4cff" stroke="#FF00FF" stroke-width="0.8" stroke-linejoin="miter"/>
<path d="M427.76 245.3L427.76 248.49L424.89 246.9Z" fill="#ff4cff" stroke="#FF00FF" stroke-width="0.8" stroke-linejoin="miter"/>
<path d="M438.11 245.61L438.11 248.8L435.24 247.2Z" fill="#ff4cff" stroke="#FF00FF" stroke-width="0.8" stroke-linejoin="miter"/>
<path d="M448.46 245.66L448.46 248.85L445.58 247.25Z" fill="#ff4cff" stroke="#FF00FF" stroke-width="0.8" stroke-linejoin="miter"/>
<path d="M458.8 245.71L458.8 248.9L455.93 247.3Z" fill="#ff4cff" stroke="#FF00FF" stroke-width="0.8" stroke-linejoin="miter"/>
<path d="M469.15 245.76L469.15 248.95L466.28 247.35Z" fill="#ff4cff" stroke="#FF00FF" stroke-width="0.8" stroke-linejoin="miter"/>
<path d="M479.5 245.8L479.5 248.99L476.62 247.4Z" fill="#ff4cff" stroke="#FF00FF" stroke-width="0.8" stroke-linejoin="miter"/>
<path d="M489.84 245.85L489.84 249.04L486.97 247.45Z" fill="#ff4cff" stroke="#FF00FF" stroke-width="0.8" stroke-linejoin="miter"/>
<path d="M500.19 245.9L500.19 249.09L497.32 247.5Z" fill="#ff4cff" stroke="#FF00FF" stroke-width="0.8" stroke-linejoin="miter"/>
<path d="M510.54 245.95L510.54 249.14L507.66 247.55Z" fill="#ff4cff" stroke="#FF00FF" stroke-width="0.8" stroke-linejoin="miter"/>
<path d="M520.88 246L520.88 249.19L518.01 247.6Z" fill="#ff4cff" stroke="#FF00FF" stroke-width="0.8" stroke-linejoin="miter"/>
<path d="M531.23 246.05L531.23 249.24L528.36 247.65Z" fill="#ff4cff" stroke="#FF00FF" stroke-width="0.8" stroke-linejoin="miter"/>
<path d="M385.1 184.7 L386 205 L387.9 217.9 L393.2 218.8 L394.9 224 L395.8 231 L397.6 234.6 L406.3 236.3 L409.9 237.2 L411.6 240.7 L416.5 242 L426.5 242 L428.3 242.5 L429.2 245.1 L500 245 L504 245.9 L509.2 247.7 L519 250.4 L530 252.2 L540.3 253.1" fill="none" stroke="#0000FF" stroke-width="0.9" stroke-linejoin="round"/>
<path d="M383.82 183.1L383.82 186.29L386.7 184.7Z" fill="#4c4cff" stroke="#0000FF" stroke-width="0.8" stroke-linejoin="miter"/>
<path d="M394.17 226.66L394.17 229.85L397.04 228.25Z" fill="#4c4cff" stroke="#0000FF" stroke-width="0.8" stroke-linejoin="miter"/>
<path d="M404.52 234.61L404.52 237.8L407.39 236.2Z" fill="#4c4cff" stroke="#0000FF" stroke-width="0.8" stroke-linejoin="miter"/>
<path d="M414.86 240.31L414.86 243.5L417.74 241.9Z" fill="#4c4cff" stroke="#0000FF" stroke-width="0.8" stroke-linejoin="miter"/>
<path d="M425.21 240.41L425.21 243.59L428.08 242Z" fill="#4c4cff" stroke="#0000FF" stroke-width="0.8" stroke-linejoin="miter"/>
<path d="M435.56 243.49L435.56 246.68L438.43 245.09Z" fill="#4c4cff" stroke="#0000FF" stroke-width="0.8" stroke-linejoin="miter"/>
<path d="M445.9 243.48L445.9 246.67L448.78 245.07Z" fill="#4c4cff" stroke="#0000FF" stroke-width="0.8" stroke-linejoin="miter"/>
<path d="M456.25 243.46L456.25 246.65L459.12 245.06Z" fill="#4c4cff" stroke="#0000FF" stroke-width="0.8" stroke-linejoin="miter"/>
<path d="M466.6 243.45L466.6 246.64L469.47 245.05Z" fill="#4c4cff" stroke="#0000FF" stroke-width="0.8" stroke-linejoin="miter"/>
<path d="M476.94 243.44L476.94 246.63L479.81 245.03Z" fill="#4c4cff" stroke="#0000FF" stroke-width="0.8" stroke-linejoin="miter"/>
<path d="M487.29 243.42L487.29 246.61L490.16 245.02Z" fill="#4c4cff" stroke="#0000FF" stroke-width="0.8" stroke-linejoin="miter"/>
<path d="M497.64 243.41L497.64 246.6L500.51 245Z" fill="#4c4cff" stroke="#0000FF" stroke-width="0.8" stroke-linejoin="miter"/>
<path d="M507.98 246.12L507.98 249.31L510.86 247.72Z" fill="#4c4cff" stroke="#0000FF" stroke-width="0.8" stroke-linejoin="miter"/>
<path d="M518.33 248.9L518.33 252.09L521.2 250.5Z" fill="#4c4cff" stroke="#0000FF" stroke-width="0.8" stroke-linejoin="miter"/>
<path d="M528.68 250.6L528.68 253.79L531.55 252.19Z" fill="#4c4cff" stroke="#0000FF" stroke-width="0.8" stroke-linejoin="miter"/>
<path d="M385.1 170.8 L386 205 L387 230 L387.9 243.4 L391.4 244.3 L392.3 249.5 L395.8 250.7 L405.5 251.2 L407.2 254.8 L541 254.6" fill="none" stroke="#00FF00" stroke-width="0.9" stroke-linejoin="round"/>
<path d="M385.1 168.73L386.09 170.8L385.1 172.87L384.11 170.8Z" fill="#4cff4c" stroke="#00FF00" stroke-width="0.8" stroke-linejoin="miter"/>
<path d="M395.45 248.51L396.44 250.58L395.45 252.65L394.46 250.58Z" fill="#4cff4c" stroke="#00FF00" stroke-width="0.8" stroke-linejoin="miter"/>
<path d="M405.79 249.75L406.78 251.82L405.79 253.89L404.8 251.82Z" fill="#4cff4c" stroke="#00FF00" stroke-width="0.8" stroke-linejoin="miter"/>
<path d="M416.14 252.71L417.13 254.79L416.14 256.86L415.15 254.79Z" fill="#4cff4c" stroke="#00FF00" stroke-width="0.8" stroke-linejoin="miter"/>
<path d="M426.49 252.7L427.48 254.77L426.49 256.84L425.5 254.77Z" fill="#4cff4c" stroke="#00FF00" stroke-width="0.8" stroke-linejoin="miter"/>
<path d="M436.83 252.68L437.82 254.76L436.83 256.83L435.84 254.76Z" fill="#4cff4c" stroke="#00FF00" stroke-width="0.8" stroke-linejoin="miter"/>
<path d="M447.18 252.67L448.17 254.74L447.18 256.81L446.19 254.74Z" fill="#4cff4c" stroke="#00FF00" stroke-width="0.8" stroke-linejoin="miter"/>
<path d="M457.53 252.65L458.52 254.72L457.53 256.8L456.54 254.72Z" fill="#4cff4c" stroke="#00FF00" stroke-width="0.8" stroke-linejoin="miter"/>
<path d="M467.87 252.64L468.86 254.71L467.87 256.78L466.88 254.71Z" fill="#4cff4c" stroke="#00FF00" stroke-width="0.8" stroke-linejoin="miter"/>
<path d="M478.22 252.62L479.21 254.69L478.22 256.77L477.23 254.69Z" fill="#4cff4c" stroke="#00FF00" stroke-width="0.8" stroke-linejoin="miter"/>
<path d="M488.57 252.6L489.56 254.68L488.57 256.75L487.58 254.68Z" fill="#4cff4c" stroke="#00FF00" stroke-width="0.8" stroke-linejoin="miter"/>
<path d="M498.91 252.59L499.9 254.66L498.91 256.74L497.92 254.66Z" fill="#4cff4c" stroke="#00FF00" stroke-width="0.8" stroke-linejoin="miter"/>
<path d="M509.26 252.57L510.25 254.65L509.26 256.72L508.27 254.65Z" fill="#4cff4c" stroke="#00FF00" stroke-width="0.8" stroke-linejoin="miter"/>
<path d="M519.61 252.56L520.6 254.63L519.61 256.71L518.62 254.63Z" fill="#4cff4c" stroke="#00FF00" stroke-width="0.8" stroke-linejoin="miter"/>
<path d="M529.95 252.54L530.94 254.62L529.95 256.69L528.96 254.62Z" fill="#4cff4c" stroke="#00FF00" stroke-width="0.8" stroke-linejoin="miter"/>
<path d="M385.1 176.2 L386 200 L387.9 220 L390.5 231.1 L393.2 241.6 L397.6 244.3 L406.3 245.1 L416.5 246.5 L426.5 246.9 L436.5 247.7 L541 247.7" fill="none" stroke="#A52AF0" stroke-width="0.9" stroke-linejoin="round"/>
<circle cx="385.1" cy="176.2" r="1.4" fill="#dba9f9" stroke="#A52AF0" stroke-width="1.1"/>
<circle cx="395.45" cy="242.98" r="1.4" fill="#dba9f9" stroke="#A52AF0" stroke-width="1.1"/>
<circle cx="405.79" cy="245.05" r="1.4" fill="#dba9f9" stroke="#A52AF0" stroke-width="1.1"/>
<circle cx="416.14" cy="246.45" r="1.4" fill="#dba9f9" stroke="#A52AF0" stroke-width="1.1"/>
<circle cx="426.49" cy="246.9" r="1.4" fill="#dba9f9" stroke="#A52AF0" stroke-width="1.1"/>
<circle cx="436.83" cy="247.7" r="1.4" fill="#dba9f9" stroke="#A52AF0" stroke-width="1.1"/>
<circle cx="447.18" cy="247.7" r="1.4" fill="#dba9f9" stroke="#A52AF0" stroke-width="1.1"/>
<circle cx="457.53" cy="247.7" r="1.4" fill="#dba9f9" stroke="#A52AF0" stroke-width="1.1"/>
<circle cx="467.87" cy="247.7" r="1.4" fill="#dba9f9" stroke="#A52AF0" stroke-width="1.1"/>
<circle cx="478.22" cy="247.7" r="1.4" fill="#dba9f9" stroke="#A52AF0" stroke-width="1.1"/>
<circle cx="488.57" cy="247.7" r="1.4" fill="#dba9f9" stroke="#A52AF0" stroke-width="1.1"/>
<circle cx="498.91" cy="247.7" r="1.4" fill="#dba9f9" stroke="#A52AF0" stroke-width="1.1"/>
<circle cx="509.26" cy="247.7" r="1.4" fill="#dba9f9" stroke="#A52AF0" stroke-width="1.1"/>
<circle cx="519.61" cy="247.7" r="1.4" fill="#dba9f9" stroke="#A52AF0" stroke-width="1.1"/>
<circle cx="529.95" cy="247.7" r="1.4" fill="#dba9f9" stroke="#A52AF0" stroke-width="1.1"/>
<path d="M385.1 200 L386.1 217 L390.5 218.8 L392.3 224 L395.8 232 L404.6 236.3 L406 236.7 L408.1 239 L411.6 242.5 L413.4 247.8 L416.5 247.8 L424.8 248.6 L426.5 250.7 L429.2 253 L501 253.1 L501.5 257.6 L509.2 258.2 L519 258.9 L530 259.6 L537 260.6 L540.3 262.1" fill="none" stroke="#000000" stroke-width="0.9" stroke-linejoin="round"/>
<path d="M393.85 232.47L397.04 232.47L395.45 229.6Z" fill="#4c4c4c" stroke="#000000" stroke-width="0.8" stroke-linejoin="miter"/>
<path d="M404.2 237.92L407.39 237.92L405.79 235.05Z" fill="#4c4c4c" stroke="#000000" stroke-width="0.8" stroke-linejoin="miter"/>
<path d="M414.54 249.08L417.74 249.08L416.14 246.21Z" fill="#4c4c4c" stroke="#000000" stroke-width="0.8" stroke-linejoin="miter"/>
<path d="M424.89 251.96L428.08 251.96L426.49 249.09Z" fill="#4c4c4c" stroke="#000000" stroke-width="0.8" stroke-linejoin="miter"/>
<path d="M435.24 254.29L438.43 254.29L436.83 251.42Z" fill="#4c4c4c" stroke="#000000" stroke-width="0.8" stroke-linejoin="miter"/>
<path d="M445.58 254.3L448.78 254.3L447.18 251.43Z" fill="#4c4c4c" stroke="#000000" stroke-width="0.8" stroke-linejoin="miter"/>
<path d="M455.93 254.32L459.12 254.32L457.53 251.44Z" fill="#4c4c4c" stroke="#000000" stroke-width="0.8" stroke-linejoin="miter"/>
<path d="M466.28 254.33L469.47 254.33L467.87 251.46Z" fill="#4c4c4c" stroke="#000000" stroke-width="0.8" stroke-linejoin="miter"/>
<path d="M476.62 254.34L479.81 254.34L478.22 251.47Z" fill="#4c4c4c" stroke="#000000" stroke-width="0.8" stroke-linejoin="miter"/>
<path d="M486.97 254.36L490.16 254.36L488.57 251.49Z" fill="#4c4c4c" stroke="#000000" stroke-width="0.8" stroke-linejoin="miter"/>
<path d="M497.32 254.37L500.51 254.37L498.91 251.5Z" fill="#4c4c4c" stroke="#000000" stroke-width="0.8" stroke-linejoin="miter"/>
<path d="M507.66 259.48L510.86 259.48L509.26 256.61Z" fill="#4c4c4c" stroke="#000000" stroke-width="0.8" stroke-linejoin="miter"/>
<path d="M518.01 260.21L521.2 260.21L519.61 257.34Z" fill="#4c4c4c" stroke="#000000" stroke-width="0.8" stroke-linejoin="miter"/>
<path d="M528.36 260.87L531.55 260.87L529.95 258Z" fill="#4c4c4c" stroke="#000000" stroke-width="0.8" stroke-linejoin="miter"/>
<path d="M385.1 190 L386 215 L387.9 220.5 L388.8 236.3 L393.2 239 L394 241.6 L395.5 242.5 L401.1 246 L406.3 247.8 L409.9 250.4 L412.5 252.2 L416.5 253.6 L424.8 254.8 L426 255.6 L426.5 262.7 L427.1 278.5 L436.2 279 L442.3 280.2 L444.1 282 L446.7 283.4 L453.8 284.6 L457.3 285.9 L464.3 287.3 L541 287.6" fill="none" stroke="#FF0000" stroke-width="0.9" stroke-linejoin="round"/>
<path d="M395.45 240.39L396.44 242.47L395.45 244.54L394.46 242.47Z" fill="#ff4c4c" stroke="#FF0000" stroke-width="0.8" stroke-linejoin="miter"/>
<path d="M405.79 245.55L406.78 247.62L405.79 249.7L404.8 247.62Z" fill="#ff4c4c" stroke="#FF0000" stroke-width="0.8" stroke-linejoin="miter"/>
<path d="M416.14 251.4L417.13 253.47L416.14 255.55L415.15 253.47Z" fill="#ff4c4c" stroke="#FF0000" stroke-width="0.8" stroke-linejoin="miter"/>
<path d="M426.49 260.44L427.48 262.51L426.49 264.58L425.5 262.51Z" fill="#ff4c4c" stroke="#FF0000" stroke-width="0.8" stroke-linejoin="miter"/>
<path d="M436.83 277.05L437.82 279.12L436.83 281.2L435.84 279.12Z" fill="#ff4c4c" stroke="#FF0000" stroke-width="0.8" stroke-linejoin="miter"/>
<path d="M447.18 281.41L448.17 283.48L447.18 285.55L446.19 283.48Z" fill="#ff4c4c" stroke="#FF0000" stroke-width="0.8" stroke-linejoin="miter"/>
<path d="M457.53 283.87L458.52 285.95L457.53 288.02L456.54 285.95Z" fill="#ff4c4c" stroke="#FF0000" stroke-width="0.8" stroke-linejoin="miter"/>
<path d="M467.87 285.24L468.86 287.31L467.87 289.39L466.88 287.31Z" fill="#ff4c4c" stroke="#FF0000" stroke-width="0.8" stroke-linejoin="miter"/>
<path d="M478.22 285.28L479.21 287.35L478.22 289.43L477.23 287.35Z" fill="#ff4c4c" stroke="#FF0000" stroke-width="0.8" stroke-linejoin="miter"/>
<path d="M488.57 285.32L489.56 287.39L488.57 289.47L487.58 287.39Z" fill="#ff4c4c" stroke="#FF0000" stroke-width="0.8" stroke-linejoin="miter"/>
<path d="M498.91 285.36L499.9 287.44L498.91 289.51L497.92 287.44Z" fill="#ff4c4c" stroke="#FF0000" stroke-width="0.8" stroke-linejoin="miter"/>
<path d="M509.26 285.4L510.25 287.48L509.26 289.55L508.27 287.48Z" fill="#ff4c4c" stroke="#FF0000" stroke-width="0.8" stroke-linejoin="miter"/>
<path d="M519.61 285.44L520.6 287.52L519.61 289.59L518.62 287.52Z" fill="#ff4c4c" stroke="#FF0000" stroke-width="0.8" stroke-linejoin="miter"/>
<path d="M529.95 285.48L530.94 287.56L529.95 289.63L528.96 287.56Z" fill="#ff4c4c" stroke="#FF0000" stroke-width="0.8" stroke-linejoin="miter"/>
</svg>
<rect x="500.3" y="169.7" width="35.5" height="41" fill="#fff" stroke="#bdbdbd" stroke-width="0.5"/>
<path d="M502 173.5H512.9" stroke="#EDB120" stroke-width="0.9"/>
<path d="M505.66 172.07L509.24 172.07L507.45 175.28Z" fill="#f2c862" stroke="#EDB120" stroke-width="0.8" stroke-linejoin="miter"/>
<text x="513.9" y="175.1" font-size="4.45" fill="#2e2e2e">APSO</text>
<path d="M502 179.18H512.9" stroke="#FF00FF" stroke-width="0.9"/>
<path d="M508.88 177.4L508.88 180.97L505.66 179.18Z" fill="#ff4cff" stroke="#FF00FF" stroke-width="0.8" stroke-linejoin="miter"/>
<text x="513.9" y="180.78" font-size="4.45" fill="#2e2e2e">WOA</text>
<path d="M502 184.86H512.9" stroke="#0000FF" stroke-width="0.9"/>
<path d="M506.02 183.08L506.02 186.65L509.24 184.86Z" fill="#4c4cff" stroke="#0000FF" stroke-width="0.8" stroke-linejoin="miter"/>
<text x="513.9" y="186.46" font-size="4.45" fill="#2e2e2e">GJO</text>
<path d="M502 190.54H512.9" stroke="#00FF00" stroke-width="0.9"/>
<path d="M507.45 188.22L508.56 190.54L507.45 192.86L506.34 190.54Z" fill="#4cff4c" stroke="#00FF00" stroke-width="0.8" stroke-linejoin="miter"/>
<text x="513.9" y="192.14" font-size="4.45" fill="#2e2e2e">TSA</text>
<path d="M502 196.22H512.9" stroke="#A52AF0" stroke-width="0.9"/>
<circle cx="507.45" cy="196.22" r="1.53" fill="#dba9f9" stroke="#A52AF0" stroke-width="1.1"/>
<text x="513.9" y="197.82" font-size="4.45" fill="#2e2e2e">DBO</text>
<path d="M502 201.9H512.9" stroke="#000000" stroke-width="0.9"/>
<path d="M505.66 203.33L509.24 203.33L507.45 200.12Z" fill="#4c4c4c" stroke="#000000" stroke-width="0.8" stroke-linejoin="miter"/>
<text x="513.9" y="203.5" font-size="4.45" fill="#2e2e2e">CryStAl</text>
<path d="M502 207.58H512.9" stroke="#FF0000" stroke-width="0.9"/>
<path d="M507.45 205.26L508.56 207.58L507.45 209.9L506.34 207.58Z" fill="#ff4c4c" stroke="#FF0000" stroke-width="0.8" stroke-linejoin="miter"/>
<text x="513.9" y="209.18" font-size="4.45" fill="#2e2e2e">GLCryStAl</text>
<text class="t" x="187.8" y="303.1" font-size="5.3" text-anchor="middle" fill="#2e2e2e">F19</text>
<rect x="110" y="305" width="155.6" height="122.6" fill="#fff" stroke="#9a9a9a" stroke-width="0.6"/>
<path d="M135.93 427.6v-1.4M135.93 305v1.4" stroke="#9a9a9a" stroke-width="0.5"/>
<text x="135.93" y="434.8" font-size="4.6" text-anchor="middle" fill="#2e2e2e">500</text>
<path d="M161.87 427.6v-1.4M161.87 305v1.4" stroke="#9a9a9a" stroke-width="0.5"/>
<text x="161.87" y="434.8" font-size="4.6" text-anchor="middle" fill="#2e2e2e">1000</text>
<path d="M187.8 427.6v-1.4M187.8 305v1.4" stroke="#9a9a9a" stroke-width="0.5"/>
<text x="187.8" y="434.8" font-size="4.6" text-anchor="middle" fill="#2e2e2e">1500</text>
<path d="M213.73 427.6v-1.4M213.73 305v1.4" stroke="#9a9a9a" stroke-width="0.5"/>
<text x="213.73" y="434.8" font-size="4.6" text-anchor="middle" fill="#2e2e2e">2000</text>
<path d="M239.67 427.6v-1.4M239.67 305v1.4" stroke="#9a9a9a" stroke-width="0.5"/>
<text x="239.67" y="434.8" font-size="4.6" text-anchor="middle" fill="#2e2e2e">2500</text>
<path d="M265.6 427.6v-1.4M265.6 305v1.4" stroke="#9a9a9a" stroke-width="0.5"/>
<text x="265.6" y="434.8" font-size="4.6" text-anchor="middle" fill="#2e2e2e">3000</text>
<path d="M110 318.9h1.4M265.6 318.9h-1.4" stroke="#9a9a9a" stroke-width="0.5"/>
<text x="107.7" y="320.6" font-size="4.8" text-anchor="end" fill="#2e2e2e">5500</text>
<path d="M110 339.69h1.4M265.6 339.69h-1.4" stroke="#9a9a9a" stroke-width="0.5"/>
<text x="107.7" y="341.39" font-size="4.8" text-anchor="end" fill="#2e2e2e">5000</text>
<path d="M110 362.68h1.4M265.6 362.68h-1.4" stroke="#9a9a9a" stroke-width="0.5"/>
<text x="107.7" y="364.38" font-size="4.8" text-anchor="end" fill="#2e2e2e">4500</text>
<path d="M110 388.37h1.4M265.6 388.37h-1.4" stroke="#9a9a9a" stroke-width="0.5"/>
<text x="107.7" y="390.07" font-size="4.8" text-anchor="end" fill="#2e2e2e">4000</text>
<path d="M110 417.5h1.4M265.6 417.5h-1.4" stroke="#9a9a9a" stroke-width="0.5"/>
<text x="107.7" y="419.2" font-size="4.8" text-anchor="end" fill="#2e2e2e">3500</text>
<text x="187.8" y="441.8" font-size="5.3" text-anchor="middle" fill="#2e2e2e">Iteration</text>
<text x="188.1" y="447.8" font-size="4.6" text-anchor="middle" fill="#2e2e2e">(t) F<tspan font-size="3.8" dy="1.3">19</tspan></text>
<text transform="translate(94.4 366.3) rotate(-90)" font-size="5.2" text-anchor="middle" fill="#2e2e2e">Best score obtained so far</text>
<svg x="108" y="302" width="159.6" height="127.6" viewBox="108 302 159.6 127.6" overflow="hidden">
<path d="M110 344 L111 360 L112.9 374.2 L116.1 377.4 L120 379 L130 379.4 L266 379.4" fill="none" stroke="#EDB120" stroke-width="0.9" stroke-linejoin="round"/>
<path d="M108.41 342.72L111.59 342.72L110 345.6Z" fill="#f2c862" stroke="#EDB120" stroke-width="0.8" stroke-linejoin="miter"/>
<path d="M118.78 377.74L121.97 377.74L120.37 380.61Z" fill="#f2c862" stroke="#EDB120" stroke-width="0.8" stroke-linejoin="miter"/>
<path d="M129.15 378.12L132.34 378.12L130.75 381Z" fill="#f2c862" stroke="#EDB120" stroke-width="0.8" stroke-linejoin="miter"/>
<path d="M139.53 378.12L142.72 378.12L141.12 381Z" fill="#f2c862" stroke="#EDB120" stroke-width="0.8" stroke-linejoin="miter"/>
<path d="M149.9 378.12L153.09 378.12L151.49 381Z" fill="#f2c862" stroke="#EDB120" stroke-width="0.8" stroke-linejoin="miter"/>
<path d="M160.27 378.12L163.46 378.12L161.87 381Z" fill="#f2c862" stroke="#EDB120" stroke-width="0.8" stroke-linejoin="miter"/>
<path d="M170.65 378.12L173.84 378.12L172.24 381Z" fill="#f2c862" stroke="#EDB120" stroke-width="0.8" stroke-linejoin="miter"/>
<path d="M181.02 378.12L184.21 378.12L182.61 381Z" fill="#f2c862" stroke="#EDB120" stroke-width="0.8" stroke-linejoin="miter"/>
<path d="M191.39 378.12L194.58 378.12L192.99 381Z" fill="#f2c862" stroke="#EDB120" stroke-width="0.8" stroke-linejoin="miter"/>
<path d="M201.77 378.12L204.96 378.12L203.36 381Z" fill="#f2c862" stroke="#EDB120" stroke-width="0.8" stroke-linejoin="miter"/>
<path d="M212.14 378.12L215.33 378.12L213.73 381Z" fill="#f2c862" stroke="#EDB120" stroke-width="0.8" stroke-linejoin="miter"/>
<path d="M222.51 378.12L225.7 378.12L224.11 381Z" fill="#f2c862" stroke="#EDB120" stroke-width="0.8" stroke-linejoin="miter"/>
<path d="M232.89 378.12L236.08 378.12L234.48 381Z" fill="#f2c862" stroke="#EDB120" stroke-width="0.8" stroke-linejoin="miter"/>
<path d="M243.26 378.12L246.45 378.12L244.85 381Z" fill="#f2c862" stroke="#EDB120" stroke-width="0.8" stroke-linejoin="miter"/>
<path d="M253.63 378.12L256.82 378.12L255.23 381Z" fill="#f2c862" stroke="#EDB120" stroke-width="0.8" stroke-linejoin="miter"/>
<path d="M110 315.5 L111 360 L112.1 388.4 L114.5 390.8 L120 392.9 L130.3 395.1 L140.5 396.8 L151.6 397.9 L161.9 398.7 L172.9 399.2 L266 399.6" fill="none" stroke="#FF00FF" stroke-width="0.9" stroke-linejoin="round"/>
<path d="M111.28 313.9L111.28 317.1L108.41 315.5Z" fill="#ff4cff" stroke="#FF00FF" stroke-width="0.8" stroke-linejoin="miter"/>
<path d="M121.65 391.38L121.65 394.57L118.78 392.98Z" fill="#ff4cff" stroke="#FF00FF" stroke-width="0.8" stroke-linejoin="miter"/>
<path d="M132.02 393.58L132.02 396.77L129.15 395.17Z" fill="#ff4cff" stroke="#FF00FF" stroke-width="0.8" stroke-linejoin="miter"/>
<path d="M142.4 395.27L142.4 398.46L139.53 396.86Z" fill="#ff4cff" stroke="#FF00FF" stroke-width="0.8" stroke-linejoin="miter"/>
<path d="M152.77 396.29L152.77 399.48L149.9 397.89Z" fill="#ff4cff" stroke="#FF00FF" stroke-width="0.8" stroke-linejoin="miter"/>
<path d="M163.14 397.1L163.14 400.29L160.27 398.7Z" fill="#ff4cff" stroke="#FF00FF" stroke-width="0.8" stroke-linejoin="miter"/>
<path d="M173.52 397.57L173.52 400.77L170.65 399.17Z" fill="#ff4cff" stroke="#FF00FF" stroke-width="0.8" stroke-linejoin="miter"/>
<path d="M183.89 397.65L183.89 400.84L181.02 399.24Z" fill="#ff4cff" stroke="#FF00FF" stroke-width="0.8" stroke-linejoin="miter"/>
<path d="M194.26 397.69L194.26 400.88L191.39 399.29Z" fill="#ff4cff" stroke="#FF00FF" stroke-width="0.8" stroke-linejoin="miter"/>
<path d="M204.64 397.74L204.64 400.93L201.77 399.33Z" fill="#ff4cff" stroke="#FF00FF" stroke-width="0.8" stroke-linejoin="miter"/>
<path d="M215.01 397.78L215.01 400.97L212.14 399.38Z" fill="#ff4cff" stroke="#FF00FF" stroke-width="0.8" stroke-linejoin="miter"/>
<path d="M225.38 397.83L225.38 401.02L222.51 399.42Z" fill="#ff4cff" stroke="#FF00FF" stroke-width="0.8" stroke-linejoin="miter"/>
<path d="M235.76 397.87L235.76 401.06L232.89 399.46Z" fill="#ff4cff" stroke="#FF00FF" stroke-width="0.8" stroke-linejoin="miter"/>
<path d="M246.13 397.91L246.13 401.1L243.26 399.51Z" fill="#ff4cff" stroke="#FF00FF" stroke-width="0.8" stroke-linejoin="miter"/>
<path d="M256.5 397.96L256.5 401.15L253.63 399.55Z" fill="#ff4cff" stroke="#FF00FF" stroke-width="0.8" stroke-linejoin="miter"/>
<path d="M110 311.6 L110.8 370 L111.5 400 L113 404.2 L117.6 405.8 L120.8 407.4 L122.4 409.3 L186 409.3 L193 409.5 L197.1 410.7 L203 411.1 L245.6 411.1 L246.6 413.1 L252.7 414.7 L255.7 416.8 L259.8 419.8 L266 423.4" fill="none" stroke="#0000FF" stroke-width="0.9" stroke-linejoin="round"/>
<path d="M108.72 310L108.72 313.2L111.59 311.6Z" fill="#4c4cff" stroke="#0000FF" stroke-width="0.8" stroke-linejoin="miter"/>
<path d="M119.1 405.59L119.1 408.78L121.97 407.19Z" fill="#4c4cff" stroke="#0000FF" stroke-width="0.8" stroke-linejoin="miter"/>
<path d="M129.47 407.7L129.47 410.9L132.34 409.3Z" fill="#4c4cff" stroke="#0000FF" stroke-width="0.8" stroke-linejoin="miter"/>
<path d="M139.84 407.7L139.84 410.9L142.72 409.3Z" fill="#4c4cff" stroke="#0000FF" stroke-width="0.8" stroke-linejoin="miter"/>
<path d="M150.22 407.7L150.22 410.9L153.09 409.3Z" fill="#4c4cff" stroke="#0000FF" stroke-width="0.8" stroke-linejoin="miter"/>
<path d="M160.59 407.7L160.59 410.9L163.46 409.3Z" fill="#4c4cff" stroke="#0000FF" stroke-width="0.8" stroke-linejoin="miter"/>
<path d="M170.96 407.7L170.96 410.9L173.84 409.3Z" fill="#4c4cff" stroke="#0000FF" stroke-width="0.8" stroke-linejoin="miter"/>
<path d="M181.34 407.7L181.34 410.9L184.21 409.3Z" fill="#4c4cff" stroke="#0000FF" stroke-width="0.8" stroke-linejoin="miter"/>
<path d="M191.71 407.9L191.71 411.09L194.58 409.5Z" fill="#4c4cff" stroke="#0000FF" stroke-width="0.8" stroke-linejoin="miter"/>
<path d="M202.08 409.5L202.08 412.7L204.96 411.1Z" fill="#4c4cff" stroke="#0000FF" stroke-width="0.8" stroke-linejoin="miter"/>
<path d="M212.46 409.5L212.46 412.7L215.33 411.1Z" fill="#4c4cff" stroke="#0000FF" stroke-width="0.8" stroke-linejoin="miter"/>
<path d="M222.83 409.5L222.83 412.7L225.7 411.1Z" fill="#4c4cff" stroke="#0000FF" stroke-width="0.8" stroke-linejoin="miter"/>
<path d="M233.2 409.5L233.2 412.7L236.08 411.1Z" fill="#4c4cff" stroke="#0000FF" stroke-width="0.8" stroke-linejoin="miter"/>
<path d="M243.58 409.5L243.58 412.7L246.45 411.1Z" fill="#4c4cff" stroke="#0000FF" stroke-width="0.8" stroke-linejoin="miter"/>
<path d="M253.95 414.87L253.95 418.06L256.82 416.47Z" fill="#4c4cff" stroke="#0000FF" stroke-width="0.8" stroke-linejoin="miter"/>
<path d="M110 304.9 L111.2 320.1 L112.7 329.4 L115 333.2 L120.1 334 L122 334.8 L123.5 352.6 L125.1 354.1 L129.7 354.9 L130.5 357.5 L140.5 358 L144.4 358.4 L146 363.4 L151.6 364.4 L152.4 366.3 L155.6 368.7 L161.9 369.8 L172.1 370.3 L182.4 371.4 L230 371.9 L246 372.3 L250 373.3 L255 374.3 L266 374" fill="none" stroke="#00FF00" stroke-width="0.9" stroke-linejoin="round"/>
<path d="M110 302.83L110.99 304.9L110 306.97L109.01 304.9Z" fill="#4cff4c" stroke="#00FF00" stroke-width="0.8" stroke-linejoin="miter"/>
<path d="M120.37 332.04L121.36 334.12L120.37 336.19L119.38 334.12Z" fill="#4cff4c" stroke="#00FF00" stroke-width="0.8" stroke-linejoin="miter"/>
<path d="M130.75 355.44L131.74 357.51L130.75 359.59L129.76 357.51Z" fill="#4cff4c" stroke="#00FF00" stroke-width="0.8" stroke-linejoin="miter"/>
<path d="M141.12 355.99L142.11 358.06L141.12 360.14L140.13 358.06Z" fill="#4cff4c" stroke="#00FF00" stroke-width="0.8" stroke-linejoin="miter"/>
<path d="M151.49 362.31L152.48 364.38L151.49 366.45L150.5 364.38Z" fill="#4cff4c" stroke="#00FF00" stroke-width="0.8" stroke-linejoin="miter"/>
<path d="M161.87 367.72L162.86 369.79L161.87 371.87L160.88 369.79Z" fill="#4cff4c" stroke="#00FF00" stroke-width="0.8" stroke-linejoin="miter"/>
<path d="M172.24 368.24L173.23 370.31L172.24 372.39L171.25 370.31Z" fill="#4cff4c" stroke="#00FF00" stroke-width="0.8" stroke-linejoin="miter"/>
<path d="M182.61 369.33L183.6 371.4L182.61 373.48L181.62 371.4Z" fill="#4cff4c" stroke="#00FF00" stroke-width="0.8" stroke-linejoin="miter"/>
<path d="M192.99 369.44L193.98 371.51L192.99 373.58L192 371.51Z" fill="#4cff4c" stroke="#00FF00" stroke-width="0.8" stroke-linejoin="miter"/>
<path d="M203.36 369.55L204.35 371.62L203.36 373.69L202.37 371.62Z" fill="#4cff4c" stroke="#00FF00" stroke-width="0.8" stroke-linejoin="miter"/>
<path d="M213.73 369.66L214.72 371.73L213.73 373.8L212.74 371.73Z" fill="#4cff4c" stroke="#00FF00" stroke-width="0.8" stroke-linejoin="miter"/>
<path d="M224.11 369.76L225.1 371.84L224.11 373.91L223.12 371.84Z" fill="#4cff4c" stroke="#00FF00" stroke-width="0.8" stroke-linejoin="miter"/>
<path d="M234.48 369.94L235.47 372.01L234.48 374.09L233.49 372.01Z" fill="#4cff4c" stroke="#00FF00" stroke-width="0.8" stroke-linejoin="miter"/>
<path d="M244.85 370.2L245.84 372.27L244.85 374.34L243.86 372.27Z" fill="#4cff4c" stroke="#00FF00" stroke-width="0.8" stroke-linejoin="miter"/>
<path d="M255.23 372.22L256.22 374.29L255.23 376.37L254.24 374.29Z" fill="#4cff4c" stroke="#00FF00" stroke-width="0.8" stroke-linejoin="miter"/>
<path d="M110 363.2 L110.8 390 L112.9 413.7 L116.1 419.2 L120 420 L266 420" fill="none" stroke="#A52AF0" stroke-width="0.9" stroke-linejoin="round"/>
<circle cx="110" cy="363.2" r="1.4" fill="#dba9f9" stroke="#A52AF0" stroke-width="1.1"/>
<circle cx="120.37" cy="420" r="1.4" fill="#dba9f9" stroke="#A52AF0" stroke-width="1.1"/>
<circle cx="130.75" cy="420" r="1.4" fill="#dba9f9" stroke="#A52AF0" stroke-width="1.1"/>
<circle cx="141.12" cy="420" r="1.4" fill="#dba9f9" stroke="#A52AF0" stroke-width="1.1"/>
<circle cx="151.49" cy="420" r="1.4" fill="#dba9f9" stroke="#A52AF0" stroke-width="1.1"/>
<circle cx="161.87" cy="420" r="1.4" fill="#dba9f9" stroke="#A52AF0" stroke-width="1.1"/>
<circle cx="172.24" cy="420" r="1.4" fill="#dba9f9" stroke="#A52AF0" stroke-width="1.1"/>
<circle cx="182.61" cy="420" r="1.4" fill="#dba9f9" stroke="#A52AF0" stroke-width="1.1"/>
<circle cx="192.99" cy="420" r="1.4" fill="#dba9f9" stroke="#A52AF0" stroke-width="1.1"/>
<circle cx="203.36" cy="420" r="1.4" fill="#dba9f9" stroke="#A52AF0" stroke-width="1.1"/>
<circle cx="213.73" cy="420" r="1.4" fill="#dba9f9" stroke="#A52AF0" stroke-width="1.1"/>
<circle cx="224.11" cy="420" r="1.4" fill="#dba9f9" stroke="#A52AF0" stroke-width="1.1"/>
<circle cx="234.48" cy="420" r="1.4" fill="#dba9f9" stroke="#A52AF0" stroke-width="1.1"/>
<circle cx="244.85" cy="420" r="1.4" fill="#dba9f9" stroke="#A52AF0" stroke-width="1.1"/>
<circle cx="255.23" cy="420" r="1.4" fill="#dba9f9" stroke="#A52AF0" stroke-width="1.1"/>
<path d="M110 330 L110.8 375 L111.5 400 L112.9 406.6 L113.7 409 L114.5 411.3 L120 411.8 L130 412.1 L185 414.7 L190 415.2 L250 415.2 L266 415.2" fill="none" stroke="#000000" stroke-width="0.9" stroke-linejoin="round"/>
<path d="M118.78 413.09L121.97 413.09L120.37 410.22Z" fill="#4c4c4c" stroke="#000000" stroke-width="0.8" stroke-linejoin="miter"/>
<path d="M129.15 413.41L132.34 413.41L130.75 410.54Z" fill="#4c4c4c" stroke="#000000" stroke-width="0.8" stroke-linejoin="miter"/>
<path d="M139.53 413.9L142.72 413.9L141.12 411.03Z" fill="#4c4c4c" stroke="#000000" stroke-width="0.8" stroke-linejoin="miter"/>
<path d="M149.9 414.39L153.09 414.39L151.49 411.52Z" fill="#4c4c4c" stroke="#000000" stroke-width="0.8" stroke-linejoin="miter"/>
<path d="M160.27 414.88L163.46 414.88L161.87 412.01Z" fill="#4c4c4c" stroke="#000000" stroke-width="0.8" stroke-linejoin="miter"/>
<path d="M170.65 415.37L173.84 415.37L172.24 412.5Z" fill="#4c4c4c" stroke="#000000" stroke-width="0.8" stroke-linejoin="miter"/>
<path d="M181.02 415.86L184.21 415.86L182.61 412.99Z" fill="#4c4c4c" stroke="#000000" stroke-width="0.8" stroke-linejoin="miter"/>
<path d="M191.39 416.48L194.58 416.48L192.99 413.6Z" fill="#4c4c4c" stroke="#000000" stroke-width="0.8" stroke-linejoin="miter"/>
<path d="M201.77 416.48L204.96 416.48L203.36 413.6Z" fill="#4c4c4c" stroke="#000000" stroke-width="0.8" stroke-linejoin="miter"/>
<path d="M212.14 416.48L215.33 416.48L213.73 413.6Z" fill="#4c4c4c" stroke="#000000" stroke-width="0.8" stroke-linejoin="miter"/>
<path d="M222.51 416.48L225.7 416.48L224.11 413.6Z" fill="#4c4c4c" stroke="#000000" stroke-width="0.8" stroke-linejoin="miter"/>
<path d="M232.89 416.48L236.08 416.48L234.48 413.6Z" fill="#4c4c4c" stroke="#000000" stroke-width="0.8" stroke-linejoin="miter"/>
<path d="M243.26 416.48L246.45 416.48L244.85 413.6Z" fill="#4c4c4c" stroke="#000000" stroke-width="0.8" stroke-linejoin="miter"/>
<path d="M253.63 416.48L256.82 416.48L255.23 413.6Z" fill="#4c4c4c" stroke="#000000" stroke-width="0.8" stroke-linejoin="miter"/>
<path d="M110 335 L110.8 380 L111.5 407.4 L113.7 416.1 L116.8 419.2 L120 419.2 L161.9 420 L168 420.8 L172.9 421.9 L182.4 422.9 L213 423.8 L217.3 424.8 L223.4 426.5 L234.5 427.3 L266 427.3" fill="none" stroke="#FF0000" stroke-width="0.9" stroke-linejoin="round"/>
<path d="M120.37 417.13L121.36 419.21L120.37 421.28L119.38 419.21Z" fill="#ff4c4c" stroke="#FF0000" stroke-width="0.8" stroke-linejoin="miter"/>
<path d="M130.75 417.33L131.74 419.41L130.75 421.48L129.76 419.41Z" fill="#ff4c4c" stroke="#FF0000" stroke-width="0.8" stroke-linejoin="miter"/>
<path d="M141.12 417.53L142.11 419.6L141.12 421.68L140.13 419.6Z" fill="#ff4c4c" stroke="#FF0000" stroke-width="0.8" stroke-linejoin="miter"/>
<path d="M151.49 417.73L152.48 419.8L151.49 421.87L150.5 419.8Z" fill="#ff4c4c" stroke="#FF0000" stroke-width="0.8" stroke-linejoin="miter"/>
<path d="M161.87 417.93L162.86 420L161.87 422.07L160.88 420Z" fill="#ff4c4c" stroke="#FF0000" stroke-width="0.8" stroke-linejoin="miter"/>
<path d="M172.24 419.68L173.23 421.75L172.24 423.83L171.25 421.75Z" fill="#ff4c4c" stroke="#FF0000" stroke-width="0.8" stroke-linejoin="miter"/>
<path d="M182.61 420.83L183.6 422.91L182.61 424.98L181.62 422.91Z" fill="#ff4c4c" stroke="#FF0000" stroke-width="0.8" stroke-linejoin="miter"/>
<path d="M192.99 421.14L193.98 423.21L192.99 425.28L192 423.21Z" fill="#ff4c4c" stroke="#FF0000" stroke-width="0.8" stroke-linejoin="miter"/>
<path d="M203.36 421.44L204.35 423.52L203.36 425.59L202.37 423.52Z" fill="#ff4c4c" stroke="#FF0000" stroke-width="0.8" stroke-linejoin="miter"/>
<path d="M213.73 421.9L214.72 423.97L213.73 426.04L212.74 423.97Z" fill="#ff4c4c" stroke="#FF0000" stroke-width="0.8" stroke-linejoin="miter"/>
<path d="M224.11 424.48L225.1 426.55L224.11 428.62L223.12 426.55Z" fill="#ff4c4c" stroke="#FF0000" stroke-width="0.8" stroke-linejoin="miter"/>
<path d="M234.48 425.23L235.47 427.3L234.48 429.37L233.49 427.3Z" fill="#ff4c4c" stroke="#FF0000" stroke-width="0.8" stroke-linejoin="miter"/>
<path d="M244.85 425.23L245.84 427.3L244.85 429.37L243.86 427.3Z" fill="#ff4c4c" stroke="#FF0000" stroke-width="0.8" stroke-linejoin="miter"/>
<path d="M255.23 425.23L256.22 427.3L255.23 429.37L254.24 427.3Z" fill="#ff4c4c" stroke="#FF0000" stroke-width="0.8" stroke-linejoin="miter"/>
</svg>
<rect x="225.3" y="309.4" width="35.3" height="41.3" fill="#fff" stroke="#bdbdbd" stroke-width="0.5"/>
<path d="M227.1 313.3H237.7" stroke="#EDB120" stroke-width="0.9"/>
<path d="M230.61 311.87L234.18 311.87L232.4 315.09Z" fill="#f2c862" stroke="#EDB120" stroke-width="0.8" stroke-linejoin="miter"/>
<text x="238.9" y="314.9" font-size="4.45" fill="#2e2e2e">APSO</text>
<path d="M227.1 319.02H237.7" stroke="#FF00FF" stroke-width="0.9"/>
<path d="M233.83 317.24L233.83 320.81L230.61 319.02Z" fill="#ff4cff" stroke="#FF00FF" stroke-width="0.8" stroke-linejoin="miter"/>
<text x="238.9" y="320.62" font-size="4.45" fill="#2e2e2e">WOA</text>
<path d="M227.1 324.74H237.7" stroke="#0000FF" stroke-width="0.9"/>
<path d="M230.97 322.95L230.97 326.53L234.18 324.74Z" fill="#4c4cff" stroke="#0000FF" stroke-width="0.8" stroke-linejoin="miter"/>
<text x="238.9" y="326.34" font-size="4.45" fill="#2e2e2e">GJO</text>
<path d="M227.1 330.46H237.7" stroke="#00FF00" stroke-width="0.9"/>
<path d="M232.4 328.14L233.51 330.46L232.4 332.78L231.29 330.46Z" fill="#4cff4c" stroke="#00FF00" stroke-width="0.8" stroke-linejoin="miter"/>
<text x="238.9" y="332.06" font-size="4.45" fill="#2e2e2e">TSA</text>
<path d="M227.1 336.18H237.7" stroke="#A52AF0" stroke-width="0.9"/>
<circle cx="232.4" cy="336.18" r="1.53" fill="#dba9f9" stroke="#A52AF0" stroke-width="1.1"/>
<text x="238.9" y="337.78" font-size="4.45" fill="#2e2e2e">DBO</text>
<path d="M227.1 341.9H237.7" stroke="#000000" stroke-width="0.9"/>
<path d="M230.61 343.33L234.18 343.33L232.4 340.12Z" fill="#4c4c4c" stroke="#000000" stroke-width="0.8" stroke-linejoin="miter"/>
<text x="238.9" y="343.5" font-size="4.45" fill="#2e2e2e">CryStAl</text>
<path d="M227.1 347.62H237.7" stroke="#FF0000" stroke-width="0.9"/>
<path d="M232.4 345.3L233.51 347.62L232.4 349.94L231.29 347.62Z" fill="#ff4c4c" stroke="#FF0000" stroke-width="0.8" stroke-linejoin="miter"/>
<text x="238.9" y="349.22" font-size="4.45" fill="#2e2e2e">GLCryStAl</text>
<text class="t" x="375.15" y="305.3" font-size="5.3" text-anchor="middle" fill="#2e2e2e">F20</text>
<rect x="297.7" y="307.2" width="154.9" height="122.8" fill="#fff" stroke="#9a9a9a" stroke-width="0.6"/>
<path d="M323.52 430v-1.4M323.52 307.2v1.4" stroke="#9a9a9a" stroke-width="0.5"/>
<text x="323.52" y="437.2" font-size="4.6" text-anchor="middle" fill="#2e2e2e">500</text>
<path d="M349.33 430v-1.4M349.33 307.2v1.4" stroke="#9a9a9a" stroke-width="0.5"/>
<text x="349.33" y="437.2" font-size="4.6" text-anchor="middle" fill="#2e2e2e">1000</text>
<path d="M375.15 430v-1.4M375.15 307.2v1.4" stroke="#9a9a9a" stroke-width="0.5"/>
<text x="375.15" y="437.2" font-size="4.6" text-anchor="middle" fill="#2e2e2e">1500</text>
<path d="M400.97 430v-1.4M400.97 307.2v1.4" stroke="#9a9a9a" stroke-width="0.5"/>
<text x="400.97" y="437.2" font-size="4.6" text-anchor="middle" fill="#2e2e2e">2000</text>
<path d="M426.78 430v-1.4M426.78 307.2v1.4" stroke="#9a9a9a" stroke-width="0.5"/>
<text x="426.78" y="437.2" font-size="4.6" text-anchor="middle" fill="#2e2e2e">2500</text>
<path d="M452.6 430v-1.4M452.6 307.2v1.4" stroke="#9a9a9a" stroke-width="0.5"/>
<text x="452.6" y="437.2" font-size="4.6" text-anchor="middle" fill="#2e2e2e">3000</text>
<path d="M297.7 316.9h1.4M452.6 316.9h-1.4" stroke="#9a9a9a" stroke-width="0.5"/>
<text x="295.4" y="318.6" font-size="4.8" text-anchor="end" fill="#2e2e2e">10000</text>
<path d="M297.7 329.43h1.4M452.6 329.43h-1.4" stroke="#9a9a9a" stroke-width="0.5"/>
<text x="295.4" y="331.13" font-size="4.8" text-anchor="end" fill="#2e2e2e">9000</text>
<path d="M297.7 343.44h1.4M452.6 343.44h-1.4" stroke="#9a9a9a" stroke-width="0.5"/>
<text x="295.4" y="345.14" font-size="4.8" text-anchor="end" fill="#2e2e2e">8000</text>
<path d="M297.7 359.33h1.4M452.6 359.33h-1.4" stroke="#9a9a9a" stroke-width="0.5"/>
<text x="295.4" y="361.03" font-size="4.8" text-anchor="end" fill="#2e2e2e">7000</text>
<path d="M297.7 377.66h1.4M452.6 377.66h-1.4" stroke="#9a9a9a" stroke-width="0.5"/>
<text x="295.4" y="379.36" font-size="4.8" text-anchor="end" fill="#2e2e2e">6000</text>
<path d="M297.7 399.35h1.4M452.6 399.35h-1.4" stroke="#9a9a9a" stroke-width="0.5"/>
<text x="295.4" y="401.05" font-size="4.8" text-anchor="end" fill="#2e2e2e">5000</text>
<path d="M297.7 425.9h1.4M452.6 425.9h-1.4" stroke="#9a9a9a" stroke-width="0.5"/>
<text x="295.4" y="427.6" font-size="4.8" text-anchor="end" fill="#2e2e2e">4000</text>
<text x="375.15" y="443.8" font-size="5.3" text-anchor="middle" fill="#2e2e2e">Iteration</text>
<text x="373.95" y="450.2" font-size="4.6" text-anchor="middle" fill="#2e2e2e">(u) F<tspan font-size="3.8" dy="1.3">20</tspan></text>
<text transform="translate(279.3 368.6) rotate(-90)" font-size="5.2" text-anchor="middle" fill="#2e2e2e">Best score obtained so far</text>
<svg x="295.7" y="304.2" width="158.9" height="127.8" viewBox="295.7 304.2 158.9 127.8" overflow="hidden">
<path d="M297.7 317.7 L298.4 334 L300 343.2 L303.8 348.6 L307.7 351.2 L317 351.7 L453 351.6" fill="none" stroke="#EDB120" stroke-width="0.9" stroke-linejoin="round"/>
<path d="M296.1 316.42L299.3 316.42L297.7 319.3Z" fill="#f2c862" stroke="#EDB120" stroke-width="0.8" stroke-linejoin="miter"/>
<path d="M306.43 349.94L309.62 349.94L308.03 352.81Z" fill="#f2c862" stroke="#EDB120" stroke-width="0.8" stroke-linejoin="miter"/>
<path d="M316.76 350.42L319.95 350.42L318.35 353.29Z" fill="#f2c862" stroke="#EDB120" stroke-width="0.8" stroke-linejoin="miter"/>
<path d="M327.08 350.42L330.28 350.42L328.68 353.29Z" fill="#f2c862" stroke="#EDB120" stroke-width="0.8" stroke-linejoin="miter"/>
<path d="M337.41 350.41L340.6 350.41L339.01 353.28Z" fill="#f2c862" stroke="#EDB120" stroke-width="0.8" stroke-linejoin="miter"/>
<path d="M347.74 350.4L350.93 350.4L349.33 353.27Z" fill="#f2c862" stroke="#EDB120" stroke-width="0.8" stroke-linejoin="miter"/>
<path d="M358.06 350.39L361.25 350.39L359.66 353.26Z" fill="#f2c862" stroke="#EDB120" stroke-width="0.8" stroke-linejoin="miter"/>
<path d="M368.39 350.39L371.58 350.39L369.99 353.26Z" fill="#f2c862" stroke="#EDB120" stroke-width="0.8" stroke-linejoin="miter"/>
<path d="M378.72 350.38L381.91 350.38L380.31 353.25Z" fill="#f2c862" stroke="#EDB120" stroke-width="0.8" stroke-linejoin="miter"/>
<path d="M389.04 350.37L392.24 350.37L390.64 353.24Z" fill="#f2c862" stroke="#EDB120" stroke-width="0.8" stroke-linejoin="miter"/>
<path d="M399.37 350.36L402.56 350.36L400.97 353.23Z" fill="#f2c862" stroke="#EDB120" stroke-width="0.8" stroke-linejoin="miter"/>
<path d="M409.7 350.35L412.89 350.35L411.29 353.23Z" fill="#f2c862" stroke="#EDB120" stroke-width="0.8" stroke-linejoin="miter"/>
<path d="M420.02 350.35L423.22 350.35L421.62 353.22Z" fill="#f2c862" stroke="#EDB120" stroke-width="0.8" stroke-linejoin="miter"/>
<path d="M430.35 350.34L433.54 350.34L431.95 353.21Z" fill="#f2c862" stroke="#EDB120" stroke-width="0.8" stroke-linejoin="miter"/>
<path d="M440.68 350.33L443.87 350.33L442.27 353.2Z" fill="#f2c862" stroke="#EDB120" stroke-width="0.8" stroke-linejoin="miter"/>
<path d="M297.7 307.6 L297.9 334 L298.4 358.6 L302.3 362.5 L307.4 365.8 L317.7 367.6 L322.4 369.4 L328.5 371 L338 371.8 L453 372.3" fill="none" stroke="#FF00FF" stroke-width="0.9" stroke-linejoin="round"/>
<path d="M298.98 306L298.98 309.2L296.1 307.6Z" fill="#ff4cff" stroke="#FF00FF" stroke-width="0.8" stroke-linejoin="miter"/>
<path d="M309.3 364.31L309.3 367.5L306.43 365.91Z" fill="#ff4cff" stroke="#FF00FF" stroke-width="0.8" stroke-linejoin="miter"/>
<path d="M319.63 366.26L319.63 369.45L316.76 367.85Z" fill="#ff4cff" stroke="#FF00FF" stroke-width="0.8" stroke-linejoin="miter"/>
<path d="M329.96 369.42L329.96 372.61L327.08 371.02Z" fill="#ff4cff" stroke="#FF00FF" stroke-width="0.8" stroke-linejoin="miter"/>
<path d="M340.28 370.21L340.28 373.4L337.41 371.8Z" fill="#ff4cff" stroke="#FF00FF" stroke-width="0.8" stroke-linejoin="miter"/>
<path d="M350.61 370.25L350.61 373.44L347.74 371.85Z" fill="#ff4cff" stroke="#FF00FF" stroke-width="0.8" stroke-linejoin="miter"/>
<path d="M360.94 370.3L360.94 373.49L358.06 371.89Z" fill="#ff4cff" stroke="#FF00FF" stroke-width="0.8" stroke-linejoin="miter"/>
<path d="M371.26 370.34L371.26 373.53L368.39 371.94Z" fill="#ff4cff" stroke="#FF00FF" stroke-width="0.8" stroke-linejoin="miter"/>
<path d="M381.59 370.39L381.59 373.58L378.72 371.98Z" fill="#ff4cff" stroke="#FF00FF" stroke-width="0.8" stroke-linejoin="miter"/>
<path d="M391.92 370.43L391.92 373.62L389.04 372.03Z" fill="#ff4cff" stroke="#FF00FF" stroke-width="0.8" stroke-linejoin="miter"/>
<path d="M402.24 370.48L402.24 373.67L399.37 372.07Z" fill="#ff4cff" stroke="#FF00FF" stroke-width="0.8" stroke-linejoin="miter"/>
<path d="M412.57 370.52L412.57 373.71L409.7 372.12Z" fill="#ff4cff" stroke="#FF00FF" stroke-width="0.8" stroke-linejoin="miter"/>
<path d="M422.9 370.57L422.9 373.76L420.02 372.16Z" fill="#ff4cff" stroke="#FF00FF" stroke-width="0.8" stroke-linejoin="miter"/>
<path d="M433.22 370.61L433.22 373.8L430.35 372.21Z" fill="#ff4cff" stroke="#FF00FF" stroke-width="0.8" stroke-linejoin="miter"/>
<path d="M443.55 370.66L443.55 373.85L440.68 372.25Z" fill="#ff4cff" stroke="#FF00FF" stroke-width="0.8" stroke-linejoin="miter"/>
<path d="M297.7 320.8 L298.3 360 L298.9 405 L302.6 410.4 L307.4 411.5 L339.4 411.5 L341 414.4 L348.2 415.2 L349 419.2 L359.4 419.5 L370 421.1 L380.2 422.5 L400.6 423.6 L410.8 425.6 L421 427.2 L431.2 428 L441.3 428.7 L452.6 429.8" fill="none" stroke="#0000FF" stroke-width="0.9" stroke-linejoin="round"/>
<path d="M296.42 319.2L296.42 322.4L299.3 320.8Z" fill="#4c4cff" stroke="#0000FF" stroke-width="0.8" stroke-linejoin="miter"/>
<path d="M306.75 409.9L306.75 413.1L309.62 411.5Z" fill="#4c4cff" stroke="#0000FF" stroke-width="0.8" stroke-linejoin="miter"/>
<path d="M317.08 409.9L317.08 413.1L319.95 411.5Z" fill="#4c4cff" stroke="#0000FF" stroke-width="0.8" stroke-linejoin="miter"/>
<path d="M327.4 409.9L327.4 413.1L330.28 411.5Z" fill="#4c4cff" stroke="#0000FF" stroke-width="0.8" stroke-linejoin="miter"/>
<path d="M337.73 409.9L337.73 413.1L340.6 411.5Z" fill="#4c4cff" stroke="#0000FF" stroke-width="0.8" stroke-linejoin="miter"/>
<path d="M348.06 417.61L348.06 420.8L350.93 419.21Z" fill="#4c4cff" stroke="#0000FF" stroke-width="0.8" stroke-linejoin="miter"/>
<path d="M358.38 417.94L358.38 421.13L361.25 419.54Z" fill="#4c4cff" stroke="#0000FF" stroke-width="0.8" stroke-linejoin="miter"/>
<path d="M368.71 419.5L368.71 422.69L371.58 421.1Z" fill="#4c4cff" stroke="#0000FF" stroke-width="0.8" stroke-linejoin="miter"/>
<path d="M379.04 420.91L379.04 424.1L381.91 422.51Z" fill="#4c4cff" stroke="#0000FF" stroke-width="0.8" stroke-linejoin="miter"/>
<path d="M389.36 421.47L389.36 424.66L392.24 423.06Z" fill="#4c4cff" stroke="#0000FF" stroke-width="0.8" stroke-linejoin="miter"/>
<path d="M399.69 422.08L399.69 425.27L402.56 423.67Z" fill="#4c4cff" stroke="#0000FF" stroke-width="0.8" stroke-linejoin="miter"/>
<path d="M410.02 424.08L410.02 427.27L412.89 425.68Z" fill="#4c4cff" stroke="#0000FF" stroke-width="0.8" stroke-linejoin="miter"/>
<path d="M420.34 425.65L420.34 428.84L423.22 427.25Z" fill="#4c4cff" stroke="#0000FF" stroke-width="0.8" stroke-linejoin="miter"/>
<path d="M430.67 426.46L430.67 429.65L433.54 428.05Z" fill="#4c4cff" stroke="#0000FF" stroke-width="0.8" stroke-linejoin="miter"/>
<path d="M441 427.2L441 430.39L443.87 428.79Z" fill="#4c4cff" stroke="#0000FF" stroke-width="0.8" stroke-linejoin="miter"/>
<path d="M297.7 342.4 L298.5 346 L300 357.1 L302.3 362.4 L305.8 368.8 L307.4 369.9 L317.7 372 L325 372.8 L326.6 374.4 L328.2 376 L331.4 379.2 L336.2 383.2 L338.6 388 L341 389.6 L366 389.3 L370 389.3 L380.2 392.6 L390.4 394 L400.6 396 L410.8 396 L418.9 397 L421 400.1 L452.6 400.1" fill="none" stroke="#00FF00" stroke-width="0.9" stroke-linejoin="round"/>
<path d="M297.7 340.33L298.69 342.4L297.7 344.47L296.71 342.4Z" fill="#4cff4c" stroke="#00FF00" stroke-width="0.8" stroke-linejoin="miter"/>
<path d="M308.03 367.95L309.02 370.03L308.03 372.1L307.04 370.03Z" fill="#4cff4c" stroke="#00FF00" stroke-width="0.8" stroke-linejoin="miter"/>
<path d="M318.35 370L319.34 372.07L318.35 374.15L317.36 372.07Z" fill="#4cff4c" stroke="#00FF00" stroke-width="0.8" stroke-linejoin="miter"/>
<path d="M328.68 374.41L329.67 376.48L328.68 378.55L327.69 376.48Z" fill="#4cff4c" stroke="#00FF00" stroke-width="0.8" stroke-linejoin="miter"/>
<path d="M339.01 386.2L340 388.27L339.01 390.34L338.02 388.27Z" fill="#4cff4c" stroke="#00FF00" stroke-width="0.8" stroke-linejoin="miter"/>
<path d="M349.33 387.43L350.32 389.5L349.33 391.57L348.34 389.5Z" fill="#4cff4c" stroke="#00FF00" stroke-width="0.8" stroke-linejoin="miter"/>
<path d="M359.66 387.3L360.65 389.38L359.66 391.45L358.67 389.38Z" fill="#4cff4c" stroke="#00FF00" stroke-width="0.8" stroke-linejoin="miter"/>
<path d="M369.99 387.23L370.98 389.3L369.99 391.37L369 389.3Z" fill="#4cff4c" stroke="#00FF00" stroke-width="0.8" stroke-linejoin="miter"/>
<path d="M380.31 390.54L381.3 392.62L380.31 394.69L379.32 392.62Z" fill="#4cff4c" stroke="#00FF00" stroke-width="0.8" stroke-linejoin="miter"/>
<path d="M390.64 391.97L391.63 394.05L390.64 396.12L389.65 394.05Z" fill="#4cff4c" stroke="#00FF00" stroke-width="0.8" stroke-linejoin="miter"/>
<path d="M400.97 393.93L401.96 396L400.97 398.07L399.98 396Z" fill="#4cff4c" stroke="#00FF00" stroke-width="0.8" stroke-linejoin="miter"/>
<path d="M411.29 393.99L412.28 396.06L411.29 398.13L410.3 396.06Z" fill="#4cff4c" stroke="#00FF00" stroke-width="0.8" stroke-linejoin="miter"/>
<path d="M421.62 398.03L422.61 400.1L421.62 402.17L420.63 400.1Z" fill="#4cff4c" stroke="#00FF00" stroke-width="0.8" stroke-linejoin="miter"/>
<path d="M431.95 398.03L432.94 400.1L431.95 402.17L430.96 400.1Z" fill="#4cff4c" stroke="#00FF00" stroke-width="0.8" stroke-linejoin="miter"/>
<path d="M442.27 398.03L443.26 400.1L442.27 402.17L441.28 400.1Z" fill="#4cff4c" stroke="#00FF00" stroke-width="0.8" stroke-linejoin="miter"/>
<path d="M297.7 338.2 L298.2 380 L298.9 418 L301 421.6 L307.4 422.1 L453 422.2" fill="none" stroke="#A52AF0" stroke-width="0.9" stroke-linejoin="round"/>
<circle cx="297.7" cy="338.2" r="1.4" fill="#dba9f9" stroke="#A52AF0" stroke-width="1.1"/>
<circle cx="308.03" cy="422.1" r="1.4" fill="#dba9f9" stroke="#A52AF0" stroke-width="1.1"/>
<circle cx="318.35" cy="422.11" r="1.4" fill="#dba9f9" stroke="#A52AF0" stroke-width="1.1"/>
<circle cx="328.68" cy="422.11" r="1.4" fill="#dba9f9" stroke="#A52AF0" stroke-width="1.1"/>
<circle cx="339.01" cy="422.12" r="1.4" fill="#dba9f9" stroke="#A52AF0" stroke-width="1.1"/>
<circle cx="349.33" cy="422.13" r="1.4" fill="#dba9f9" stroke="#A52AF0" stroke-width="1.1"/>
<circle cx="359.66" cy="422.14" r="1.4" fill="#dba9f9" stroke="#A52AF0" stroke-width="1.1"/>
<circle cx="369.99" cy="422.14" r="1.4" fill="#dba9f9" stroke="#A52AF0" stroke-width="1.1"/>
<circle cx="380.31" cy="422.15" r="1.4" fill="#dba9f9" stroke="#A52AF0" stroke-width="1.1"/>
<circle cx="390.64" cy="422.16" r="1.4" fill="#dba9f9" stroke="#A52AF0" stroke-width="1.1"/>
<circle cx="400.97" cy="422.16" r="1.4" fill="#dba9f9" stroke="#A52AF0" stroke-width="1.1"/>
<circle cx="411.29" cy="422.17" r="1.4" fill="#dba9f9" stroke="#A52AF0" stroke-width="1.1"/>
<circle cx="421.62" cy="422.18" r="1.4" fill="#dba9f9" stroke="#A52AF0" stroke-width="1.1"/>
<circle cx="431.95" cy="422.19" r="1.4" fill="#dba9f9" stroke="#A52AF0" stroke-width="1.1"/>
<circle cx="442.27" cy="422.19" r="1.4" fill="#dba9f9" stroke="#A52AF0" stroke-width="1.1"/>
<path d="M297.7 360 L298.2 390 L298.9 409.6 L304.2 412 L307.4 415.2 L317.7 416 L338.6 416.3 L349 416.8 L453 416.6" fill="none" stroke="#000000" stroke-width="0.9" stroke-linejoin="round"/>
<path d="M306.43 416.52L309.62 416.52L308.03 413.65Z" fill="#4c4c4c" stroke="#000000" stroke-width="0.8" stroke-linejoin="miter"/>
<path d="M316.76 417.29L319.95 417.29L318.35 414.41Z" fill="#4c4c4c" stroke="#000000" stroke-width="0.8" stroke-linejoin="miter"/>
<path d="M327.08 417.43L330.28 417.43L328.68 414.56Z" fill="#4c4c4c" stroke="#000000" stroke-width="0.8" stroke-linejoin="miter"/>
<path d="M337.41 417.6L340.6 417.6L339.01 414.72Z" fill="#4c4c4c" stroke="#000000" stroke-width="0.8" stroke-linejoin="miter"/>
<path d="M347.74 418.08L350.93 418.08L349.33 415.2Z" fill="#4c4c4c" stroke="#000000" stroke-width="0.8" stroke-linejoin="miter"/>
<path d="M358.06 418.06L361.25 418.06L359.66 415.18Z" fill="#4c4c4c" stroke="#000000" stroke-width="0.8" stroke-linejoin="miter"/>
<path d="M368.39 418.04L371.58 418.04L369.99 415.16Z" fill="#4c4c4c" stroke="#000000" stroke-width="0.8" stroke-linejoin="miter"/>
<path d="M378.72 418.02L381.91 418.02L380.31 415.14Z" fill="#4c4c4c" stroke="#000000" stroke-width="0.8" stroke-linejoin="miter"/>
<path d="M389.04 418L392.24 418L390.64 415.12Z" fill="#4c4c4c" stroke="#000000" stroke-width="0.8" stroke-linejoin="miter"/>
<path d="M399.37 417.98L402.56 417.98L400.97 415.11Z" fill="#4c4c4c" stroke="#000000" stroke-width="0.8" stroke-linejoin="miter"/>
<path d="M409.7 417.96L412.89 417.96L411.29 415.09Z" fill="#4c4c4c" stroke="#000000" stroke-width="0.8" stroke-linejoin="miter"/>
<path d="M420.02 417.94L423.22 417.94L421.62 415.07Z" fill="#4c4c4c" stroke="#000000" stroke-width="0.8" stroke-linejoin="miter"/>
<path d="M430.35 417.92L433.54 417.92L431.95 415.05Z" fill="#4c4c4c" stroke="#000000" stroke-width="0.8" stroke-linejoin="miter"/>
<path d="M440.68 417.9L443.87 417.9L442.27 415.03Z" fill="#4c4c4c" stroke="#000000" stroke-width="0.8" stroke-linejoin="miter"/>
<path d="M297.7 312 L297.9 340 L298.3 390 L299.2 405 L302.6 416 L307.4 418.4 L310.6 420 L317.7 421.1 L328.2 422.8 L348.5 422.8 L350.6 424 L360 424.2 L370 424.5 L380.2 425.6 L390.4 427.6 L400.6 428.4 L410.8 428.4 L421 429 L431.2 430 L452.6 430.4" fill="none" stroke="#FF0000" stroke-width="0.9" stroke-linejoin="round"/>
<path d="M308.03 416.64L309.02 418.71L308.03 420.79L307.04 418.71Z" fill="#ff4c4c" stroke="#FF0000" stroke-width="0.8" stroke-linejoin="miter"/>
<path d="M318.35 419.13L319.34 421.21L318.35 423.28L317.36 421.21Z" fill="#ff4c4c" stroke="#FF0000" stroke-width="0.8" stroke-linejoin="miter"/>
<path d="M328.68 420.73L329.67 422.8L328.68 424.87L327.69 422.8Z" fill="#ff4c4c" stroke="#FF0000" stroke-width="0.8" stroke-linejoin="miter"/>
<path d="M339.01 420.73L340 422.8L339.01 424.87L338.02 422.8Z" fill="#ff4c4c" stroke="#FF0000" stroke-width="0.8" stroke-linejoin="miter"/>
<path d="M349.33 421.2L350.32 423.28L349.33 425.35L348.34 423.28Z" fill="#ff4c4c" stroke="#FF0000" stroke-width="0.8" stroke-linejoin="miter"/>
<path d="M359.66 422.12L360.65 424.19L359.66 426.27L358.67 424.19Z" fill="#ff4c4c" stroke="#FF0000" stroke-width="0.8" stroke-linejoin="miter"/>
<path d="M369.99 422.43L370.98 424.5L369.99 426.57L369 424.5Z" fill="#ff4c4c" stroke="#FF0000" stroke-width="0.8" stroke-linejoin="miter"/>
<path d="M380.31 423.55L381.3 425.62L380.31 427.7L379.32 425.62Z" fill="#ff4c4c" stroke="#FF0000" stroke-width="0.8" stroke-linejoin="miter"/>
<path d="M390.64 425.55L391.63 427.62L390.64 429.69L389.65 427.62Z" fill="#ff4c4c" stroke="#FF0000" stroke-width="0.8" stroke-linejoin="miter"/>
<path d="M400.97 426.33L401.96 428.4L400.97 430.47L399.98 428.4Z" fill="#ff4c4c" stroke="#FF0000" stroke-width="0.8" stroke-linejoin="miter"/>
<path d="M411.29 426.36L412.28 428.43L411.29 430.5L410.3 428.43Z" fill="#ff4c4c" stroke="#FF0000" stroke-width="0.8" stroke-linejoin="miter"/>
<path d="M421.62 426.99L422.61 429.06L421.62 431.13L420.63 429.06Z" fill="#ff4c4c" stroke="#FF0000" stroke-width="0.8" stroke-linejoin="miter"/>
<path d="M431.95 427.94L432.94 430.01L431.95 432.09L430.96 430.01Z" fill="#ff4c4c" stroke="#FF0000" stroke-width="0.8" stroke-linejoin="miter"/>
<path d="M442.27 428.13L443.26 430.21L442.27 432.28L441.28 430.21Z" fill="#ff4c4c" stroke="#FF0000" stroke-width="0.8" stroke-linejoin="miter"/>
</svg>
<rect x="412.1" y="309" width="35.2" height="40.5" fill="#fff" stroke="#bdbdbd" stroke-width="0.5"/>
<path d="M413.9 313H424.7" stroke="#EDB120" stroke-width="0.9"/>
<path d="M417.51 311.57L421.08 311.57L419.3 314.79Z" fill="#f2c862" stroke="#EDB120" stroke-width="0.8" stroke-linejoin="miter"/>
<text x="425.6" y="314.6" font-size="4.45" fill="#2e2e2e">APSO</text>
<path d="M413.9 318.67H424.7" stroke="#FF00FF" stroke-width="0.9"/>
<path d="M420.73 316.88L420.73 320.46L417.51 318.67Z" fill="#ff4cff" stroke="#FF00FF" stroke-width="0.8" stroke-linejoin="miter"/>
<text x="425.6" y="320.27" font-size="4.45" fill="#2e2e2e">WOA</text>
<path d="M413.9 324.34H424.7" stroke="#0000FF" stroke-width="0.9"/>
<path d="M417.87 322.55L417.87 326.12L421.08 324.34Z" fill="#4c4cff" stroke="#0000FF" stroke-width="0.8" stroke-linejoin="miter"/>
<text x="425.6" y="325.94" font-size="4.45" fill="#2e2e2e">GJO</text>
<path d="M413.9 330.01H424.7" stroke="#00FF00" stroke-width="0.9"/>
<path d="M419.3 327.69L420.41 330.01L419.3 332.33L418.19 330.01Z" fill="#4cff4c" stroke="#00FF00" stroke-width="0.8" stroke-linejoin="miter"/>
<text x="425.6" y="331.61" font-size="4.45" fill="#2e2e2e">TSA</text>
<path d="M413.9 335.68H424.7" stroke="#A52AF0" stroke-width="0.9"/>
<circle cx="419.3" cy="335.68" r="1.53" fill="#dba9f9" stroke="#A52AF0" stroke-width="1.1"/>
<text x="425.6" y="337.28" font-size="4.45" fill="#2e2e2e">DBO</text>
<path d="M413.9 341.35H424.7" stroke="#000000" stroke-width="0.9"/>
<path d="M417.51 342.78L421.08 342.78L419.3 339.56Z" fill="#4c4c4c" stroke="#000000" stroke-width="0.8" stroke-linejoin="miter"/>
<text x="425.6" y="342.95" font-size="4.45" fill="#2e2e2e">CryStAl</text>
<path d="M413.9 347.02H424.7" stroke="#FF0000" stroke-width="0.9"/>
<path d="M419.3 344.7L420.41 347.02L419.3 349.34L418.19 347.02Z" fill="#ff4c4c" stroke="#FF0000" stroke-width="0.8" stroke-linejoin="miter"/>
<text x="425.6" y="348.62" font-size="4.45" fill="#2e2e2e">GLCryStAl</text>
</svg>
</body></html>
